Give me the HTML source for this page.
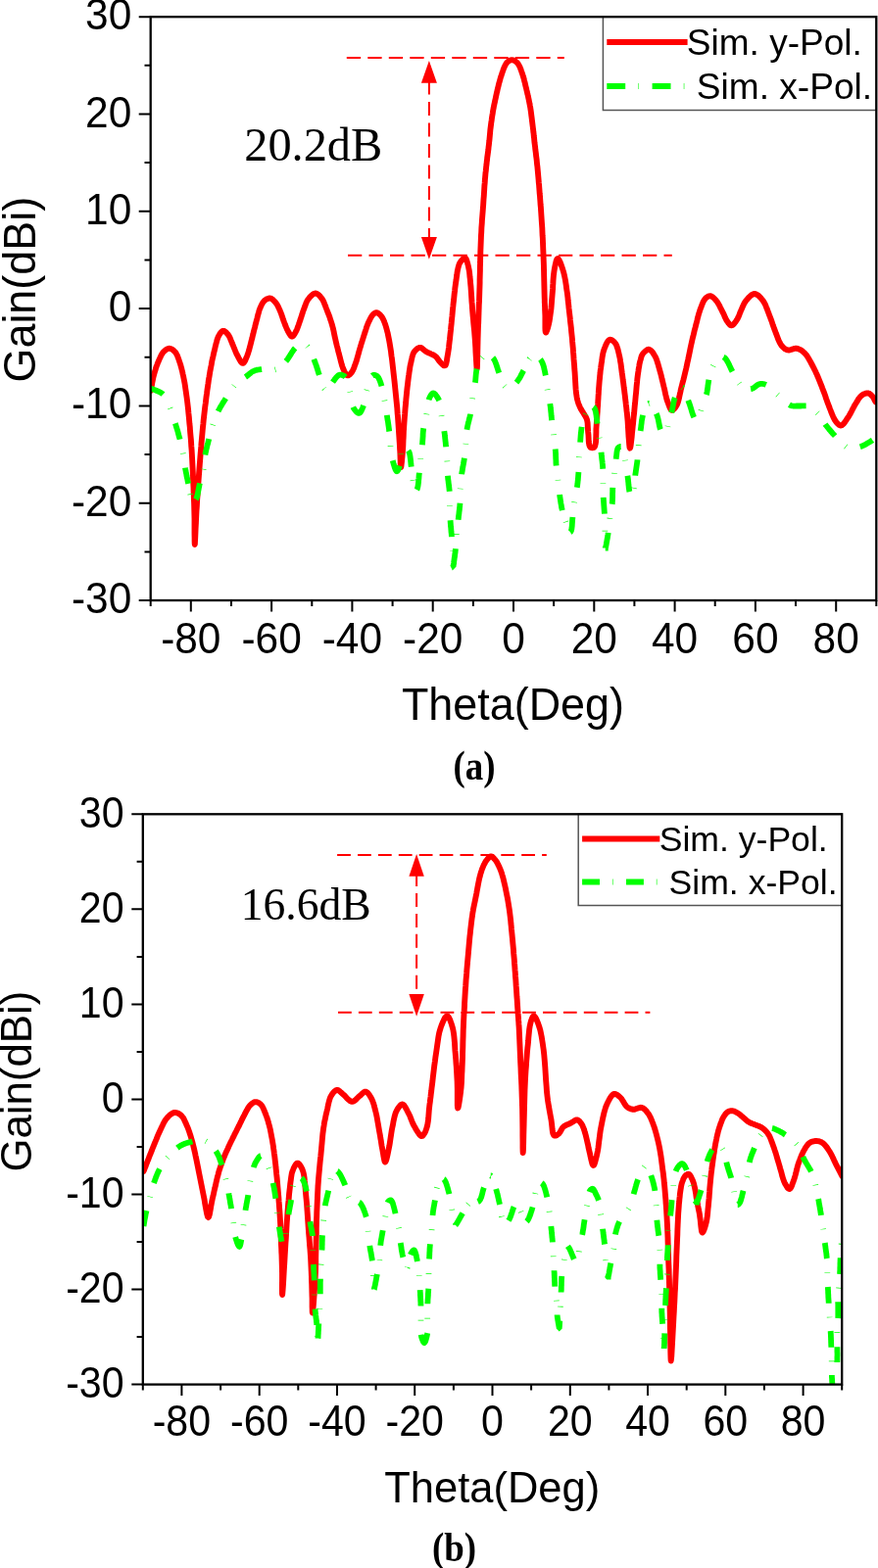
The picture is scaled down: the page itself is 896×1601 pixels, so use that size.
<!DOCTYPE html>
<html><head><meta charset="utf-8"><style>
html,body{margin:0;padding:0;background:#fff;}
svg{display:block;}
.sans{font-family:"Liberation Sans",Arial,sans-serif;fill:#000;}
.serifb{font-family:"Liberation Serif","Times New Roman",serif;font-weight:bold;fill:#000;}
.serif{font-family:"Liberation Serif","Times New Roman",serif;fill:#000;}
</style></head><body>
<svg width="896" height="1601" viewBox="0 0 896 1601">
<rect width="896" height="1601" fill="#fff"/>
<path d="M141.7,613.0 H153.7 M147.5,563.4 H153.7 M141.7,513.7 H153.7 M147.5,464.0 H153.7 M141.7,414.4 H153.7 M147.5,364.8 H153.7 M141.7,315.1 H153.7 M147.5,265.4 H153.7 M141.7,215.8 H153.7 M147.5,166.1 H153.7 M141.7,116.5 H153.7 M147.5,66.8 H153.7 M141.7,17.2 H153.7 M153.7,613.0 V619.0 M194.8,613.0 V624.5 M236.0,613.0 V619.0 M277.1,613.0 V624.5 M318.3,613.0 V619.0 M359.4,613.0 V624.5 M400.6,613.0 V619.0 M441.7,613.0 V624.5 M482.9,613.0 V619.0 M524.0,613.0 V624.5 M565.1,613.0 V619.0 M606.3,613.0 V624.5 M647.4,613.0 V619.0 M688.6,613.0 V624.5 M729.7,613.0 V619.0 M770.9,613.0 V624.5 M812.0,613.0 V619.0 M853.2,613.0 V624.5 M894.3,613.0 V619.0" stroke="#000" stroke-width="2" fill="none"/>
<clipPath id="c1"><rect x="153.7" y="17.2" width="740.5999999999999" height="595.8"/></clipPath>
<g clip-path="url(#c1)">
<path d="M153.9,398.8 L154.3,396.8 L154.6,394.8 L155.0,392.8 L155.3,390.9 L155.7,388.9 L156.1,386.9 L156.5,385.0 L157.0,383.1 L157.5,381.3 L158.0,379.4 L158.6,377.6 L159.1,375.8 L159.7,374.0 L160.4,372.3 L161.0,370.6 L161.7,369.0 L162.3,367.6 L162.9,366.2 L163.6,364.8 L164.2,363.4 L164.9,362.1 L165.6,360.9 L166.4,359.8 L167.2,358.9 L167.9,358.3 L168.6,357.7 L169.3,357.1 L170.1,356.7 L170.8,356.3 L171.6,356.0 L172.4,355.8 L173.1,355.8 L173.8,355.9 L174.6,356.2 L175.4,356.6 L176.1,357.1 L176.9,357.6 L177.6,358.3 L178.3,359.0 L178.9,359.7 L179.7,360.7 L180.3,361.9 L181.0,363.2 L181.5,364.6 L182.1,366.1 L182.6,367.6 L183.1,369.1 L183.6,370.6 L184.2,372.4 L184.7,374.2 L185.2,376.1 L185.7,378.1 L186.2,380.0 L186.6,382.1 L187.1,384.1 L187.5,386.2 L188.0,388.8 L188.5,391.4 L188.9,394.0 L189.3,396.8 L189.7,399.5 L190.1,402.3 L190.5,405.2 L190.9,408.1 L191.3,411.4 L191.7,414.9 L192.1,418.4 L192.4,422.0 L192.8,425.6 L193.1,429.2 L193.4,432.7 L193.8,436.2 L194.0,439.6 L194.3,442.9 L194.6,446.2 L194.9,449.4 L195.1,452.7 L195.3,456.0 L195.6,459.4 L195.8,462.8 L196.0,466.6 L196.2,470.4 L196.4,474.3 L196.6,478.2 L196.8,482.2 L197.0,486.1 L197.1,490.1 L197.3,494.0 L197.5,497.9 L197.6,501.8 L197.8,505.7 L197.9,509.7 L198.1,513.6 L198.2,517.5 L198.3,521.4 L198.4,525.3 L198.5,529.6 L198.5,534.4 L198.5,539.5 L198.5,544.5 L198.6,549.0 L198.6,552.6 L198.7,555.1 L198.8,556.0 L198.9,555.1 L199.0,552.7 L199.2,549.0 L199.4,544.5 L199.6,539.5 L199.9,534.4 L200.1,529.6 L200.3,525.3 L200.5,521.4 L200.8,517.5 L201.0,513.6 L201.2,509.7 L201.5,505.7 L201.8,501.8 L202.0,497.9 L202.3,494.0 L202.6,490.1 L202.9,486.1 L203.2,482.2 L203.5,478.2 L203.8,474.3 L204.1,470.4 L204.4,466.6 L204.7,462.8 L205.0,459.4 L205.3,456.0 L205.5,452.7 L205.8,449.4 L206.1,446.2 L206.4,442.9 L206.7,439.6 L207.0,436.2 L207.4,432.8 L207.7,429.2 L208.1,425.7 L208.5,422.2 L208.9,418.6 L209.3,415.1 L209.8,411.6 L210.2,408.1 L210.6,404.7 L211.1,401.4 L211.5,398.0 L212.0,394.7 L212.5,391.4 L212.9,388.1 L213.5,384.8 L214.0,381.6 L214.5,378.6 L215.1,375.5 L215.7,372.5 L216.2,369.4 L216.8,366.5 L217.5,363.6 L218.1,360.8 L218.8,358.1 L219.3,355.9 L219.8,353.7 L220.3,351.6 L220.9,349.5 L221.4,347.5 L222.0,345.6 L222.7,343.9 L223.4,342.5 L223.9,341.7 L224.4,340.8 L224.9,340.1 L225.5,339.4 L226.1,338.8 L226.6,338.3 L227.2,337.9 L227.8,337.8 L228.4,337.9 L229.0,338.1 L229.7,338.5 L230.3,339.0 L231.0,339.6 L231.6,340.3 L232.2,341.0 L232.8,341.7 L233.5,342.7 L234.1,343.8 L234.7,345.1 L235.3,346.4 L235.8,347.8 L236.4,349.2 L236.9,350.6 L237.5,351.9 L238.1,353.3 L238.6,354.6 L239.2,356.0 L239.8,357.5 L240.3,358.8 L240.9,360.2 L241.5,361.5 L242.2,362.8 L242.8,364.0 L243.5,365.3 L244.2,366.7 L245.0,368.0 L245.7,369.2 L246.4,370.1 L247.1,370.7 L247.8,370.9 L248.4,370.7 L249.0,370.1 L249.6,369.2 L250.2,368.2 L250.7,366.9 L251.3,365.6 L251.8,364.3 L252.3,363.1 L252.9,361.4 L253.5,359.6 L254.1,357.7 L254.6,355.7 L255.1,353.7 L255.7,351.6 L256.2,349.5 L256.7,347.5 L257.3,345.3 L257.8,343.1 L258.4,340.8 L258.9,338.5 L259.5,336.3 L260.1,334.0 L260.6,331.8 L261.2,329.6 L261.7,327.6 L262.3,325.5 L262.8,323.4 L263.3,321.3 L263.9,319.3 L264.4,317.4 L265.0,315.6 L265.7,314.0 L266.2,312.9 L266.7,311.8 L267.2,310.8 L267.7,309.9 L268.2,309.0 L268.8,308.2 L269.4,307.4 L270.1,306.8 L270.7,306.3 L271.4,305.8 L272.1,305.4 L272.8,305.0 L273.6,304.8 L274.3,304.6 L275.0,304.5 L275.7,304.5 L276.4,304.7 L277.2,305.1 L277.9,305.5 L278.6,306.1 L279.3,306.8 L280.0,307.5 L280.7,308.3 L281.3,309.0 L282.0,309.9 L282.6,310.8 L283.2,311.8 L283.7,312.9 L284.3,314.0 L284.8,315.1 L285.3,316.2 L285.8,317.4 L286.4,318.8 L287.0,320.3 L287.5,321.9 L288.1,323.5 L288.6,325.1 L289.1,326.6 L289.7,328.2 L290.2,329.6 L290.7,330.8 L291.1,332.0 L291.6,333.2 L292.1,334.4 L292.6,335.5 L293.0,336.6 L293.6,337.6 L294.1,338.6 L294.6,339.4 L295.0,340.2 L295.5,341.1 L296.0,341.8 L296.5,342.5 L297.0,343.1 L297.5,343.5 L298.0,343.6 L298.5,343.5 L299.0,343.1 L299.5,342.6 L300.0,341.9 L300.5,341.1 L301.0,340.3 L301.5,339.4 L301.9,338.6 L302.5,337.5 L303.0,336.4 L303.5,335.2 L303.9,333.9 L304.4,332.6 L304.9,331.2 L305.3,329.9 L305.8,328.5 L306.4,326.9 L306.9,325.2 L307.5,323.5 L308.0,321.8 L308.6,320.1 L309.1,318.3 L309.7,316.7 L310.3,315.1 L310.8,313.7 L311.3,312.4 L311.8,311.0 L312.3,309.7 L312.8,308.5 L313.4,307.3 L314.1,306.1 L314.8,305.1 L315.6,304.2 L316.4,303.2 L317.3,302.3 L318.3,301.4 L319.2,300.6 L320.2,300.0 L321.1,299.6 L322.0,299.5 L322.8,299.6 L323.6,300.0 L324.5,300.5 L325.3,301.2 L326.1,302.0 L326.8,302.8 L327.5,303.7 L328.2,304.5 L328.9,305.5 L329.5,306.5 L330.1,307.6 L330.6,308.8 L331.1,310.1 L331.6,311.3 L332.1,312.6 L332.6,314.0 L333.3,315.8 L334.1,317.8 L334.9,319.8 L335.7,321.9 L336.5,324.1 L337.2,326.3 L337.9,328.4 L338.6,330.6 L339.2,332.8 L339.8,335.0 L340.3,337.2 L340.8,339.5 L341.2,341.7 L341.7,344.0 L342.2,346.2 L342.7,348.4 L343.2,350.5 L343.7,352.7 L344.3,354.8 L344.8,356.9 L345.3,359.0 L345.9,361.1 L346.4,363.1 L346.9,365.0 L347.3,366.6 L347.7,368.2 L348.1,369.8 L348.5,371.3 L348.9,372.8 L349.4,374.3 L349.9,375.6 L350.4,376.9 L350.9,377.9 L351.3,379.0 L351.8,380.0 L352.4,381.0 L352.9,381.9 L353.5,382.6 L354.0,383.1 L354.6,383.4 L355.1,383.4 L355.6,383.2 L356.1,382.9 L356.7,382.5 L357.2,382.1 L357.7,381.5 L358.2,381.0 L358.7,380.4 L359.3,379.5 L359.9,378.5 L360.4,377.4 L361.0,376.2 L361.5,374.9 L361.9,373.6 L362.4,372.2 L362.9,370.9 L363.5,369.3 L364.0,367.6 L364.5,365.8 L365.0,364.0 L365.5,362.2 L366.0,360.4 L366.5,358.5 L367.0,356.7 L367.6,354.8 L368.2,352.9 L368.7,350.9 L369.4,349.0 L370.0,347.0 L370.6,345.1 L371.2,343.2 L371.8,341.3 L372.4,339.6 L372.9,337.9 L373.5,336.1 L374.0,334.4 L374.6,332.8 L375.2,331.2 L375.8,329.6 L376.5,328.2 L377.1,327.1 L377.6,325.9 L378.2,324.8 L378.8,323.7 L379.4,322.8 L380.0,321.9 L380.7,321.1 L381.3,320.5 L381.7,320.2 L382.1,319.9 L382.6,319.7 L383.0,319.5 L383.5,319.3 L383.9,319.3 L384.4,319.2 L384.8,319.3 L385.4,319.5 L386.0,319.8 L386.6,320.3 L387.3,320.8 L387.9,321.4 L388.5,322.1 L389.1,322.8 L389.6,323.5 L390.2,324.4 L390.8,325.5 L391.3,326.6 L391.9,327.8 L392.3,329.0 L392.8,330.3 L393.3,331.7 L393.7,333.0 L394.2,334.7 L394.7,336.5 L395.2,338.4 L395.7,340.3 L396.1,342.3 L396.5,344.3 L396.9,346.3 L397.3,348.4 L397.7,350.8 L398.1,353.2 L398.5,355.7 L398.9,358.2 L399.2,360.8 L399.5,363.4 L399.9,365.9 L400.2,368.5 L400.5,371.1 L400.8,373.8 L401.1,376.4 L401.4,379.1 L401.7,381.8 L402.0,384.5 L402.3,387.2 L402.6,389.9 L402.9,392.8 L403.2,395.7 L403.5,398.7 L403.8,401.7 L404.1,404.7 L404.4,407.6 L404.7,410.6 L405.0,413.6 L405.3,416.6 L405.5,419.5 L405.7,422.5 L406.0,425.4 L406.2,428.4 L406.4,431.4 L406.6,434.3 L406.8,437.3 L407.0,440.3 L407.2,443.4 L407.4,446.4 L407.6,449.5 L407.8,452.5 L408.0,455.5 L408.1,458.3 L408.3,461.1 L408.4,463.5 L408.5,466.1 L408.6,468.8 L408.7,471.4 L408.7,473.7 L408.8,475.5 L409.0,476.7 L409.1,477.2 L409.3,476.8 L409.5,475.5 L409.7,473.7 L410.0,471.4 L410.2,468.8 L410.5,466.1 L410.7,463.5 L410.9,461.1 L411.1,458.3 L411.3,455.5 L411.4,452.5 L411.5,449.5 L411.7,446.4 L411.8,443.4 L411.9,440.3 L412.1,437.3 L412.3,434.3 L412.5,431.4 L412.7,428.4 L412.9,425.4 L413.2,422.5 L413.4,419.5 L413.6,416.6 L413.9,413.6 L414.2,410.6 L414.4,407.6 L414.7,404.6 L415.0,401.6 L415.3,398.6 L415.6,395.6 L416.0,392.7 L416.3,389.9 L416.6,387.4 L416.9,384.9 L417.3,382.4 L417.6,380.0 L418.0,377.6 L418.3,375.3 L418.7,373.0 L419.2,370.9 L419.6,369.2 L419.9,367.6 L420.3,365.9 L420.6,364.4 L421.1,362.9 L421.5,361.5 L422.1,360.2 L422.8,359.1 L423.4,358.3 L424.1,357.6 L424.8,356.9 L425.6,356.2 L426.3,355.7 L427.1,355.3 L427.9,355.0 L428.7,354.9 L429.5,355.0 L430.2,355.3 L431.0,355.9 L431.7,356.5 L432.5,357.2 L433.3,357.9 L434.1,358.5 L435.0,359.1 L436.1,359.7 L437.3,360.3 L438.6,360.8 L439.9,361.4 L441.2,361.9 L442.4,362.5 L443.5,363.2 L444.5,363.9 L445.2,364.5 L445.8,365.2 L446.4,366.0 L446.9,366.7 L447.4,367.4 L447.9,368.2 L448.4,368.9 L449.0,369.5 L449.6,370.1 L450.3,370.8 L450.9,371.5 L451.6,372.2 L452.3,372.8 L452.9,373.2 L453.5,373.4 L454.0,373.4 L454.6,373.0 L455.0,372.1 L455.4,370.9 L455.7,369.5 L456.0,367.9 L456.2,366.2 L456.5,364.4 L456.8,362.8 L457.2,360.4 L457.6,357.9 L458.0,355.1 L458.3,352.3 L458.6,349.4 L459.0,346.4 L459.3,343.4 L459.6,340.4 L460.0,337.0 L460.3,333.6 L460.7,330.1 L461.0,326.5 L461.4,323.0 L461.7,319.4 L462.0,315.9 L462.4,312.5 L462.7,309.3 L463.1,306.2 L463.4,303.0 L463.7,299.9 L464.1,296.8 L464.4,293.8 L464.8,290.9 L465.2,288.0 L465.6,285.5 L465.9,283.0 L466.3,280.5 L466.6,278.1 L467.0,275.8 L467.5,273.6 L468.0,271.7 L468.5,270.1 L468.8,269.4 L469.1,268.7 L469.5,268.1 L469.8,267.6 L470.1,267.1 L470.5,266.6 L470.9,266.1 L471.3,265.7 L471.7,265.3 L472.1,264.8 L472.5,264.4 L473.0,263.9 L473.4,263.6 L473.8,263.3 L474.2,263.2 L474.6,263.2 L475.1,263.6 L475.6,264.3 L476.1,265.3 L476.5,266.6 L476.9,268.0 L477.3,269.5 L477.7,271.0 L478.0,272.4 L478.4,274.3 L478.8,276.3 L479.1,278.4 L479.3,280.6 L479.5,282.9 L479.8,285.2 L480.0,287.6 L480.2,290.0 L480.5,292.9 L480.7,295.9 L480.9,298.9 L481.1,302.1 L481.3,305.2 L481.5,308.5 L481.8,311.7 L482.0,315.0 L482.3,318.7 L482.6,322.5 L483.0,326.3 L483.3,330.2 L483.7,334.1 L484.1,338.0 L484.4,341.9 L484.7,345.8 L485.0,350.1 L485.3,354.9 L485.5,360.0 L485.8,365.0 L486.1,369.5 L486.3,373.1 L486.5,375.6 L486.7,376.5 L486.9,375.6 L487.0,373.1 L487.1,369.4 L487.2,364.8 L487.3,359.8 L487.4,354.7 L487.5,349.9 L487.6,345.8 L487.7,342.5 L487.8,339.2 L487.9,335.9 L488.0,332.7 L488.2,329.5 L488.3,326.4 L488.4,323.2 L488.5,320.0 L488.6,316.9 L488.7,313.8 L488.8,310.7 L489.0,307.7 L489.1,304.6 L489.2,301.6 L489.3,298.5 L489.4,295.4 L489.5,292.3 L489.6,289.1 L489.6,285.9 L489.7,282.7 L489.8,279.5 L489.9,276.4 L489.9,273.3 L490.0,270.3 L490.1,267.7 L490.1,265.1 L490.2,262.6 L490.3,260.1 L490.3,257.6 L490.4,255.2 L490.5,252.7 L490.6,250.2 L490.7,247.7 L490.8,245.2 L490.9,242.7 L491.0,240.1 L491.2,237.6 L491.3,235.1 L491.4,232.6 L491.6,230.1 L491.8,227.6 L491.9,225.1 L492.1,222.7 L492.3,220.2 L492.5,217.7 L492.7,215.2 L492.9,212.6 L493.1,210.0 L493.3,206.8 L493.5,203.5 L493.8,200.1 L494.0,196.7 L494.2,193.3 L494.4,189.9 L494.7,186.7 L494.9,183.6 L495.1,181.2 L495.3,178.9 L495.5,176.6 L495.8,174.4 L496.0,172.3 L496.2,170.1 L496.5,167.9 L496.7,165.7 L497.0,163.5 L497.2,161.2 L497.5,159.0 L497.8,156.8 L498.1,154.6 L498.4,152.4 L498.6,150.1 L498.9,147.9 L499.1,145.7 L499.4,143.4 L499.6,141.2 L499.8,139.0 L500.0,136.7 L500.2,134.5 L500.4,132.3 L500.7,130.0 L501.0,127.6 L501.3,125.2 L501.7,122.7 L502.0,120.2 L502.4,117.8 L502.8,115.4 L503.1,113.2 L503.5,111.1 L503.8,109.6 L504.0,108.3 L504.3,107.0 L504.6,105.7 L504.9,104.4 L505.1,103.2 L505.4,101.9 L505.7,100.6 L506.0,99.2 L506.3,97.7 L506.6,96.3 L506.9,94.8 L507.3,93.4 L507.6,91.9 L507.9,90.5 L508.3,89.0 L508.7,87.5 L509.0,86.1 L509.4,84.6 L509.8,83.2 L510.2,81.7 L510.6,80.3 L511.0,78.8 L511.5,77.4 L512.0,75.9 L512.5,74.3 L513.1,72.7 L513.6,71.1 L514.2,69.6 L514.8,68.2 L515.4,66.9 L516.0,65.8 L516.4,65.2 L516.7,64.7 L517.1,64.2 L517.4,63.8 L517.8,63.4 L518.2,63.0 L518.6,62.7 L519.0,62.4 L519.4,62.2 L519.8,61.9 L520.2,61.7 L520.7,61.5 L521.1,61.4 L521.5,61.3 L522.0,61.2 L522.4,61.2 L522.8,61.2 L523.3,61.3 L523.7,61.4 L524.1,61.5 L524.6,61.7 L525.0,61.9 L525.4,62.2 L525.8,62.4 L526.2,62.7 L526.7,63.0 L527.1,63.4 L527.5,63.8 L527.9,64.2 L528.3,64.7 L528.7,65.2 L529.1,65.8 L529.7,66.9 L530.4,68.2 L531.0,69.6 L531.6,71.1 L532.1,72.7 L532.7,74.3 L533.2,75.9 L533.7,77.4 L534.1,78.8 L534.6,80.3 L534.9,81.7 L535.3,83.2 L535.7,84.6 L536.0,86.1 L536.3,87.5 L536.7,89.0 L537.1,90.5 L537.4,91.9 L537.8,93.4 L538.1,94.8 L538.4,96.3 L538.8,97.7 L539.1,99.2 L539.4,100.6 L539.7,101.9 L539.9,103.2 L540.2,104.4 L540.4,105.7 L540.7,107.0 L540.9,108.3 L541.2,109.6 L541.4,111.1 L541.7,113.2 L542.0,115.4 L542.3,117.8 L542.6,120.2 L542.9,122.7 L543.2,125.2 L543.5,127.6 L543.8,130.0 L544.1,132.3 L544.3,134.5 L544.6,136.7 L544.8,139.0 L545.1,141.2 L545.3,143.4 L545.5,145.7 L545.8,147.9 L546.1,150.1 L546.3,152.4 L546.6,154.6 L546.9,156.8 L547.1,159.0 L547.4,161.2 L547.7,163.5 L547.9,165.7 L548.1,167.9 L548.4,170.1 L548.6,172.3 L548.8,174.5 L549.0,176.7 L549.2,179.0 L549.4,181.3 L549.6,183.6 L549.8,186.3 L550.1,189.0 L550.3,191.7 L550.5,194.5 L550.7,197.4 L551.0,200.2 L551.2,203.1 L551.4,205.9 L551.6,208.9 L551.9,211.9 L552.1,215.0 L552.3,218.1 L552.5,221.1 L552.7,224.2 L552.9,227.2 L553.1,230.1 L553.3,232.7 L553.4,235.3 L553.5,237.8 L553.6,240.3 L553.8,242.7 L553.9,245.2 L554.0,247.7 L554.1,250.2 L554.2,252.7 L554.3,255.1 L554.4,257.5 L554.5,259.9 L554.6,262.4 L554.7,264.9 L554.8,267.5 L554.9,270.3 L555.0,274.1 L555.1,278.3 L555.2,282.7 L555.3,287.2 L555.4,291.6 L555.5,295.9 L555.6,299.9 L555.7,303.6 L555.8,305.9 L555.8,308.1 L555.9,310.1 L556.0,312.1 L556.1,314.0 L556.1,315.9 L556.2,317.9 L556.3,320.0 L556.4,322.6 L556.4,325.6 L556.4,328.9 L556.4,332.0 L556.4,334.9 L556.5,337.3 L556.7,338.9 L557.0,339.5 L557.2,339.4 L557.5,338.9 L557.8,338.2 L558.2,337.3 L558.5,336.3 L558.9,335.2 L559.2,334.1 L559.5,333.0 L559.9,331.4 L560.3,329.6 L560.7,327.6 L561.0,325.6 L561.3,323.5 L561.6,321.3 L561.9,319.1 L562.2,317.0 L562.5,314.6 L562.7,312.1 L562.9,309.6 L563.1,307.1 L563.3,304.5 L563.5,302.0 L563.7,299.4 L563.9,296.9 L564.1,294.4 L564.2,291.8 L564.4,289.2 L564.5,286.6 L564.7,284.0 L564.9,281.5 L565.2,279.1 L565.5,276.8 L565.8,274.9 L566.2,272.8 L566.6,270.7 L567.1,268.6 L567.5,266.8 L568.0,265.4 L568.5,264.4 L569.1,264.0 L569.7,264.3 L570.4,265.3 L571.2,266.7 L572.0,268.5 L572.7,270.6 L573.5,272.7 L574.2,274.9 L574.8,276.8 L575.4,279.1 L576.0,281.5 L576.5,284.0 L577.0,286.5 L577.4,289.1 L577.8,291.7 L578.1,294.3 L578.5,296.9 L578.9,299.4 L579.2,301.9 L579.5,304.4 L579.7,306.9 L580.0,309.5 L580.3,312.0 L580.5,314.5 L580.8,317.0 L581.1,319.5 L581.4,322.1 L581.7,324.6 L581.9,327.1 L582.2,329.7 L582.5,332.2 L582.8,334.6 L583.0,337.0 L583.2,339.1 L583.4,341.0 L583.6,342.9 L583.8,344.8 L584.0,346.8 L584.1,348.7 L584.3,350.8 L584.5,353.0 L584.8,356.1 L585.0,359.4 L585.3,362.8 L585.5,366.4 L585.8,369.9 L586.1,373.5 L586.3,377.1 L586.6,380.5 L586.8,383.8 L587.0,387.2 L587.2,390.7 L587.4,394.1 L587.6,397.3 L587.9,400.5 L588.3,403.4 L588.7,406.0 L589.0,407.5 L589.4,409.0 L589.8,410.3 L590.2,411.6 L590.6,412.8 L591.1,413.9 L591.6,415.1 L592.1,416.2 L592.6,417.2 L593.1,418.1 L593.6,418.9 L594.1,419.8 L594.7,420.6 L595.2,421.5 L595.7,422.3 L596.2,423.1 L596.6,423.8 L597.0,424.4 L597.4,425.1 L597.7,425.7 L598.1,426.3 L598.4,427.0 L598.7,427.8 L599.0,428.6 L599.3,430.0 L599.6,431.6 L599.7,433.2 L599.8,435.0 L599.9,436.9 L600.0,438.7 L600.1,440.5 L600.3,442.3 L600.5,444.2 L600.6,446.3 L600.7,448.5 L600.8,450.6 L601.0,452.6 L601.3,454.3 L601.8,455.7 L602.4,456.6 L602.8,456.9 L603.3,457.1 L603.9,457.2 L604.4,457.3 L605.0,457.2 L605.6,457.1 L606.1,456.9 L606.5,456.6 L607.2,455.4 L607.7,453.4 L608.1,450.8 L608.2,447.8 L608.3,444.6 L608.4,441.4 L608.4,438.2 L608.6,435.4 L608.8,432.8 L609.0,430.2 L609.2,427.7 L609.3,425.1 L609.5,422.5 L609.7,419.9 L609.8,417.4 L610.0,414.8 L610.2,412.2 L610.3,409.6 L610.5,407.1 L610.6,404.5 L610.8,401.9 L610.9,399.3 L611.1,396.8 L611.3,394.2 L611.5,391.6 L611.7,389.0 L612.0,386.4 L612.2,383.8 L612.5,381.2 L612.7,378.6 L613.1,376.1 L613.4,373.6 L613.7,371.3 L614.1,368.9 L614.4,366.5 L614.7,364.2 L615.1,361.9 L615.6,359.7 L616.2,357.7 L616.8,355.8 L617.4,354.4 L618.0,352.9 L618.6,351.5 L619.3,350.1 L620.0,348.9 L620.7,347.9 L621.5,347.2 L622.3,346.8 L623.0,346.8 L623.7,346.9 L624.4,347.2 L625.1,347.7 L625.8,348.3 L626.6,348.9 L627.2,349.6 L627.8,350.3 L628.5,351.4 L629.2,352.7 L629.7,354.2 L630.2,355.7 L630.7,357.4 L631.1,359.1 L631.5,360.9 L631.9,362.6 L632.4,364.7 L632.8,366.8 L633.1,369.0 L633.5,371.2 L633.8,373.5 L634.1,375.8 L634.4,378.2 L634.7,380.5 L635.1,383.0 L635.4,385.5 L635.7,388.0 L636.1,390.6 L636.4,393.2 L636.7,395.8 L637.1,398.4 L637.4,401.1 L637.8,404.1 L638.1,407.0 L638.5,410.1 L638.8,413.1 L639.2,416.2 L639.5,419.4 L639.9,422.5 L640.2,425.8 L640.6,430.0 L640.9,435.0 L641.2,440.2 L641.5,445.4 L641.9,450.1 L642.2,454.0 L642.5,456.6 L642.9,457.6 L643.2,457.0 L643.6,455.2 L643.9,452.6 L644.3,449.4 L644.7,445.9 L645.0,442.2 L645.4,438.6 L645.7,435.4 L646.1,432.1 L646.4,428.8 L646.7,425.3 L647.1,421.9 L647.4,418.4 L647.7,414.9 L648.1,411.4 L648.4,408.0 L648.7,404.5 L649.1,400.9 L649.4,397.2 L649.7,393.6 L650.1,390.0 L650.4,386.6 L650.8,383.4 L651.2,380.5 L651.5,378.7 L651.7,376.9 L652.0,375.3 L652.3,373.7 L652.5,372.2 L652.8,370.7 L653.1,369.3 L653.5,368.0 L653.8,367.0 L654.0,366.1 L654.3,365.1 L654.5,364.2 L654.8,363.4 L655.2,362.6 L655.6,361.8 L656.1,361.1 L656.7,360.4 L657.4,359.6 L658.2,358.9 L659.0,358.2 L659.9,357.6 L660.7,357.1 L661.5,356.8 L662.3,356.8 L663.1,357.0 L663.9,357.6 L664.7,358.3 L665.5,359.2 L666.3,360.2 L667.0,361.3 L667.7,362.5 L668.4,363.6 L669.2,365.1 L669.9,366.8 L670.5,368.6 L671.1,370.5 L671.7,372.4 L672.2,374.4 L672.8,376.4 L673.3,378.3 L673.9,380.4 L674.5,382.5 L675.0,384.7 L675.5,386.9 L676.1,389.1 L676.6,391.3 L677.1,393.4 L677.6,395.5 L678.1,397.4 L678.5,399.4 L678.9,401.3 L679.3,403.2 L679.8,405.1 L680.2,406.9 L680.7,408.6 L681.3,410.2 L681.8,411.5 L682.3,412.9 L682.8,414.3 L683.3,415.6 L683.8,416.8 L684.4,417.8 L685.0,418.5 L685.6,418.8 L686.2,418.8 L686.8,418.5 L687.4,418.0 L688.1,417.3 L688.7,416.6 L689.4,415.7 L689.9,414.8 L690.5,413.9 L691.3,412.2 L692.0,410.2 L692.6,408.0 L693.2,405.5 L693.7,403.0 L694.3,400.4 L694.8,397.9 L695.4,395.5 L696.0,393.1 L696.6,390.7 L697.3,388.3 L697.9,385.9 L698.5,383.4 L699.1,380.9 L699.7,378.4 L700.3,375.9 L700.9,373.1 L701.5,370.2 L702.2,367.2 L702.8,364.2 L703.4,361.3 L704.0,358.3 L704.6,355.4 L705.2,352.5 L705.8,349.8 L706.4,347.2 L707.0,344.5 L707.7,341.9 L708.3,339.3 L708.9,336.7 L709.6,334.2 L710.2,331.7 L710.8,329.4 L711.4,327.2 L711.9,324.9 L712.5,322.7 L713.1,320.5 L713.8,318.4 L714.4,316.4 L715.1,314.5 L715.7,313.1 L716.2,311.6 L716.8,310.2 L717.3,308.9 L717.9,307.6 L718.6,306.5 L719.3,305.5 L720.0,304.6 L720.6,304.1 L721.1,303.6 L721.7,303.2 L722.4,302.8 L723.0,302.5 L723.6,302.3 L724.3,302.2 L724.9,302.2 L725.7,302.4 L726.4,302.8 L727.2,303.3 L728.0,303.9 L728.8,304.6 L729.5,305.4 L730.3,306.3 L731.0,307.1 L731.9,308.2 L732.7,309.5 L733.5,310.9 L734.3,312.3 L735.0,313.8 L735.8,315.3 L736.5,316.7 L737.2,318.1 L737.8,319.4 L738.5,320.7 L739.1,322.0 L739.6,323.4 L740.2,324.6 L740.8,325.9 L741.4,327.0 L742.1,328.0 L742.6,328.7 L743.1,329.5 L743.6,330.2 L744.2,330.9 L744.7,331.4 L745.3,331.9 L745.8,332.2 L746.4,332.3 L747.1,332.2 L747.8,331.8 L748.5,331.1 L749.2,330.4 L749.9,329.5 L750.6,328.6 L751.3,327.6 L751.9,326.7 L752.6,325.5 L753.3,324.2 L753.9,322.8 L754.5,321.4 L755.0,319.9 L755.6,318.5 L756.2,317.0 L756.8,315.7 L757.3,314.5 L757.8,313.4 L758.3,312.3 L758.8,311.1 L759.4,310.1 L759.9,309.0 L760.6,308.0 L761.3,307.0 L762.2,305.9 L763.2,304.8 L764.3,303.6 L765.4,302.5 L766.6,301.5 L767.7,300.7 L768.9,300.2 L770.0,300.0 L771.1,300.2 L772.2,300.7 L773.4,301.4 L774.5,302.3 L775.6,303.4 L776.7,304.6 L777.7,305.8 L778.6,307.0 L779.6,308.5 L780.5,310.1 L781.3,311.8 L782.0,313.6 L782.8,315.5 L783.5,317.4 L784.2,319.3 L784.9,321.2 L785.7,323.3 L786.5,325.4 L787.3,327.6 L788.1,329.9 L788.8,332.1 L789.6,334.3 L790.4,336.4 L791.2,338.5 L791.9,340.4 L792.7,342.4 L793.4,344.3 L794.1,346.3 L794.9,348.1 L795.7,349.8 L796.6,351.4 L797.5,352.7 L798.2,353.5 L798.9,354.3 L799.7,355.0 L800.4,355.7 L801.2,356.3 L802.0,356.7 L802.9,357.1 L803.8,357.4 L804.9,357.5 L806.0,357.3 L807.2,357.0 L808.4,356.6 L809.7,356.2 L810.9,355.9 L812.1,355.7 L813.2,355.8 L814.3,356.1 L815.3,356.5 L816.4,356.9 L817.4,357.5 L818.4,358.2 L819.3,358.9 L820.2,359.7 L821.1,360.5 L822.0,361.5 L822.9,362.5 L823.7,363.7 L824.5,364.9 L825.2,366.1 L825.9,367.4 L826.7,368.7 L827.4,370.0 L828.2,371.5 L829.0,373.0 L829.8,374.5 L830.6,376.1 L831.4,377.7 L832.2,379.3 L832.9,380.9 L833.7,382.6 L834.5,384.5 L835.3,386.4 L836.1,388.3 L836.9,390.3 L837.7,392.3 L838.5,394.3 L839.2,396.3 L840.0,398.3 L840.8,400.4 L841.6,402.6 L842.4,404.8 L843.1,407.0 L843.9,409.2 L844.7,411.4 L845.5,413.5 L846.3,415.6 L847.0,417.5 L847.8,419.5 L848.5,421.4 L849.3,423.3 L850.1,425.2 L850.9,426.9 L851.7,428.5 L852.6,429.8 L853.2,430.7 L853.9,431.5 L854.6,432.3 L855.3,433.0 L856.0,433.7 L856.7,434.1 L857.4,434.4 L858.1,434.5 L859.0,434.2 L859.9,433.6 L860.8,432.8 L861.7,431.7 L862.6,430.4 L863.5,429.1 L864.3,427.8 L865.2,426.6 L866.2,425.0 L867.2,423.3 L868.2,421.5 L869.2,419.6 L870.1,417.7 L871.1,415.9 L872.0,414.1 L873.0,412.5 L873.8,411.2 L874.5,410.0 L875.3,408.8 L876.0,407.6 L876.8,406.5 L877.6,405.5 L878.4,404.6 L879.3,403.8 L880.0,403.3 L880.8,402.8 L881.6,402.3 L882.5,402.0 L883.3,401.7 L884.1,401.5 L884.9,401.4 L885.6,401.4 L886.2,401.5 L886.8,401.7 L887.4,402.0 L887.9,402.4 L888.5,402.8 L889.0,403.3 L889.5,403.8 L890.0,404.3 L890.5,404.9 L891.0,405.6 L891.5,406.4 L891.9,407.2 L892.3,408.0 L892.7,408.9 L893.2,409.7 L893.6,410.5" stroke="#ff0000" stroke-width="5.9" fill="none" stroke-linejoin="round" stroke-linecap="round"/>
<path d="M153.5,396.5 L154.0,396.7 L154.5,396.9 L155.0,397.0 L155.5,397.2 L155.9,397.4 L156.4,397.6 L156.9,397.7 L157.4,397.9 L157.9,398.1 L158.4,398.3 L158.9,398.5 L159.4,398.8 L160.0,399.0 L160.6,399.3 L161.2,399.5 L161.8,399.8 L162.4,400.0 L163.0,400.3 L163.6,400.6 L164.2,400.9 L164.7,401.3 L165.3,401.7 L165.9,402.2 L166.4,402.7 L167.2,403.6 L167.9,404.6 L168.6,405.8 L169.3,407.1 L170.0,408.4 L170.7,409.8 L171.3,411.2 L171.9,412.7 L172.5,414.2 L173.1,415.6 L173.7,417.0 L174.2,418.3 L174.7,419.5 L175.1,420.6 L175.5,421.8 L176.0,422.9 L176.3,424.1 L176.7,425.2 L177.1,426.4 L177.4,427.6 L177.8,428.7 L178.2,429.9 L178.5,431.1 L178.9,432.3 L179.3,433.6 L179.7,435.0 L180.1,436.3 L180.5,437.7 L181.0,439.1 L181.4,440.5 L181.8,441.9 L182.1,443.3 L182.5,444.7 L182.9,446.1 L183.3,447.4 L183.6,448.8 L183.9,450.0 L184.2,451.1 L184.5,452.3 L184.8,453.5 L185.0,454.6 L185.3,455.8 L185.5,457.0 L185.8,458.1 L186.0,459.3 L186.2,460.4 L186.5,461.6 L186.7,462.8 L186.9,464.0 L187.1,465.2 L187.3,466.5 L187.5,467.7 L187.7,468.9 L187.9,470.2 L188.0,471.4 L188.2,472.7 L188.4,473.9 L188.6,475.2 L188.8,476.4 L189.0,477.7 L189.2,479.0 L189.5,480.4 L189.7,481.8 L190.0,483.1 L190.3,484.5 L190.5,485.9 L190.8,487.3 L191.1,488.6 L191.4,490.0 L191.6,491.3 L191.9,492.7 L192.2,494.0 L192.5,495.2 L192.7,496.5 L192.9,497.8 L193.2,499.2 L193.4,500.5 L193.7,501.7 L193.9,503.0 L194.2,504.2 L194.4,505.3 L194.7,506.3 L195.0,507.3 L195.3,508.1 L195.5,508.5 L195.6,508.9 L195.8,509.3 L196.0,509.7 L196.2,510.0 L196.3,510.3 L196.5,510.6 L196.7,510.9 L196.9,511.1 L197.1,511.3 L197.3,511.4 L197.5,511.5 L197.7,511.5 L197.9,511.5 L198.1,511.4 L198.3,511.3 L198.5,511.2 L198.7,511.1 L199.0,510.9 L199.2,510.7 L199.4,510.5 L199.6,510.2 L199.8,510.0 L200.0,509.7 L200.4,508.9 L200.8,507.9 L201.2,506.8 L201.5,505.5 L201.8,504.0 L202.1,502.5 L202.4,501.0 L202.7,499.4 L203.0,497.8 L203.3,496.2 L203.6,494.7 L203.9,493.3 L204.2,492.0 L204.6,490.7 L204.9,489.4 L205.3,488.2 L205.6,486.9 L206.0,485.6 L206.3,484.4 L206.7,483.1 L207.0,481.8 L207.3,480.6 L207.6,479.3 L207.8,478.1 L208.0,476.9 L208.2,475.8 L208.3,474.7 L208.4,473.5 L208.5,472.4 L208.6,471.3 L208.7,470.2 L208.8,469.0 L208.9,467.9 L209.1,466.7 L209.2,465.6 L209.4,464.4 L209.6,463.1 L209.9,461.7 L210.2,460.4 L210.5,459.0 L210.9,457.6 L211.2,456.2 L211.5,454.8 L211.9,453.4 L212.3,452.0 L212.6,450.7 L213.0,449.3 L213.3,448.0 L213.6,446.8 L213.9,445.6 L214.2,444.4 L214.5,443.2 L214.8,442.0 L215.1,440.9 L215.5,439.7 L215.8,438.5 L216.1,437.4 L216.5,436.2 L216.8,435.1 L217.2,433.9 L217.6,432.7 L218.0,431.5 L218.4,430.3 L218.8,429.1 L219.3,428.0 L219.7,426.8 L220.2,425.6 L220.6,424.4 L221.1,423.3 L221.6,422.1 L222.2,420.9 L222.7,419.8 L223.3,418.7 L223.9,417.5 L224.5,416.4 L225.1,415.3 L225.8,414.2 L226.4,413.1 L227.1,412.0 L227.8,410.9 L228.5,409.8 L229.2,408.7 L229.8,407.7 L230.5,406.6 L231.1,405.6 L231.8,404.5 L232.4,403.5 L233.1,402.4 L233.7,401.4 L234.4,400.4 L235.1,399.3 L235.7,398.4 L236.4,397.4 L237.0,396.5 L237.7,395.6 L238.3,394.8 L238.8,394.2 L239.2,393.7 L239.7,393.1 L240.2,392.6 L240.6,392.1 L241.1,391.6 L241.6,391.2 L242.0,390.7 L242.5,390.3 L243.0,389.8 L243.5,389.4 L244.0,389.0 L244.5,388.6 L245.0,388.2 L245.6,387.9 L246.1,387.6 L246.6,387.2 L247.2,386.9 L247.8,386.6 L248.3,386.3 L248.9,386.0 L249.5,385.6 L250.0,385.3 L250.6,384.9 L251.3,384.4 L251.9,383.9 L252.6,383.4 L253.3,382.8 L254.0,382.2 L254.7,381.6 L255.4,381.1 L256.1,380.5 L256.8,380.0 L257.5,379.5 L258.3,379.1 L259.0,378.8 L259.7,378.5 L260.3,378.2 L261.0,378.0 L261.6,377.9 L262.3,377.7 L263.0,377.6 L263.6,377.5 L264.3,377.4 L265.0,377.3 L265.8,377.2 L266.5,377.2 L267.3,377.1 L268.3,377.1 L269.5,377.1 L270.6,377.2 L271.8,377.3 L273.0,377.5 L274.3,377.6 L275.5,377.7 L276.7,377.8 L277.9,377.8 L279.1,377.8 L280.2,377.6 L281.3,377.3 L282.3,376.9 L283.3,376.4 L284.2,375.8 L285.1,375.2 L286.0,374.5 L286.9,373.8 L287.8,373.0 L288.6,372.1 L289.5,371.3 L290.3,370.4 L291.1,369.6 L291.9,368.7 L292.8,367.7 L293.6,366.6 L294.4,365.4 L295.2,364.2 L296.0,362.9 L296.8,361.7 L297.5,360.4 L298.3,359.2 L299.1,358.1 L299.8,357.0 L300.6,356.1 L301.4,355.3 L301.9,354.8 L302.5,354.3 L303.1,353.9 L303.6,353.5 L304.2,353.1 L304.7,352.7 L305.3,352.4 L305.8,352.2 L306.4,351.9 L306.9,351.7 L307.5,351.6 L308.0,351.5 L308.4,351.5 L308.9,351.4 L309.3,351.5 L309.8,351.5 L310.2,351.6 L310.6,351.7 L311.0,351.8 L311.5,352.0 L311.9,352.2 L312.3,352.4 L312.7,352.7 L313.1,353.0 L313.8,353.7 L314.4,354.5 L315.1,355.4 L315.7,356.5 L316.4,357.7 L317.0,359.0 L317.6,360.3 L318.2,361.7 L318.8,363.1 L319.3,364.4 L319.9,365.7 L320.4,367.0 L320.9,368.3 L321.4,369.6 L321.9,371.0 L322.4,372.3 L322.9,373.7 L323.3,375.1 L323.8,376.5 L324.2,377.9 L324.6,379.2 L325.0,380.6 L325.5,381.9 L325.9,383.2 L326.3,384.4 L326.6,385.5 L327.0,386.7 L327.3,387.9 L327.7,389.1 L328.0,390.3 L328.4,391.4 L328.7,392.5 L329.1,393.5 L329.5,394.5 L329.9,395.3 L330.4,396.0 L330.7,396.4 L331.0,396.8 L331.4,397.2 L331.7,397.6 L332.1,397.9 L332.4,398.2 L332.8,398.5 L333.1,398.7 L333.5,398.9 L333.8,399.0 L334.2,399.0 L334.5,399.0 L335.0,398.8 L335.4,398.4 L335.8,397.8 L336.2,397.1 L336.6,396.2 L337.0,395.3 L337.4,394.4 L337.9,393.4 L338.3,392.4 L338.7,391.5 L339.2,390.6 L339.7,389.9 L340.2,389.2 L340.7,388.5 L341.3,387.8 L341.8,387.0 L342.4,386.3 L342.9,385.6 L343.5,384.9 L344.1,384.3 L344.7,383.8 L345.3,383.3 L345.9,383.0 L346.5,382.8 L347.0,382.7 L347.5,382.7 L348.1,382.7 L348.7,382.8 L349.2,383.0 L349.8,383.2 L350.3,383.4 L350.9,383.7 L351.4,384.0 L351.9,384.4 L352.4,384.8 L352.8,385.2 L353.4,386.0 L354.0,387.0 L354.5,388.2 L354.9,389.4 L355.3,390.8 L355.6,392.3 L356.0,393.8 L356.3,395.3 L356.6,396.9 L356.9,398.4 L357.2,399.8 L357.5,401.2 L357.8,402.5 L358.0,403.8 L358.2,405.1 L358.4,406.5 L358.6,407.8 L358.7,409.1 L358.9,410.4 L359.1,411.7 L359.4,412.9 L359.7,414.0 L360.1,415.0 L360.5,416.0 L360.9,416.7 L361.3,417.4 L361.8,418.1 L362.3,418.8 L362.8,419.4 L363.3,420.0 L363.9,420.6 L364.4,421.1 L364.9,421.5 L365.5,421.7 L365.9,421.9 L366.4,421.9 L366.9,421.7 L367.3,421.4 L367.8,421.0 L368.2,420.4 L368.6,419.7 L369.0,418.9 L369.4,418.0 L369.8,417.1 L370.2,416.2 L370.5,415.3 L370.9,414.4 L371.2,413.6 L371.5,412.6 L371.8,411.5 L372.1,410.4 L372.3,409.2 L372.5,408.0 L372.7,406.8 L372.9,405.6 L373.1,404.3 L373.3,403.1 L373.5,401.8 L373.8,400.6 L374.1,399.4 L374.5,398.0 L374.9,396.5 L375.3,394.9 L375.7,393.3 L376.2,391.6 L376.7,390.0 L377.2,388.5 L377.7,387.1 L378.3,385.8 L378.8,384.8 L379.5,383.9 L380.1,383.4 L380.5,383.2 L380.8,383.1 L381.2,383.0 L381.6,383.0 L382.0,383.0 L382.5,383.0 L382.9,383.1 L383.3,383.2 L383.7,383.4 L384.1,383.6 L384.4,383.8 L384.8,384.0 L385.3,384.5 L385.8,385.1 L386.3,385.8 L386.7,386.6 L387.1,387.5 L387.5,388.4 L387.9,389.4 L388.3,390.5 L388.6,391.5 L389.0,392.6 L389.3,393.6 L389.6,394.6 L389.9,395.7 L390.2,396.9 L390.5,398.1 L390.8,399.3 L391.0,400.6 L391.3,401.9 L391.5,403.1 L391.7,404.4 L391.9,405.7 L392.1,407.0 L392.3,408.2 L392.5,409.5 L392.7,410.7 L392.9,412.0 L393.1,413.2 L393.3,414.4 L393.5,415.6 L393.7,416.8 L393.9,418.1 L394.1,419.3 L394.3,420.5 L394.5,421.8 L394.7,423.0 L394.9,424.3 L395.1,425.7 L395.3,427.0 L395.5,428.4 L395.8,429.8 L396.0,431.2 L396.2,432.6 L396.4,434.0 L396.6,435.4 L396.8,436.8 L397.0,438.2 L397.1,439.6 L397.3,440.9 L397.4,442.1 L397.5,443.3 L397.6,444.5 L397.7,445.7 L397.8,446.9 L397.9,448.0 L398.0,449.2 L398.1,450.4 L398.2,451.5 L398.3,452.7 L398.4,453.9 L398.5,455.1 L398.6,456.4 L398.8,457.7 L398.9,459.0 L399.1,460.3 L399.2,461.7 L399.4,463.0 L399.6,464.3 L399.8,465.7 L400.0,466.9 L400.2,468.2 L400.5,469.4 L400.8,470.6 L401.1,471.6 L401.4,472.7 L401.7,473.9 L402.1,475.1 L402.4,476.2 L402.8,477.4 L403.2,478.4 L403.5,479.3 L403.9,480.1 L404.3,480.7 L404.7,481.1 L405.0,481.2 L405.3,481.1 L405.5,481.0 L405.8,480.6 L406.1,480.2 L406.3,479.8 L406.6,479.2 L406.9,478.6 L407.1,477.9 L407.4,477.3 L407.6,476.6 L407.8,475.9 L408.0,475.3 L408.2,474.3 L408.4,473.2 L408.6,472.0 L408.7,470.7 L408.7,469.3 L408.8,468.0 L408.9,466.6 L408.9,465.3 L409.1,464.1 L409.2,463.0 L409.4,462.0 L409.7,461.1 L409.9,460.7 L410.1,460.2 L410.3,459.8 L410.5,459.4 L410.7,459.1 L410.9,458.7 L411.2,458.4 L411.4,458.1 L411.7,457.9 L411.9,457.7 L412.2,457.6 L412.5,457.5 L412.8,457.5 L413.2,457.5 L413.5,457.6 L413.9,457.8 L414.3,458.0 L414.7,458.3 L415.1,458.6 L415.5,458.9 L415.9,459.3 L416.3,459.7 L416.6,460.1 L416.9,460.5 L417.4,461.4 L417.8,462.4 L418.1,463.7 L418.4,465.0 L418.6,466.5 L418.8,468.0 L419.0,469.5 L419.1,471.1 L419.3,472.7 L419.4,474.2 L419.6,475.7 L419.8,477.1 L420.0,478.3 L420.1,479.6 L420.3,480.8 L420.4,482.0 L420.6,483.3 L420.7,484.5 L420.9,485.7 L421.0,486.9 L421.1,488.0 L421.3,489.2 L421.4,490.3 L421.6,491.4 L421.7,492.4 L421.9,493.4 L422.0,494.5 L422.1,495.6 L422.2,496.6 L422.4,497.7 L422.5,498.7 L422.6,499.5 L422.8,500.3 L423.0,500.9 L423.2,501.3 L423.5,501.5 L423.7,501.5 L423.8,501.5 L424.0,501.4 L424.2,501.3 L424.4,501.2 L424.5,501.0 L424.7,500.8 L424.9,500.6 L425.1,500.4 L425.3,500.1 L425.4,499.9 L425.6,499.6 L425.9,498.8 L426.2,497.7 L426.5,496.5 L426.7,495.1 L426.9,493.5 L427.1,491.9 L427.2,490.2 L427.4,488.5 L427.5,486.8 L427.6,485.2 L427.8,483.6 L427.9,482.2 L428.0,481.0 L428.2,479.8 L428.3,478.6 L428.4,477.5 L428.5,476.4 L428.6,475.2 L428.7,474.1 L428.8,473.0 L428.9,471.8 L429.0,470.7 L429.1,469.6 L429.2,468.4 L429.3,467.2 L429.5,466.0 L429.6,464.8 L429.8,463.6 L429.9,462.4 L430.1,461.1 L430.3,459.9 L430.4,458.7 L430.6,457.5 L430.7,456.2 L430.9,455.0 L431.0,453.7 L431.1,452.3 L431.2,450.9 L431.3,449.5 L431.4,448.1 L431.5,446.6 L431.6,445.2 L431.6,443.7 L431.7,442.3 L431.8,440.9 L432.0,439.5 L432.1,438.1 L432.3,436.7 L432.5,435.5 L432.7,434.2 L433.0,433.0 L433.2,431.8 L433.5,430.7 L433.8,429.5 L434.1,428.3 L434.4,427.1 L434.6,426.0 L434.9,424.8 L435.2,423.6 L435.4,422.4 L435.6,421.2 L435.8,419.9 L435.9,418.6 L436.1,417.3 L436.2,415.9 L436.3,414.6 L436.5,413.3 L436.6,412.1 L436.8,410.9 L437.1,409.8 L437.4,408.7 L437.7,407.7 L438.0,407.0 L438.3,406.3 L438.6,405.6 L439.0,404.9 L439.3,404.2 L439.7,403.6 L440.1,403.0 L440.5,402.5 L440.9,402.0 L441.3,401.7 L441.7,401.5 L442.1,401.4 L442.6,401.5 L443.1,401.7 L443.7,402.2 L444.3,402.7 L444.8,403.4 L445.4,404.2 L446.0,405.0 L446.5,405.9 L447.1,406.8 L447.6,407.7 L448.0,408.6 L448.4,409.5 L448.8,410.6 L449.1,411.8 L449.4,413.1 L449.6,414.4 L449.8,415.7 L449.9,417.1 L450.0,418.5 L450.1,420.0 L450.2,421.4 L450.4,422.8 L450.5,424.2 L450.7,425.5 L450.9,426.8 L451.1,428.1 L451.4,429.3 L451.6,430.6 L451.8,431.8 L452.1,433.1 L452.3,434.4 L452.6,435.6 L452.8,436.9 L453.0,438.1 L453.2,439.4 L453.4,440.7 L453.6,442.0 L453.8,443.4 L453.9,444.7 L454.1,446.1 L454.2,447.4 L454.4,448.8 L454.5,450.1 L454.7,451.5 L454.8,452.8 L454.9,454.2 L455.1,455.5 L455.2,456.8 L455.3,458.0 L455.4,459.3 L455.5,460.5 L455.7,461.7 L455.8,463.0 L455.9,464.2 L456.0,465.4 L456.1,466.6 L456.2,467.8 L456.2,469.1 L456.3,470.3 L456.4,471.5 L456.5,472.7 L456.5,473.9 L456.6,475.2 L456.6,476.4 L456.6,477.6 L456.7,478.8 L456.7,480.1 L456.7,481.3 L456.8,482.5 L456.8,483.8 L456.9,485.0 L457.0,486.2 L457.1,487.6 L457.2,488.9 L457.4,490.2 L457.6,491.6 L457.7,492.9 L457.9,494.3 L458.1,495.6 L458.2,497.0 L458.4,498.3 L458.5,499.6 L458.7,501.0 L458.8,502.3 L458.8,503.6 L458.9,504.9 L458.9,506.1 L458.9,507.4 L458.9,508.7 L458.9,510.0 L458.9,511.2 L458.9,512.5 L458.9,513.7 L458.9,515.0 L458.9,516.3 L458.9,517.5 L458.9,518.7 L459.0,519.9 L459.0,521.1 L459.1,522.3 L459.1,523.4 L459.2,524.6 L459.2,525.8 L459.3,527.0 L459.4,528.2 L459.4,529.4 L459.5,530.6 L459.6,531.8 L459.7,533.2 L459.8,534.5 L459.9,535.9 L460.0,537.4 L460.2,538.8 L460.3,540.2 L460.4,541.6 L460.5,543.1 L460.7,544.5 L460.8,545.9 L460.9,547.3 L461.0,548.8 L461.1,550.1 L461.2,551.5 L461.3,552.9 L461.3,554.3 L461.4,555.7 L461.5,557.0 L461.6,558.4 L461.6,559.8 L461.7,561.1 L461.8,562.4 L461.8,563.7 L461.9,565.0 L462.0,566.2 L462.0,567.5 L462.1,568.8 L462.1,570.2 L462.2,571.6 L462.2,572.9 L462.3,574.1 L462.3,575.2 L462.4,576.2 L462.4,576.9 L462.5,577.3 L462.6,577.5 L462.7,577.4 L462.7,577.2 L462.8,576.8 L462.9,576.4 L463.0,575.8 L463.1,575.2 L463.2,574.5 L463.2,573.8 L463.3,573.1 L463.4,572.3 L463.5,571.6 L463.6,571.0 L463.7,570.2 L463.8,569.3 L464.0,568.4 L464.1,567.5 L464.2,566.5 L464.3,565.6 L464.5,564.6 L464.6,563.6 L464.7,562.6 L464.8,561.5 L464.9,560.5 L465.0,559.5 L465.1,558.3 L465.2,557.1 L465.3,555.8 L465.3,554.6 L465.4,553.3 L465.4,552.0 L465.5,550.7 L465.6,549.4 L465.6,548.1 L465.7,546.8 L465.8,545.6 L465.9,544.3 L466.0,543.1 L466.1,541.9 L466.3,540.7 L466.4,539.5 L466.6,538.4 L466.8,537.2 L466.9,536.0 L467.1,534.8 L467.2,533.7 L467.4,532.5 L467.6,531.2 L467.7,530.0 L467.9,528.6 L468.0,527.2 L468.2,525.8 L468.4,524.4 L468.5,523.0 L468.7,521.5 L468.9,520.1 L469.0,518.6 L469.2,517.2 L469.3,515.8 L469.4,514.4 L469.5,513.0 L469.6,511.7 L469.6,510.5 L469.6,509.2 L469.7,508.0 L469.7,506.8 L469.7,505.5 L469.7,504.3 L469.7,503.1 L469.7,501.9 L469.7,500.6 L469.7,499.4 L469.8,498.2 L469.9,497.0 L470.0,495.8 L470.1,494.6 L470.2,493.4 L470.3,492.1 L470.4,490.9 L470.5,489.7 L470.6,488.5 L470.8,487.3 L470.9,486.1 L471.1,484.8 L471.2,483.6 L471.4,482.3 L471.7,480.9 L471.9,479.5 L472.1,478.1 L472.4,476.7 L472.6,475.4 L472.9,474.0 L473.1,472.6 L473.4,471.2 L473.6,469.8 L473.8,468.4 L474.0,467.1 L474.2,465.9 L474.3,464.6 L474.4,463.4 L474.6,462.2 L474.7,461.0 L474.8,459.7 L474.9,458.5 L475.0,457.3 L475.1,456.1 L475.2,454.9 L475.3,453.7 L475.4,452.5 L475.5,451.3 L475.6,450.1 L475.7,448.9 L475.7,447.7 L475.8,446.5 L475.9,445.3 L476.0,444.1 L476.0,442.9 L476.2,441.7 L476.3,440.4 L476.4,439.2 L476.6,438.0 L476.8,436.7 L477.1,435.4 L477.4,434.0 L477.7,432.7 L478.0,431.3 L478.4,430.0 L478.7,428.7 L479.0,427.3 L479.4,426.0 L479.7,424.6 L480.0,423.3 L480.2,422.0 L480.4,420.8 L480.6,419.5 L480.7,418.3 L480.9,417.1 L481.0,415.9 L481.1,414.7 L481.3,413.5 L481.4,412.3 L481.5,411.0 L481.7,409.8 L481.8,408.6 L482.0,407.3 L482.2,405.9 L482.5,404.5 L482.7,403.0 L483.0,401.6 L483.2,400.1 L483.5,398.6 L483.8,397.2 L484.0,395.7 L484.3,394.2 L484.6,392.8 L484.8,391.4 L485.0,390.0 L485.2,388.8 L485.3,387.5 L485.4,386.3 L485.5,385.0 L485.6,383.8 L485.7,382.6 L485.8,381.4 L486.0,380.2 L486.1,379.1 L486.3,378.0 L486.5,376.9 L486.7,375.9 L486.9,375.1 L487.1,374.4 L487.4,373.7 L487.6,373.0 L487.8,372.3 L488.1,371.7 L488.4,371.0 L488.7,370.4 L489.0,369.8 L489.3,369.2 L489.6,368.6 L490.0,368.0 L490.3,367.5 L490.7,366.9 L491.1,366.4 L491.5,365.8 L491.9,365.3 L492.4,364.7 L492.8,364.3 L493.2,363.8 L493.7,363.4 L494.1,363.0 L494.6,362.7 L495.0,362.5 L495.3,362.4 L495.7,362.3 L496.0,362.2 L496.3,362.2 L496.7,362.1 L497.0,362.1 L497.3,362.1 L497.7,362.2 L498.0,362.2 L498.3,362.3 L498.7,362.4 L499.0,362.5 L499.4,362.6 L499.8,362.8 L500.2,363.0 L500.5,363.2 L500.9,363.4 L501.3,363.7 L501.7,364.0 L502.1,364.3 L502.4,364.7 L502.8,365.1 L503.2,365.5 L503.5,365.9 L504.1,366.8 L504.6,367.8 L505.2,369.0 L505.7,370.2 L506.2,371.6 L506.7,373.0 L507.2,374.5 L507.7,376.0 L508.1,377.4 L508.6,378.9 L509.1,380.2 L509.6,381.5 L510.0,382.6 L510.5,383.8 L510.9,385.1 L511.3,386.3 L511.7,387.5 L512.1,388.7 L512.5,389.8 L513.0,390.9 L513.4,391.9 L513.9,392.8 L514.4,393.6 L515.0,394.3 L515.4,394.7 L515.8,395.0 L516.2,395.3 L516.6,395.6 L517.0,395.8 L517.4,396.1 L517.8,396.2 L518.3,396.4 L518.7,396.5 L519.1,396.5 L519.6,396.5 L520.0,396.5 L520.6,396.3 L521.2,396.1 L521.8,395.7 L522.5,395.3 L523.1,394.7 L523.8,394.1 L524.4,393.5 L525.1,392.8 L525.7,392.1 L526.3,391.4 L526.9,390.7 L527.5,390.0 L528.2,389.1 L528.8,388.2 L529.5,387.2 L530.1,386.2 L530.7,385.2 L531.3,384.1 L531.9,383.0 L532.4,381.9 L533.0,380.8 L533.6,379.7 L534.1,378.6 L534.7,377.6 L535.2,376.6 L535.7,375.5 L536.2,374.4 L536.7,373.3 L537.2,372.2 L537.7,371.1 L538.2,370.1 L538.7,369.1 L539.2,368.1 L539.7,367.3 L540.2,366.5 L540.8,365.9 L541.2,365.5 L541.5,365.2 L541.9,364.9 L542.3,364.6 L542.7,364.4 L543.1,364.1 L543.5,363.9 L543.9,363.8 L544.3,363.6 L544.7,363.6 L545.1,363.5 L545.5,363.5 L546.0,363.6 L546.6,363.7 L547.1,363.9 L547.7,364.1 L548.3,364.4 L548.9,364.7 L549.4,365.1 L550.0,365.5 L550.5,366.0 L551.1,366.5 L551.5,367.0 L552.0,367.6 L552.6,368.6 L553.2,369.7 L553.7,370.9 L554.2,372.3 L554.7,373.7 L555.1,375.2 L555.4,376.8 L555.8,378.3 L556.1,379.9 L556.4,381.4 L556.7,382.9 L557.0,384.3 L557.2,385.5 L557.4,386.8 L557.6,388.0 L557.7,389.2 L557.9,390.4 L558.0,391.6 L558.1,392.8 L558.2,394.0 L558.3,395.2 L558.4,396.4 L558.6,397.6 L558.8,398.8 L558.9,399.9 L559.2,401.1 L559.4,402.3 L559.6,403.5 L559.8,404.6 L560.1,405.8 L560.3,407.0 L560.6,408.2 L560.8,409.3 L561.0,410.5 L561.2,411.8 L561.4,413.0 L561.6,414.4 L561.8,415.8 L561.9,417.2 L562.1,418.6 L562.2,420.0 L562.4,421.5 L562.5,422.9 L562.6,424.4 L562.8,425.8 L562.9,427.2 L563.0,428.6 L563.2,430.0 L563.3,431.2 L563.5,432.5 L563.6,433.7 L563.8,434.8 L563.9,436.0 L564.1,437.2 L564.2,438.4 L564.4,439.5 L564.6,440.7 L564.7,441.9 L564.9,443.1 L565.0,444.3 L565.2,445.5 L565.3,446.8 L565.5,448.0 L565.6,449.3 L565.8,450.6 L566.0,451.8 L566.1,453.1 L566.3,454.4 L566.4,455.6 L566.6,456.9 L566.7,458.2 L566.8,459.5 L566.9,460.9 L567.0,462.3 L567.1,463.7 L567.1,465.1 L567.2,466.5 L567.2,468.0 L567.3,469.4 L567.4,470.8 L567.4,472.3 L567.5,473.7 L567.6,475.0 L567.7,476.4 L567.8,477.6 L567.9,478.9 L568.1,480.1 L568.2,481.2 L568.4,482.4 L568.5,483.6 L568.7,484.8 L568.9,485.9 L569.0,487.1 L569.2,488.3 L569.4,489.5 L569.5,490.7 L569.6,491.9 L569.8,493.2 L569.9,494.5 L570.1,495.7 L570.2,497.0 L570.3,498.2 L570.5,499.5 L570.6,500.8 L570.8,502.1 L570.9,503.3 L571.1,504.6 L571.2,505.9 L571.4,507.2 L571.6,508.6 L571.8,509.9 L572.0,511.3 L572.2,512.7 L572.4,514.0 L572.7,515.4 L572.9,516.7 L573.1,518.1 L573.4,519.4 L573.7,520.7 L574.0,522.0 L574.3,523.2 L574.6,524.4 L575.0,525.5 L575.4,526.7 L575.8,527.9 L576.2,529.0 L576.6,530.1 L577.0,531.2 L577.3,532.3 L577.7,533.4 L578.1,534.4 L578.4,535.4 L578.6,536.2 L578.9,537.0 L579.1,537.9 L579.3,538.8 L579.5,539.6 L579.7,540.4 L579.9,541.2 L580.1,541.9 L580.3,542.5 L580.5,543.0 L580.7,543.3 L581.0,543.5 L581.1,543.5 L581.3,543.5 L581.4,543.5 L581.5,543.5 L581.7,543.4 L581.8,543.3 L582.0,543.2 L582.1,543.1 L582.2,543.0 L582.4,542.8 L582.5,542.7 L582.6,542.5 L582.9,541.9 L583.1,541.0 L583.4,539.9 L583.5,538.7 L583.7,537.4 L583.8,535.9 L583.9,534.4 L584.0,532.9 L584.1,531.3 L584.2,529.8 L584.4,528.4 L584.5,527.0 L584.7,525.7 L584.8,524.4 L585.0,523.1 L585.1,521.7 L585.3,520.4 L585.4,519.1 L585.6,517.8 L585.7,516.4 L585.9,515.1 L586.0,513.8 L586.2,512.5 L586.4,511.2 L586.6,510.0 L586.8,508.8 L587.0,507.6 L587.3,506.4 L587.5,505.2 L587.7,504.0 L588.0,502.8 L588.2,501.6 L588.4,500.4 L588.6,499.2 L588.8,498.0 L589.0,496.8 L589.2,495.5 L589.3,494.2 L589.5,492.9 L589.6,491.6 L589.8,490.3 L589.9,488.9 L590.0,487.6 L590.1,486.3 L590.2,485.0 L590.3,483.6 L590.4,482.3 L590.5,481.0 L590.6,479.7 L590.6,478.4 L590.7,477.2 L590.7,475.9 L590.7,474.6 L590.8,473.3 L590.8,472.1 L590.8,470.8 L590.8,469.5 L590.9,468.2 L590.9,467.0 L591.0,465.7 L591.1,464.4 L591.2,463.2 L591.2,461.9 L591.3,460.7 L591.4,459.4 L591.5,458.2 L591.6,456.9 L591.7,455.7 L591.9,454.4 L592.0,453.1 L592.1,451.9 L592.2,450.6 L592.3,449.3 L592.4,448.0 L592.5,446.6 L592.6,445.3 L592.7,444.0 L592.8,442.6 L593.0,441.3 L593.1,440.0 L593.3,438.7 L593.4,437.4 L593.7,436.1 L593.9,434.8 L594.2,433.6 L594.5,432.3 L594.8,431.1 L595.2,429.8 L595.5,428.6 L595.9,427.4 L596.3,426.2 L596.7,425.0 L597.2,423.9 L597.6,422.8 L598.0,421.8 L598.4,420.8 L598.7,420.1 L599.0,419.5 L599.2,418.8 L599.5,418.1 L599.8,417.5 L600.1,416.9 L600.3,416.3 L600.6,415.8 L601.0,415.3 L601.3,415.0 L601.6,414.7 L602.0,414.5 L602.3,414.4 L602.7,414.4 L603.0,414.4 L603.4,414.5 L603.8,414.6 L604.2,414.7 L604.6,414.9 L604.9,415.1 L605.3,415.4 L605.7,415.7 L606.0,416.0 L606.3,416.3 L606.8,417.1 L607.3,418.2 L607.6,419.4 L608.0,420.8 L608.2,422.3 L608.5,423.9 L608.7,425.6 L608.9,427.3 L609.1,429.0 L609.3,430.7 L609.5,432.2 L609.7,433.7 L609.9,435.0 L610.1,436.2 L610.3,437.4 L610.5,438.7 L610.7,439.9 L610.9,441.1 L611.1,442.3 L611.2,443.5 L611.4,444.7 L611.6,445.9 L611.7,447.1 L611.9,448.3 L612.1,449.5 L612.2,450.7 L612.4,451.9 L612.5,453.1 L612.6,454.3 L612.8,455.5 L612.9,456.7 L613.1,458.0 L613.2,459.2 L613.3,460.4 L613.5,461.6 L613.6,462.9 L613.8,464.3 L613.9,465.7 L614.1,467.1 L614.2,468.5 L614.4,469.9 L614.6,471.4 L614.7,472.8 L614.9,474.2 L615.0,475.6 L615.1,477.0 L615.2,478.4 L615.3,479.8 L615.4,481.0 L615.4,482.3 L615.4,483.5 L615.4,484.7 L615.4,485.9 L615.4,487.1 L615.4,488.2 L615.4,489.4 L615.4,490.6 L615.4,491.8 L615.4,493.0 L615.4,494.2 L615.4,495.4 L615.4,496.6 L615.5,497.9 L615.5,499.1 L615.5,500.3 L615.5,501.5 L615.6,502.8 L615.6,504.0 L615.6,505.2 L615.7,506.5 L615.7,507.7 L615.8,509.0 L615.9,510.4 L616.0,511.7 L616.1,513.1 L616.2,514.6 L616.3,516.0 L616.4,517.4 L616.5,518.8 L616.6,520.2 L616.7,521.6 L616.8,523.0 L616.9,524.4 L617.0,525.8 L617.1,527.1 L617.1,528.4 L617.2,529.6 L617.2,530.9 L617.2,532.1 L617.3,533.4 L617.3,534.6 L617.3,535.9 L617.3,537.1 L617.3,538.4 L617.4,539.7 L617.4,541.0 L617.4,542.6 L617.4,544.4 L617.4,546.4 L617.4,548.4 L617.4,550.4 L617.4,552.4 L617.4,554.3 L617.5,556.0 L617.5,557.4 L617.5,558.5 L617.6,559.2 L617.7,559.5 L617.7,559.5 L617.8,559.5 L617.8,559.4 L617.8,559.4 L617.8,559.3 L617.9,559.2 L617.9,559.1 L618.0,559.0 L618.0,558.8 L618.0,558.7 L618.1,558.5 L618.1,558.4 L618.3,557.7 L618.5,556.8 L618.7,555.8 L618.9,554.5 L619.2,553.1 L619.4,551.7 L619.7,550.1 L620.0,548.6 L620.2,547.0 L620.5,545.5 L620.7,544.1 L620.9,542.7 L621.1,541.5 L621.2,540.2 L621.4,539.0 L621.5,537.8 L621.7,536.5 L621.8,535.3 L621.9,534.1 L622.0,532.9 L622.2,531.7 L622.3,530.4 L622.4,529.2 L622.6,528.0 L622.8,526.8 L623.0,525.6 L623.2,524.4 L623.4,523.2 L623.6,522.0 L623.8,520.8 L624.0,519.6 L624.2,518.4 L624.3,517.2 L624.5,516.0 L624.7,514.7 L624.8,513.5 L624.9,512.1 L625.0,510.7 L625.0,509.3 L625.1,507.9 L625.1,506.5 L625.1,505.0 L625.1,503.6 L625.2,502.2 L625.2,500.7 L625.2,499.3 L625.3,498.0 L625.4,496.6 L625.5,495.4 L625.6,494.2 L625.7,493.0 L625.9,491.9 L626.0,490.7 L626.2,489.6 L626.3,488.4 L626.5,487.3 L626.7,486.1 L626.8,485.0 L627.0,483.8 L627.1,482.6 L627.2,481.3 L627.4,480.1 L627.5,478.8 L627.6,477.5 L627.8,476.2 L627.9,474.9 L628.0,473.6 L628.2,472.3 L628.3,471.0 L628.5,469.8 L628.6,468.6 L628.8,467.4 L628.9,466.4 L629.1,465.4 L629.2,464.4 L629.3,463.4 L629.4,462.3 L629.5,461.4 L629.7,460.4 L629.9,459.6 L630.1,458.8 L630.3,458.1 L630.6,457.5 L631.0,457.0 L631.3,456.8 L631.6,456.6 L631.9,456.4 L632.2,456.2 L632.6,456.1 L632.9,456.0 L633.3,455.9 L633.6,455.9 L634.0,455.9 L634.3,456.0 L634.6,456.1 L634.9,456.2 L635.4,456.7 L635.8,457.5 L636.2,458.6 L636.5,459.9 L636.8,461.3 L637.0,462.9 L637.3,464.5 L637.5,466.2 L637.7,467.9 L637.9,469.6 L638.1,471.1 L638.3,472.5 L638.5,473.7 L638.7,475.0 L638.9,476.2 L639.1,477.4 L639.3,478.6 L639.5,479.8 L639.7,481.0 L639.9,482.2 L640.1,483.4 L640.2,484.6 L640.4,485.9 L640.6,487.1 L640.8,488.5 L641.0,489.9 L641.1,491.4 L641.3,493.0 L641.4,494.6 L641.6,496.1 L641.7,497.6 L641.9,499.0 L642.1,500.3 L642.3,501.5 L642.5,502.5 L642.8,503.4 L642.9,503.7 L643.1,504.1 L643.2,504.4 L643.3,504.7 L643.5,505.0 L643.6,505.2 L643.8,505.5 L643.9,505.6 L644.1,505.8 L644.2,505.9 L644.4,506.0 L644.5,506.0 L644.7,505.9 L644.9,505.7 L645.1,505.3 L645.3,504.8 L645.5,504.3 L645.7,503.7 L645.9,503.0 L646.0,502.3 L646.2,501.6 L646.4,500.8 L646.5,500.1 L646.7,499.4 L646.9,498.4 L647.1,497.3 L647.2,496.1 L647.4,494.9 L647.5,493.6 L647.6,492.3 L647.7,491.0 L647.9,489.6 L648.0,488.3 L648.1,486.9 L648.2,485.6 L648.4,484.3 L648.6,483.0 L648.8,481.6 L649.0,480.2 L649.2,478.9 L649.4,477.5 L649.6,476.1 L649.8,474.8 L650.0,473.4 L650.2,472.0 L650.4,470.7 L650.5,469.3 L650.7,468.0 L650.8,466.8 L650.9,465.5 L651.0,464.3 L651.1,463.1 L651.2,461.9 L651.3,460.7 L651.3,459.4 L651.4,458.2 L651.5,457.0 L651.6,455.8 L651.7,454.6 L651.8,453.4 L651.9,452.2 L652.1,450.9 L652.2,449.7 L652.4,448.5 L652.5,447.3 L652.7,446.0 L652.9,444.8 L653.1,443.6 L653.2,442.3 L653.4,441.1 L653.6,439.9 L653.8,438.6 L654.0,437.3 L654.2,435.9 L654.3,434.5 L654.5,433.1 L654.7,431.7 L654.8,430.3 L655.0,428.9 L655.3,427.6 L655.5,426.2 L655.8,425.0 L656.1,423.7 L656.5,422.5 L656.9,421.5 L657.3,420.3 L657.7,419.2 L658.1,418.0 L658.6,416.9 L659.1,415.8 L659.6,414.8 L660.1,413.9 L660.7,413.1 L661.2,412.5 L661.8,412.2 L662.3,412.0 L662.9,412.1 L663.6,412.5 L664.3,413.2 L665.0,414.0 L665.7,415.0 L666.4,416.2 L667.2,417.4 L667.9,418.7 L668.5,420.0 L669.2,421.3 L669.8,422.5 L670.3,423.7 L670.8,425.0 L671.2,426.3 L671.6,427.8 L671.9,429.3 L672.2,430.8 L672.5,432.4 L672.8,433.9 L673.1,435.3 L673.4,436.6 L673.7,437.8 L674.1,438.8 L674.6,439.7 L674.9,440.1 L675.2,440.5 L675.5,440.9 L675.9,441.2 L676.2,441.5 L676.6,441.8 L676.9,442.1 L677.2,442.3 L677.6,442.4 L677.9,442.5 L678.2,442.5 L678.5,442.5 L678.9,442.3 L679.2,442.0 L679.5,441.5 L679.8,440.9 L680.1,440.2 L680.4,439.4 L680.6,438.5 L680.9,437.7 L681.1,436.8 L681.4,435.9 L681.6,435.0 L681.9,434.2 L682.2,433.2 L682.6,432.1 L682.9,430.9 L683.2,429.8 L683.5,428.6 L683.8,427.4 L684.1,426.2 L684.4,424.9 L684.7,423.7 L685.0,422.4 L685.3,421.2 L685.6,420.0 L685.9,418.7 L686.2,417.4 L686.4,416.1 L686.7,414.8 L686.9,413.4 L687.2,412.1 L687.4,410.8 L687.7,409.5 L688.1,408.2 L688.4,407.0 L688.8,405.8 L689.3,404.7 L689.7,403.7 L690.2,402.7 L690.8,401.7 L691.3,400.6 L691.9,399.6 L692.5,398.7 L693.1,397.8 L693.7,397.0 L694.3,396.3 L694.9,395.9 L695.5,395.6 L696.0,395.5 L696.6,395.7 L697.2,396.3 L697.8,397.2 L698.4,398.3 L699.0,399.6 L699.5,401.0 L700.1,402.6 L700.7,404.2 L701.2,405.8 L701.7,407.3 L702.3,408.8 L702.8,410.2 L703.3,411.6 L703.9,413.2 L704.4,414.8 L704.9,416.4 L705.4,418.0 L705.9,419.7 L706.4,421.3 L706.9,422.8 L707.4,424.2 L707.9,425.4 L708.4,426.5 L708.9,427.4 L709.1,427.7 L709.3,428.1 L709.6,428.4 L709.8,428.7 L710.0,429.0 L710.2,429.3 L710.4,429.5 L710.6,429.7 L710.9,429.9 L711.1,430.0 L711.3,430.0 L711.5,430.0 L711.9,429.7 L712.3,429.2 L712.7,428.4 L713.1,427.3 L713.5,426.1 L713.9,424.8 L714.3,423.4 L714.7,421.9 L715.1,420.4 L715.5,419.0 L715.9,417.6 L716.3,416.4 L716.7,415.2 L717.1,414.0 L717.6,412.8 L718.0,411.5 L718.5,410.3 L718.9,409.1 L719.3,407.8 L719.7,406.6 L720.1,405.4 L720.5,404.1 L720.9,402.9 L721.2,401.6 L721.5,400.3 L721.7,399.1 L721.9,397.8 L722.1,396.5 L722.3,395.2 L722.4,393.9 L722.6,392.6 L722.8,391.3 L723.0,390.1 L723.2,388.8 L723.4,387.5 L723.7,386.3 L724.0,385.1 L724.3,383.9 L724.7,382.6 L725.0,381.4 L725.4,380.2 L725.7,379.0 L726.2,377.8 L726.6,376.6 L727.0,375.5 L727.5,374.4 L728.0,373.4 L728.6,372.4 L729.1,371.6 L729.7,370.7 L730.3,369.9 L730.9,369.1 L731.6,368.2 L732.2,367.5 L732.9,366.8 L733.5,366.1 L734.2,365.6 L734.8,365.1 L735.4,364.7 L736.0,364.5 L736.3,364.4 L736.6,364.4 L736.9,364.3 L737.2,364.4 L737.5,364.4 L737.8,364.5 L738.1,364.5 L738.4,364.7 L738.7,364.8 L739.0,365.0 L739.3,365.2 L739.6,365.4 L740.3,366.0 L741.0,366.9 L741.7,368.0 L742.4,369.3 L743.2,370.6 L743.9,372.1 L744.6,373.6 L745.4,375.2 L746.1,376.7 L746.8,378.2 L747.5,379.5 L748.2,380.8 L748.8,381.8 L749.4,382.9 L749.9,384.0 L750.5,385.0 L751.0,386.0 L751.6,387.1 L752.1,388.1 L752.7,389.0 L753.2,389.9 L753.8,390.8 L754.4,391.6 L755.0,392.4 L755.5,393.0 L755.9,393.5 L756.4,394.1 L756.9,394.6 L757.4,395.1 L757.9,395.5 L758.4,396.0 L758.9,396.4 L759.4,396.7 L759.9,397.0 L760.5,397.3 L761.0,397.5 L761.5,397.6 L762.0,397.7 L762.6,397.7 L763.1,397.7 L763.7,397.7 L764.2,397.6 L764.8,397.5 L765.4,397.4 L765.9,397.2 L766.5,397.1 L767.0,396.9 L767.6,396.7 L768.3,396.4 L768.9,396.1 L769.6,395.7 L770.2,395.2 L770.9,394.7 L771.5,394.2 L772.2,393.7 L772.8,393.2 L773.5,392.8 L774.2,392.4 L774.8,392.2 L775.5,392.0 L776.1,391.9 L776.8,391.9 L777.4,391.9 L778.1,391.9 L778.7,392.0 L779.4,392.1 L780.0,392.3 L780.7,392.5 L781.3,392.7 L782.0,393.0 L782.6,393.3 L783.3,393.6 L784.2,394.1 L785.0,394.7 L785.8,395.4 L786.7,396.1 L787.5,396.9 L788.4,397.8 L789.2,398.6 L790.1,399.5 L790.9,400.4 L791.8,401.3 L792.7,402.2 L793.6,403.0 L794.6,403.9 L795.7,404.9 L796.8,406.0 L798.0,407.1 L799.1,408.2 L800.2,409.2 L801.4,410.3 L802.5,411.2 L803.7,412.1 L804.8,412.9 L805.8,413.5 L806.9,414.0 L807.6,414.2 L808.3,414.4 L809.0,414.5 L809.6,414.6 L810.3,414.6 L811.0,414.6 L811.6,414.6 L812.3,414.6 L813.0,414.5 L813.6,414.5 L814.3,414.5 L815.0,414.5 L815.7,414.5 L816.5,414.5 L817.3,414.5 L818.0,414.4 L818.8,414.4 L819.6,414.3 L820.4,414.3 L821.1,414.3 L821.9,414.4 L822.7,414.4 L823.4,414.6 L824.2,414.8 L825.1,415.1 L826.0,415.5 L826.9,416.0 L827.8,416.5 L828.6,417.0 L829.5,417.6 L830.4,418.3 L831.3,419.0 L832.1,419.7 L832.9,420.4 L833.7,421.1 L834.5,421.9 L835.3,422.8 L836.1,423.7 L836.8,424.7 L837.5,425.8 L838.2,426.8 L838.9,427.9 L839.6,429.1 L840.2,430.2 L840.9,431.3 L841.6,432.4 L842.3,433.5 L843.1,434.5 L843.9,435.5 L844.7,436.5 L845.5,437.5 L846.3,438.5 L847.2,439.5 L848.0,440.5 L848.9,441.5 L849.7,442.5 L850.6,443.4 L851.5,444.4 L852.4,445.4 L853.3,446.3 L854.3,447.3 L855.2,448.3 L856.3,449.4 L857.3,450.5 L858.4,451.5 L859.4,452.6 L860.5,453.6 L861.5,454.5 L862.5,455.4 L863.4,456.1 L864.3,456.8 L865.1,457.3 L865.5,457.5 L865.8,457.7 L866.1,457.9 L866.4,458.0 L866.7,458.1 L867.0,458.2 L867.3,458.3 L867.6,458.4 L867.9,458.4 L868.3,458.5 L868.6,458.5 L869.0,458.5 L869.7,458.5 L870.4,458.4 L871.2,458.3 L872.0,458.1 L872.9,457.9 L873.8,457.7 L874.7,457.4 L875.6,457.1 L876.6,456.8 L877.5,456.4 L878.4,456.1 L879.3,455.7 L880.4,455.2 L881.5,454.7 L882.6,454.1 L883.8,453.5 L884.9,452.8 L886.1,452.1 L887.2,451.4 L888.3,450.8 L889.3,450.1 L890.3,449.6 L891.1,449.0 L891.9,448.6 L892.2,448.4 L892.5,448.2 L892.8,448.1 L893.1,447.9 L893.3,447.8 L893.6,447.6 L893.8,447.5 L894.0,447.4 L894.3,447.2 L894.5,447.1 L894.7,446.9 L895.0,446.8" stroke="#00ff00" stroke-width="5.8" fill="none" stroke-dasharray="0.00 0.00 14.42 15.85 0.60 15.85 17.11 14.43 0.60 14.43 16.61 10.62 0.60 10.62 16.91 14.45 0.60 14.45 16.86 14.59 0.60 14.59 15.34 14.74 0.60 14.74 18.94 13.64 0.60 13.64 16.46 14.25 0.60 14.25 17.11 14.48 0.60 14.48 17.01 15.69 0.60 15.69 18.48 15.60 0.60 15.60 16.77 14.79 0.60 14.79 16.77 14.67 0.60 14.67 18.40 12.00 0.60 12.00 16.95 13.60 0.60 13.60 17.61 14.04 0.60 14.04 17.05 14.47 0.60 14.47 18.51 15.53 0.60 15.53 16.20 14.46 0.60 14.46 16.15 14.46 0.60 14.46 17.01 14.11 0.60 14.11 18.18 14.52 0.60 14.52 17.10 14.44 0.60 14.44 16.73 14.31 0.60 14.31 16.41 15.89 0.60 15.89 14.22 12.67 0.60 12.67 16.80 14.56 0.60 14.56 14.36 12.98 0.60 12.98 17.54 14.23 0.60 14.23 17.10 14.56 0.60 14.56 16.93 14.56 0.60 14.56 16.34 12.06 0.60 12.06 15.68 14.97 0.60 14.97 15.87 14.93 0.60 14.93 15.90 13.22 0.60 13.22 17.85 14.43 0.60 14.43 16.99 14.30 0.60 14.30 16.84 17.16 0.60 17.16 15.95 14.43 0.60 14.43 16.91 14.40 0.60 14.40 15.00 15.51 0.60 15.51 16.47 12.45 0.60 12.45 16.46 14.49 0.60 14.49 16.35 13.13 0.60 13.13 16.64 14.12 0.60 14.12 15.77 13.81 0.60 13.81 18.27 16.72 0.60 16.72 15.51 14.52 0.60 14.52 17.72 13.80 0.60 13.80 17.36 15.36 0.60 15.36 17.43 13.65 0.60 13.65 15.61 15.22 0.60 15.22 14.48 13.50 0.90 13.50 18.50 1000.00" stroke-linejoin="miter"/>
</g>
<path d="M353.8,59 H575.8 M355,260.8 H685.8" stroke="#ff0000" stroke-width="2" stroke-dasharray="14.3 7.2" fill="none"/>
<path d="M437.9,82.5 V242.5" stroke="#ff0000" stroke-width="2" stroke-dasharray="14.1 7.4" fill="none"/>
<path d="M437.9,62.1 L429.9,84.8 L445.9,84.8 Z M437.9,264.7 L429.9,242.0 L445.9,242.0 Z" fill="#ff0000"/>
<rect x="615.4" y="17.2" width="278.9" height="95.3" fill="#fff" stroke="#555" stroke-width="1.5"/>
<path d="M619.3,43 H701.6" stroke="#ff0000" stroke-width="5.8"/>
<path d="M619.3,88 H701.6" stroke="#00ff00" stroke-width="5.8" stroke-dasharray="18.9 13.25 0.6 13.55"/>
<rect x="153.7" y="17.2" width="740.5999999999999" height="595.8" fill="none" stroke="#000" stroke-width="2.3"/>
<text transform="translate(134.3,626.0) scale(0.96,1)" class="sans" font-size="44.2" text-anchor="end">-30</text>
<text transform="translate(134.3,526.7) scale(0.96,1)" class="sans" font-size="44.2" text-anchor="end">-20</text>
<text transform="translate(134.3,427.4) scale(0.96,1)" class="sans" font-size="44.2" text-anchor="end">-10</text>
<text transform="translate(134.3,328.1) scale(0.96,1)" class="sans" font-size="44.2" text-anchor="end">0</text>
<text transform="translate(134.3,228.8) scale(0.96,1)" class="sans" font-size="44.2" text-anchor="end">10</text>
<text transform="translate(134.3,129.5) scale(0.96,1)" class="sans" font-size="44.2" text-anchor="end">20</text>
<text transform="translate(134.3,30.2) scale(0.96,1)" class="sans" font-size="44.2" text-anchor="end">30</text>
<text transform="translate(194.8,666.5) scale(0.96,1)" class="sans" font-size="44.2" text-anchor="middle">-80</text>
<text transform="translate(277.1,666.5) scale(0.96,1)" class="sans" font-size="44.2" text-anchor="middle">-60</text>
<text transform="translate(359.4,666.5) scale(0.96,1)" class="sans" font-size="44.2" text-anchor="middle">-40</text>
<text transform="translate(441.7,666.5) scale(0.96,1)" class="sans" font-size="44.2" text-anchor="middle">-20</text>
<text transform="translate(524.0,666.5) scale(0.96,1)" class="sans" font-size="44.2" text-anchor="middle">0</text>
<text transform="translate(606.3,666.5) scale(0.96,1)" class="sans" font-size="44.2" text-anchor="middle">20</text>
<text transform="translate(688.6,666.5) scale(0.96,1)" class="sans" font-size="44.2" text-anchor="middle">40</text>
<text transform="translate(770.9,666.5) scale(0.96,1)" class="sans" font-size="44.2" text-anchor="middle">60</text>
<text transform="translate(853.2,666.5) scale(0.96,1)" class="sans" font-size="44.2" text-anchor="middle">80</text>
<text transform="translate(35.8,390.5) rotate(-90) scale(0.972,1)" class="sans" font-size="46.2">Gain(dBi)</text>
<text transform="translate(409.9,735.3) scale(0.972,1)" class="sans" font-size="46.2">Theta(Deg)</text>
<text transform="translate(462.4226,796.4) scale(0.89,1)" class="serifb" font-size="41.5">(a)</text>
<text transform="translate(249.318,164.0)" class="serif" font-size="48.3">20.2dB</text>
<text transform="translate(700.85,56.3)" class="sans" font-size="37.0">Sim. y-Pol.</text>
<text transform="translate(710.85,100.9)" class="sans" font-size="37.1">Sim. x-Pol.</text>
<path d="M134.3,1413.6 H145.8 M139.6,1365.1 H145.8 M134.3,1316.5 H145.8 M139.6,1268.0 H145.8 M134.3,1219.5 H145.8 M139.6,1171.0 H145.8 M134.3,1122.4 H145.8 M139.6,1073.9 H145.8 M134.3,1025.4 H145.8 M139.6,976.9 H145.8 M134.3,928.3 H145.8 M139.6,879.8 H145.8 M134.3,831.3 H145.8 M145.8,1413.6 V1419.6 M185.4,1413.6 V1425.1 M225.1,1413.6 V1419.6 M264.7,1413.6 V1425.1 M304.3,1413.6 V1419.6 M344.0,1413.6 V1425.1 M383.6,1413.6 V1419.6 M423.2,1413.6 V1425.1 M462.9,1413.6 V1419.6 M502.5,1413.6 V1425.1 M542.1,1413.6 V1419.6 M581.8,1413.6 V1425.1 M621.4,1413.6 V1419.6 M661.0,1413.6 V1425.1 M700.7,1413.6 V1419.6 M740.3,1413.6 V1425.1 M779.9,1413.6 V1419.6 M819.6,1413.6 V1425.1 M859.2,1413.6 V1419.6" stroke="#000" stroke-width="2" fill="none"/>
<clipPath id="c2"><rect x="145.8" y="831.3" width="713.4000000000001" height="582.3"/></clipPath>
<g clip-path="url(#c2)">
<path d="M146.5,1196.0 L147.2,1194.3 L147.9,1192.5 L148.6,1190.8 L149.2,1189.0 L149.9,1187.3 L150.6,1185.5 L151.3,1183.8 L152.0,1182.0 L152.7,1180.1 L153.5,1178.3 L154.2,1176.4 L155.0,1174.5 L155.7,1172.6 L156.5,1170.7 L157.2,1168.9 L158.0,1167.0 L158.7,1165.2 L159.5,1163.4 L160.2,1161.6 L160.9,1159.8 L161.7,1158.1 L162.5,1156.3 L163.2,1154.7 L164.0,1153.0 L164.7,1151.5 L165.4,1150.0 L166.1,1148.6 L166.8,1147.1 L167.5,1145.7 L168.3,1144.4 L169.1,1143.1 L170.0,1142.0 L170.9,1141.0 L171.8,1140.0 L172.8,1139.0 L173.8,1138.1 L174.9,1137.4 L175.9,1136.7 L177.0,1136.2 L178.0,1136.0 L178.9,1136.0 L179.8,1136.1 L180.7,1136.3 L181.6,1136.7 L182.5,1137.2 L183.4,1137.7 L184.2,1138.3 L185.0,1139.0 L185.9,1140.0 L186.8,1141.1 L187.6,1142.4 L188.3,1143.9 L189.0,1145.4 L189.7,1146.9 L190.3,1148.5 L191.0,1150.0 L191.7,1151.7 L192.4,1153.5 L193.1,1155.4 L193.7,1157.3 L194.3,1159.2 L194.9,1161.1 L195.4,1163.1 L196.0,1165.0 L196.6,1167.1 L197.1,1169.1 L197.6,1171.2 L198.1,1173.3 L198.6,1175.5 L199.1,1177.6 L199.5,1179.8 L200.0,1182.0 L200.5,1184.4 L201.0,1186.9 L201.5,1189.4 L202.0,1191.9 L202.5,1194.4 L203.0,1197.0 L203.5,1199.5 L204.0,1202.0 L204.5,1204.5 L205.0,1207.0 L205.5,1209.5 L206.0,1212.0 L206.5,1214.5 L207.0,1217.0 L207.5,1219.5 L208.0,1222.0 L208.6,1224.9 L209.1,1228.2 L209.7,1231.7 L210.3,1235.1 L210.9,1238.2 L211.5,1240.7 L212.0,1242.4 L212.6,1243.0 L213.1,1242.5 L213.5,1241.2 L214.0,1239.3 L214.4,1236.9 L214.9,1234.3 L215.3,1231.6 L215.8,1229.0 L216.2,1226.8 L216.6,1224.9 L217.0,1223.0 L217.5,1221.1 L217.9,1219.3 L218.3,1217.4 L218.7,1215.5 L219.2,1213.6 L219.6,1211.7 L220.1,1209.7 L220.5,1207.6 L221.0,1205.5 L221.5,1203.4 L222.0,1201.3 L222.6,1199.3 L223.1,1197.2 L223.7,1195.2 L224.3,1193.3 L224.9,1191.4 L225.6,1189.5 L226.3,1187.6 L227.0,1185.7 L227.7,1183.8 L228.4,1182.0 L229.2,1180.1 L230.0,1178.2 L230.8,1176.3 L231.7,1174.4 L232.6,1172.5 L233.4,1170.6 L234.3,1168.7 L235.2,1166.8 L236.1,1165.0 L237.0,1163.2 L237.8,1161.5 L238.7,1159.8 L239.5,1158.1 L240.4,1156.3 L241.3,1154.6 L242.1,1152.9 L243.0,1151.2 L243.9,1149.5 L244.7,1147.7 L245.6,1145.9 L246.4,1144.2 L247.3,1142.4 L248.1,1140.7 L249.0,1139.1 L249.8,1137.5 L250.5,1136.2 L251.1,1135.0 L251.8,1133.7 L252.5,1132.5 L253.1,1131.4 L253.8,1130.3 L254.5,1129.4 L255.3,1128.5 L255.9,1127.9 L256.6,1127.3 L257.3,1126.7 L258.0,1126.2 L258.7,1125.8 L259.4,1125.4 L260.1,1125.2 L260.8,1125.1 L261.5,1125.1 L262.2,1125.3 L262.9,1125.6 L263.7,1125.9 L264.4,1126.3 L265.1,1126.8 L265.7,1127.3 L266.3,1127.9 L267.0,1128.7 L267.6,1129.5 L268.1,1130.5 L268.6,1131.5 L269.1,1132.6 L269.6,1133.8 L270.0,1134.9 L270.5,1136.1 L271.1,1137.5 L271.6,1139.0 L272.2,1140.5 L272.7,1142.0 L273.2,1143.6 L273.7,1145.2 L274.1,1146.8 L274.6,1148.5 L275.1,1150.4 L275.6,1152.4 L276.0,1154.4 L276.4,1156.5 L276.8,1158.6 L277.2,1160.7 L277.6,1162.8 L278.0,1165.0 L278.4,1167.4 L278.8,1169.9 L279.1,1172.4 L279.5,1175.0 L279.8,1177.6 L280.2,1180.2 L280.5,1182.9 L280.8,1185.6 L281.2,1188.8 L281.5,1192.2 L281.9,1195.6 L282.2,1199.0 L282.6,1202.5 L282.9,1206.1 L283.2,1209.5 L283.5,1213.0 L283.8,1216.4 L284.1,1219.9 L284.4,1223.3 L284.6,1226.7 L284.9,1230.2 L285.1,1233.6 L285.4,1237.1 L285.6,1240.5 L285.8,1243.9 L286.0,1247.4 L286.2,1250.8 L286.3,1254.2 L286.5,1257.7 L286.6,1261.1 L286.8,1264.6 L286.9,1268.0 L287.0,1271.4 L287.2,1274.9 L287.3,1278.3 L287.5,1281.8 L287.6,1285.2 L287.7,1288.7 L287.8,1292.1 L287.9,1295.5 L288.0,1299.2 L288.0,1303.4 L288.0,1307.8 L287.9,1312.1 L287.9,1316.0 L287.9,1319.1 L288.0,1321.2 L288.1,1322.0 L288.3,1320.6 L288.6,1316.8 L289.0,1311.1 L289.4,1304.1 L289.8,1296.5 L290.3,1288.7 L290.7,1281.3 L291.1,1274.9 L291.4,1269.6 L291.8,1264.2 L292.1,1258.9 L292.4,1253.6 L292.7,1248.4 L293.1,1243.3 L293.4,1238.4 L293.8,1233.7 L294.1,1229.9 L294.5,1226.1 L294.8,1222.4 L295.1,1218.8 L295.5,1215.3 L295.9,1212.0 L296.2,1209.0 L296.6,1206.2 L296.8,1204.6 L297.0,1203.1 L297.2,1201.7 L297.4,1200.4 L297.6,1199.1 L297.8,1197.9 L298.2,1196.7 L298.6,1195.5 L299.1,1194.3 L299.6,1193.0 L300.2,1191.7 L300.9,1190.5 L301.6,1189.3 L302.3,1188.4 L302.9,1187.8 L303.6,1187.6 L304.2,1187.7 L304.9,1188.2 L305.6,1188.9 L306.3,1189.8 L306.9,1190.9 L307.6,1192.0 L308.2,1193.3 L308.7,1194.5 L309.5,1196.9 L310.1,1199.6 L310.6,1202.7 L310.9,1206.0 L311.3,1209.5 L311.6,1213.1 L311.9,1216.7 L312.2,1220.2 L312.6,1224.3 L313.0,1228.4 L313.3,1232.7 L313.6,1237.1 L313.9,1241.5 L314.2,1245.9 L314.5,1250.3 L314.8,1254.6 L315.1,1258.9 L315.5,1263.2 L315.8,1267.5 L316.1,1271.7 L316.5,1276.0 L316.8,1280.3 L317.1,1284.6 L317.3,1288.9 L317.5,1293.3 L317.7,1297.8 L317.9,1302.3 L318.0,1306.8 L318.2,1311.3 L318.3,1315.5 L318.4,1319.6 L318.5,1323.3 L318.6,1326.0 L318.6,1328.8 L318.6,1331.7 L318.6,1334.4 L318.7,1336.8 L318.7,1338.8 L318.8,1340.0 L318.9,1340.5 L319.1,1339.5 L319.4,1336.7 L319.8,1332.6 L320.2,1327.6 L320.6,1322.0 L321.0,1316.3 L321.3,1310.9 L321.6,1306.1 L321.8,1301.8 L322.0,1297.5 L322.1,1293.2 L322.2,1289.0 L322.2,1284.7 L322.3,1280.4 L322.4,1276.1 L322.5,1271.8 L322.6,1267.5 L322.7,1263.2 L322.8,1258.9 L322.8,1254.6 L322.9,1250.3 L323.0,1246.0 L323.2,1241.7 L323.3,1237.4 L323.5,1233.1 L323.7,1228.7 L323.9,1224.3 L324.1,1219.9 L324.3,1215.6 L324.5,1211.3 L324.8,1207.2 L325.1,1203.1 L325.4,1199.7 L325.7,1196.4 L326.0,1193.2 L326.3,1190.0 L326.6,1186.8 L326.9,1183.7 L327.3,1180.5 L327.6,1177.3 L327.9,1174.0 L328.2,1170.7 L328.5,1167.4 L328.8,1164.1 L329.1,1160.8 L329.4,1157.6 L329.8,1154.5 L330.2,1151.5 L330.6,1149.2 L330.9,1146.9 L331.3,1144.8 L331.8,1142.7 L332.2,1140.6 L332.6,1138.5 L333.1,1136.5 L333.6,1134.4 L334.1,1132.4 L334.5,1130.3 L334.9,1128.2 L335.4,1126.1 L335.9,1124.1 L336.5,1122.2 L337.1,1120.4 L337.9,1118.9 L338.5,1117.9 L339.2,1116.8 L340.0,1115.8 L340.8,1114.9 L341.6,1114.1 L342.4,1113.5 L343.2,1113.1 L344.0,1112.9 L344.7,1113.0 L345.5,1113.3 L346.2,1113.8 L346.9,1114.4 L347.7,1115.1 L348.4,1115.8 L349.2,1116.5 L350.0,1117.2 L351.1,1118.1 L352.2,1119.3 L353.4,1120.6 L354.6,1121.8 L355.9,1123.0 L357.1,1124.0 L358.3,1124.6 L359.4,1124.9 L360.4,1124.7 L361.4,1124.2 L362.4,1123.5 L363.3,1122.6 L364.3,1121.6 L365.2,1120.6 L366.2,1119.7 L367.1,1118.9 L367.9,1118.3 L368.7,1117.5 L369.5,1116.8 L370.2,1116.1 L371.0,1115.4 L371.7,1114.9 L372.5,1114.6 L373.2,1114.6 L374.0,1114.9 L374.8,1115.4 L375.5,1116.2 L376.3,1117.1 L377.0,1118.1 L377.7,1119.3 L378.4,1120.4 L379.0,1121.5 L379.7,1122.9 L380.3,1124.3 L380.8,1125.8 L381.4,1127.4 L381.8,1129.1 L382.3,1130.8 L382.7,1132.6 L383.2,1134.4 L383.8,1136.9 L384.4,1139.5 L384.9,1142.3 L385.4,1145.2 L385.9,1148.1 L386.4,1151.0 L386.9,1153.9 L387.4,1156.7 L387.9,1159.4 L388.3,1162.1 L388.8,1164.8 L389.2,1167.6 L389.6,1170.2 L390.1,1172.8 L390.5,1175.1 L390.9,1177.3 L391.2,1178.8 L391.4,1180.3 L391.7,1181.8 L392.0,1183.3 L392.2,1184.6 L392.5,1185.6 L392.8,1186.3 L393.1,1186.5 L393.5,1186.1 L394.0,1185.0 L394.5,1183.3 L395.0,1181.3 L395.5,1179.0 L396.0,1176.6 L396.5,1174.2 L396.9,1172.1 L397.4,1169.7 L397.8,1167.2 L398.2,1164.6 L398.6,1161.9 L399.0,1159.2 L399.4,1156.6 L399.8,1154.0 L400.3,1151.5 L400.8,1149.2 L401.2,1146.9 L401.6,1144.6 L402.1,1142.3 L402.6,1140.1 L403.2,1138.0 L403.8,1136.1 L404.6,1134.4 L405.2,1133.2 L405.9,1132.0 L406.7,1130.8 L407.5,1129.8 L408.3,1128.8 L409.1,1128.1 L409.9,1127.6 L410.6,1127.5 L411.4,1127.8 L412.2,1128.4 L412.9,1129.4 L413.7,1130.6 L414.4,1132.0 L415.2,1133.4 L415.9,1134.8 L416.6,1136.1 L417.4,1137.7 L418.2,1139.3 L418.9,1141.1 L419.6,1142.9 L420.3,1144.7 L421.0,1146.5 L421.8,1148.2 L422.7,1149.8 L423.6,1151.3 L424.5,1153.0 L425.5,1154.7 L426.6,1156.4 L427.6,1157.8 L428.6,1159.0 L429.5,1159.8 L430.4,1160.0 L431.1,1159.8 L431.8,1159.1 L432.5,1158.2 L433.2,1157.1 L433.9,1155.8 L434.5,1154.3 L435.0,1152.9 L435.5,1151.5 L436.1,1149.4 L436.5,1147.1 L436.9,1144.5 L437.2,1141.9 L437.4,1139.1 L437.6,1136.4 L437.8,1133.6 L438.1,1130.9 L438.4,1128.1 L438.8,1125.4 L439.1,1122.6 L439.5,1119.8 L439.8,1116.9 L440.2,1114.0 L440.5,1111.1 L440.9,1108.0 L441.4,1104.2 L441.8,1100.2 L442.3,1096.1 L442.8,1091.9 L443.3,1087.7 L443.9,1083.6 L444.4,1079.5 L445.0,1075.6 L445.5,1072.1 L446.0,1068.6 L446.5,1065.1 L447.0,1061.6 L447.5,1058.3 L448.1,1055.1 L448.9,1052.1 L449.7,1049.4 L450.4,1047.4 L451.2,1045.4 L452.0,1043.4 L452.9,1041.5 L453.7,1039.8 L454.6,1038.5 L455.5,1037.6 L456.2,1037.3 L457.0,1037.6 L457.8,1038.5 L458.6,1039.9 L459.3,1041.5 L460.0,1043.4 L460.7,1045.4 L461.3,1047.5 L461.9,1049.4 L462.5,1052.2 L463.0,1055.2 L463.4,1058.4 L463.7,1061.8 L464.0,1065.2 L464.2,1068.7 L464.4,1072.2 L464.7,1075.6 L465.0,1079.1 L465.3,1082.6 L465.5,1086.1 L465.8,1089.6 L466.0,1093.2 L466.2,1096.7 L466.4,1100.3 L466.6,1103.8 L466.7,1107.6 L466.8,1112.0 L466.8,1116.6 L466.8,1121.1 L466.8,1125.2 L466.8,1128.5 L467.0,1130.7 L467.2,1131.5 L467.5,1131.0 L467.9,1129.5 L468.3,1127.4 L468.7,1124.7 L469.2,1121.7 L469.6,1118.6 L470.0,1115.7 L470.3,1113.0 L470.6,1110.3 L470.8,1107.6 L471.0,1104.9 L471.1,1102.1 L471.2,1099.2 L471.3,1096.3 L471.5,1093.2 L471.6,1090.0 L471.8,1085.2 L472.0,1080.0 L472.1,1074.5 L472.3,1068.8 L472.4,1063.1 L472.6,1057.7 L472.7,1052.7 L472.9,1048.2 L473.0,1045.6 L473.1,1043.3 L473.2,1041.1 L473.3,1039.1 L473.4,1037.0 L473.5,1034.9 L473.7,1032.7 L473.8,1030.4 L474.0,1027.3 L474.1,1024.1 L474.3,1020.7 L474.5,1017.3 L474.7,1013.9 L474.9,1010.4 L475.2,1007.0 L475.4,1003.6 L475.6,1000.2 L475.9,996.9 L476.2,993.5 L476.4,990.2 L476.7,986.8 L477.0,983.5 L477.3,980.1 L477.6,976.8 L477.9,973.4 L478.2,970.0 L478.5,966.6 L478.8,963.1 L479.1,959.7 L479.4,956.4 L479.8,953.2 L480.1,950.0 L480.4,947.4 L480.7,944.8 L481.0,942.3 L481.3,939.8 L481.6,937.4 L482.0,935.0 L482.3,932.6 L482.7,930.3 L483.0,928.3 L483.4,926.3 L483.8,924.4 L484.2,922.5 L484.6,920.6 L485.0,918.7 L485.4,916.7 L485.8,914.7 L486.3,912.3 L486.7,909.7 L487.2,907.1 L487.7,904.4 L488.2,901.8 L488.7,899.2 L489.2,896.8 L489.8,894.6 L490.2,893.1 L490.6,891.6 L491.1,890.2 L491.5,888.8 L491.9,887.5 L492.4,886.3 L492.9,885.1 L493.4,883.9 L493.8,883.0 L494.3,882.1 L494.8,881.2 L495.2,880.3 L495.7,879.5 L496.2,878.8 L496.8,878.1 L497.3,877.4 L497.7,876.9 L498.2,876.4 L498.6,875.9 L499.1,875.4 L499.6,875.0 L500.0,874.7 L500.5,874.5 L501.0,874.4 L501.5,874.5 L502.0,874.7 L502.5,875.0 L503.0,875.4 L503.5,875.9 L504.0,876.4 L504.5,877.0 L505.0,877.5 L505.5,878.1 L506.1,878.8 L506.6,879.6 L507.1,880.4 L507.5,881.2 L508.0,882.1 L508.4,883.0 L508.9,883.9 L509.4,885.1 L510.0,886.3 L510.5,887.5 L511.0,888.8 L511.5,890.2 L512.0,891.6 L512.4,893.1 L512.9,894.6 L513.5,896.8 L514.1,899.2 L514.7,901.8 L515.3,904.4 L515.9,907.1 L516.4,909.7 L516.9,912.3 L517.4,914.7 L517.8,916.7 L518.2,918.7 L518.5,920.6 L518.8,922.5 L519.1,924.4 L519.4,926.3 L519.7,928.3 L520.0,930.3 L520.3,932.7 L520.6,935.2 L520.9,937.7 L521.2,940.3 L521.4,942.9 L521.7,945.6 L521.9,948.3 L522.2,951.0 L522.5,954.1 L522.8,957.2 L523.1,960.4 L523.4,963.7 L523.7,967.0 L524.0,970.2 L524.2,973.5 L524.5,976.8 L524.8,980.1 L525.0,983.5 L525.3,986.8 L525.5,990.2 L525.8,993.5 L526.0,996.9 L526.3,1000.2 L526.5,1003.6 L526.7,1007.0 L527.0,1010.4 L527.2,1013.9 L527.4,1017.3 L527.7,1020.8 L527.9,1024.1 L528.1,1027.3 L528.3,1030.4 L528.5,1032.8 L528.6,1035.0 L528.8,1037.1 L529.0,1039.1 L529.1,1041.2 L529.3,1043.4 L529.4,1045.7 L529.6,1048.2 L529.8,1052.1 L530.0,1056.4 L530.2,1060.8 L530.4,1065.5 L530.6,1070.3 L530.8,1075.2 L531.0,1080.1 L531.2,1085.0 L531.5,1090.6 L531.7,1096.3 L532.0,1102.2 L532.3,1108.2 L532.5,1114.1 L532.7,1120.1 L532.9,1126.0 L533.1,1131.9 L533.2,1138.2 L533.3,1145.3 L533.4,1152.8 L533.4,1160.1 L533.5,1166.7 L533.5,1172.1 L533.6,1175.7 L533.7,1177.0 L533.9,1174.7 L534.1,1168.4 L534.3,1159.2 L534.6,1148.0 L534.9,1135.9 L535.2,1123.8 L535.5,1112.8 L535.9,1103.8 L536.2,1098.4 L536.5,1093.3 L536.9,1088.4 L537.2,1083.6 L537.6,1079.1 L537.9,1074.7 L538.3,1070.4 L538.8,1066.2 L539.1,1063.1 L539.3,1059.9 L539.6,1056.8 L539.9,1053.8 L540.2,1050.9 L540.6,1048.2 L541.1,1045.8 L541.6,1043.8 L541.9,1042.6 L542.3,1041.5 L542.7,1040.4 L543.1,1039.4 L543.5,1038.6 L543.9,1037.9 L544.3,1037.5 L544.8,1037.3 L545.3,1037.6 L546.0,1038.3 L546.7,1039.4 L547.4,1040.8 L548.1,1042.4 L548.8,1044.1 L549.4,1045.8 L550.0,1047.5 L550.8,1050.0 L551.5,1052.6 L552.1,1055.5 L552.7,1058.5 L553.2,1061.6 L553.7,1064.9 L554.2,1068.4 L554.7,1071.9 L555.3,1077.2 L555.8,1083.2 L556.3,1089.5 L556.7,1096.0 L557.1,1102.5 L557.6,1108.8 L558.0,1114.7 L558.6,1120.0 L559.0,1123.4 L559.5,1126.6 L560.0,1129.6 L560.5,1132.5 L561.0,1135.3 L561.5,1138.1 L562.0,1140.7 L562.5,1143.4 L562.8,1145.7 L563.1,1148.2 L563.4,1150.8 L563.6,1153.2 L563.9,1155.4 L564.3,1157.3 L564.9,1158.7 L565.6,1159.5 L566.1,1159.6 L566.6,1159.6 L567.2,1159.5 L567.9,1159.2 L568.5,1158.8 L569.1,1158.4 L569.7,1157.9 L570.3,1157.5 L570.9,1156.8 L571.5,1156.0 L572.0,1155.1 L572.6,1154.1 L573.1,1153.1 L573.7,1152.1 L574.3,1151.3 L575.0,1150.5 L575.8,1149.9 L576.8,1149.3 L577.7,1148.8 L578.8,1148.3 L579.8,1147.9 L580.8,1147.5 L581.8,1147.0 L582.8,1146.6 L583.6,1146.1 L584.4,1145.6 L585.2,1145.0 L586.0,1144.5 L586.8,1144.0 L587.6,1143.6 L588.3,1143.4 L589.0,1143.4 L589.7,1143.6 L590.3,1144.0 L590.9,1144.5 L591.6,1145.1 L592.1,1145.8 L592.7,1146.5 L593.2,1147.3 L593.8,1148.1 L594.4,1149.2 L594.9,1150.4 L595.5,1151.7 L595.9,1153.0 L596.4,1154.5 L596.8,1156.0 L597.3,1157.5 L597.7,1159.0 L598.2,1161.0 L598.7,1163.1 L599.2,1165.3 L599.7,1167.5 L600.2,1169.7 L600.6,1172.0 L601.1,1174.2 L601.6,1176.2 L602.1,1178.2 L602.5,1180.4 L603.0,1182.7 L603.5,1184.9 L604.0,1186.9 L604.5,1188.5 L605.0,1189.6 L605.5,1190.0 L606.0,1189.7 L606.5,1188.8 L607.0,1187.4 L607.5,1185.7 L608.0,1183.8 L608.5,1181.8 L609.0,1179.7 L609.4,1177.8 L610.0,1175.0 L610.5,1171.9 L610.9,1168.5 L611.3,1165.1 L611.8,1161.5 L612.2,1158.0 L612.7,1154.5 L613.3,1151.2 L613.9,1148.2 L614.5,1145.1 L615.1,1142.0 L615.8,1139.0 L616.5,1136.0 L617.3,1133.2 L618.1,1130.5 L619.1,1128.1 L619.9,1126.3 L620.8,1124.5 L621.7,1122.7 L622.6,1121.1 L623.6,1119.6 L624.6,1118.4 L625.6,1117.5 L626.6,1117.0 L627.4,1116.9 L628.2,1117.1 L629.0,1117.5 L629.9,1117.9 L630.7,1118.5 L631.5,1119.2 L632.3,1119.9 L633.1,1120.6 L634.0,1121.6 L634.8,1122.7 L635.6,1124.0 L636.4,1125.4 L637.2,1126.7 L638.0,1128.0 L638.8,1129.1 L639.7,1130.0 L640.5,1130.6 L641.2,1131.1 L642.0,1131.5 L642.8,1131.9 L643.7,1132.2 L644.5,1132.5 L645.4,1132.7 L646.2,1132.8 L647.3,1132.8 L648.3,1132.5 L649.4,1132.1 L650.5,1131.7 L651.6,1131.3 L652.7,1131.0 L653.7,1130.8 L654.7,1130.9 L655.6,1131.2 L656.5,1131.7 L657.4,1132.3 L658.2,1133.0 L659.0,1133.9 L659.8,1134.7 L660.5,1135.7 L661.2,1136.6 L662.1,1137.8 L662.9,1139.2 L663.6,1140.6 L664.3,1142.1 L665.0,1143.7 L665.6,1145.3 L666.3,1147.0 L666.9,1148.8 L667.7,1151.0 L668.5,1153.5 L669.2,1156.0 L669.9,1158.6 L670.6,1161.3 L671.3,1164.0 L671.9,1166.7 L672.5,1169.4 L673.1,1172.3 L673.6,1175.3 L674.1,1178.3 L674.6,1181.3 L675.0,1184.4 L675.4,1187.5 L675.8,1190.6 L676.2,1193.8 L676.7,1197.2 L677.1,1200.6 L677.5,1204.1 L677.8,1207.7 L678.2,1211.2 L678.5,1214.8 L678.8,1218.4 L679.1,1221.9 L679.4,1225.4 L679.6,1228.8 L679.9,1232.3 L680.1,1235.7 L680.3,1239.2 L680.5,1242.7 L680.7,1246.3 L680.9,1250.0 L681.1,1254.4 L681.3,1259.0 L681.5,1263.7 L681.6,1268.4 L681.8,1273.2 L681.9,1278.0 L682.1,1282.8 L682.2,1287.5 L682.4,1292.2 L682.6,1296.9 L682.7,1301.6 L682.9,1306.2 L683.0,1310.9 L683.1,1315.6 L683.3,1320.3 L683.4,1325.0 L683.5,1329.7 L683.6,1334.5 L683.7,1339.3 L683.8,1344.1 L683.9,1348.9 L683.9,1353.6 L684.0,1358.1 L684.1,1362.5 L684.2,1366.5 L684.2,1370.8 L684.3,1375.3 L684.3,1379.6 L684.4,1383.5 L684.5,1386.6 L684.6,1388.7 L684.7,1389.5 L684.9,1388.1 L685.3,1384.4 L685.6,1378.9 L686.0,1372.1 L686.4,1364.6 L686.8,1357.0 L687.2,1349.9 L687.5,1343.8 L687.8,1338.9 L688.0,1334.1 L688.3,1329.4 L688.5,1324.8 L688.7,1320.1 L689.0,1315.5 L689.2,1310.9 L689.4,1306.2 L689.6,1301.5 L689.8,1296.8 L690.0,1292.1 L690.2,1287.4 L690.3,1282.7 L690.5,1278.0 L690.7,1273.3 L690.9,1268.8 L691.1,1264.4 L691.3,1260.0 L691.4,1255.6 L691.6,1251.2 L691.8,1246.9 L692.0,1242.8 L692.2,1238.8 L692.5,1235.0 L692.7,1232.2 L692.9,1229.4 L693.2,1226.7 L693.4,1224.1 L693.7,1221.6 L693.9,1219.2 L694.2,1217.0 L694.5,1215.0 L694.7,1213.8 L694.9,1212.7 L695.0,1211.7 L695.2,1210.7 L695.4,1209.8 L695.6,1208.8 L695.9,1207.9 L696.2,1207.0 L696.5,1206.1 L696.9,1205.2 L697.2,1204.2 L697.6,1203.3 L698.1,1202.4 L698.5,1201.7 L699.0,1201.0 L699.5,1200.4 L699.9,1200.1 L700.3,1199.7 L700.7,1199.4 L701.2,1199.2 L701.6,1199.0 L702.1,1198.9 L702.5,1198.8 L702.9,1198.9 L703.4,1199.1 L703.8,1199.5 L704.3,1200.1 L704.7,1200.7 L705.1,1201.4 L705.5,1202.2 L705.8,1203.0 L706.2,1203.7 L706.6,1204.6 L707.0,1205.7 L707.4,1206.7 L707.8,1207.8 L708.1,1209.0 L708.4,1210.2 L708.7,1211.4 L709.0,1212.6 L709.3,1214.1 L709.6,1215.7 L709.9,1217.4 L710.2,1219.1 L710.4,1220.8 L710.6,1222.5 L710.9,1224.3 L711.2,1226.0 L711.5,1227.8 L711.9,1229.5 L712.2,1231.3 L712.6,1233.1 L712.9,1234.9 L713.3,1236.7 L713.7,1238.6 L714.0,1240.5 L714.3,1242.9 L714.7,1245.7 L715.0,1248.6 L715.3,1251.6 L715.6,1254.2 L715.9,1256.4 L716.3,1257.9 L716.8,1258.5 L717.2,1258.3 L717.7,1257.5 L718.2,1256.4 L718.8,1254.9 L719.3,1253.3 L719.8,1251.6 L720.3,1249.9 L720.7,1248.3 L721.1,1246.3 L721.5,1244.1 L721.8,1241.8 L722.1,1239.4 L722.3,1237.0 L722.5,1234.5 L722.8,1231.9 L723.0,1229.4 L723.3,1226.4 L723.6,1223.2 L723.8,1220.0 L724.1,1216.7 L724.3,1213.4 L724.6,1210.1 L724.9,1206.9 L725.2,1203.7 L725.5,1200.8 L725.8,1197.9 L726.2,1195.1 L726.5,1192.2 L726.9,1189.5 L727.3,1186.7 L727.6,1184.0 L728.0,1181.4 L728.3,1179.2 L728.7,1177.0 L729.0,1174.8 L729.3,1172.7 L729.7,1170.6 L730.0,1168.6 L730.4,1166.6 L730.8,1164.6 L731.2,1162.8 L731.5,1161.1 L731.9,1159.4 L732.3,1157.7 L732.7,1156.1 L733.1,1154.4 L733.6,1152.8 L734.1,1151.2 L734.6,1149.8 L735.1,1148.3 L735.6,1146.8 L736.2,1145.3 L736.7,1143.9 L737.3,1142.5 L738.0,1141.2 L738.6,1140.1 L739.1,1139.3 L739.6,1138.6 L740.1,1137.8 L740.7,1137.2 L741.2,1136.5 L741.8,1136.0 L742.4,1135.5 L743.0,1135.1 L743.5,1134.8 L744.1,1134.6 L744.6,1134.4 L745.2,1134.3 L745.8,1134.2 L746.3,1134.2 L746.9,1134.2 L747.5,1134.2 L748.2,1134.3 L748.9,1134.5 L749.6,1134.8 L750.3,1135.1 L751.0,1135.5 L751.7,1135.9 L752.4,1136.3 L753.1,1136.7 L753.8,1137.2 L754.5,1137.7 L755.2,1138.2 L755.9,1138.8 L756.6,1139.4 L757.3,1140.0 L758.0,1140.6 L758.7,1141.2 L759.4,1141.8 L760.1,1142.4 L760.7,1143.0 L761.4,1143.6 L762.1,1144.1 L762.7,1144.7 L763.5,1145.2 L764.2,1145.7 L765.0,1146.1 L765.8,1146.5 L766.6,1146.9 L767.5,1147.2 L768.3,1147.5 L769.2,1147.8 L770.1,1148.2 L770.9,1148.5 L771.7,1148.8 L772.6,1149.2 L773.5,1149.5 L774.3,1149.8 L775.2,1150.2 L776.0,1150.6 L776.8,1151.0 L777.6,1151.5 L778.5,1152.1 L779.3,1152.8 L780.1,1153.5 L781.0,1154.3 L781.8,1155.1 L782.5,1156.0 L783.3,1157.0 L784.0,1158.0 L785.0,1159.6 L785.9,1161.5 L786.7,1163.5 L787.5,1165.6 L788.3,1167.8 L789.1,1170.0 L789.9,1172.2 L790.6,1174.4 L791.4,1176.7 L792.1,1179.0 L792.8,1181.4 L793.5,1183.8 L794.2,1186.2 L794.9,1188.5 L795.6,1190.9 L796.2,1193.1 L796.8,1195.1 L797.4,1197.1 L797.9,1199.2 L798.4,1201.2 L799.0,1203.1 L799.6,1204.9 L800.2,1206.6 L800.9,1208.1 L801.4,1209.1 L802.0,1210.1 L802.6,1211.1 L803.2,1212.1 L803.8,1212.9 L804.4,1213.5 L805.0,1213.9 L805.6,1214.0 L806.2,1213.7 L806.9,1212.9 L807.5,1211.9 L808.1,1210.5 L808.6,1209.0 L809.2,1207.4 L809.8,1205.9 L810.3,1204.4 L810.9,1202.5 L811.5,1200.5 L812.1,1198.3 L812.6,1196.1 L813.2,1193.9 L813.7,1191.7 L814.3,1189.5 L815.0,1187.5 L815.6,1185.7 L816.3,1184.0 L816.9,1182.3 L817.6,1180.6 L818.3,1178.9 L819.1,1177.3 L819.8,1175.8 L820.6,1174.4 L821.2,1173.3 L821.9,1172.2 L822.5,1171.1 L823.2,1170.1 L823.9,1169.2 L824.7,1168.3 L825.4,1167.5 L826.2,1166.9 L827.0,1166.4 L827.8,1166.0 L828.6,1165.7 L829.4,1165.5 L830.3,1165.3 L831.1,1165.1 L832.0,1165.0 L832.8,1165.0 L833.6,1165.0 L834.5,1165.1 L835.3,1165.2 L836.1,1165.4 L837.0,1165.7 L837.8,1166.0 L838.6,1166.4 L839.4,1166.9 L840.4,1167.7 L841.4,1168.7 L842.4,1169.8 L843.4,1171.0 L844.3,1172.3 L845.2,1173.6 L846.1,1175.0 L846.9,1176.2 L847.7,1177.6 L848.4,1178.9 L849.1,1180.3 L849.8,1181.7 L850.4,1183.1 L851.1,1184.6 L851.8,1186.0 L852.5,1187.5 L853.3,1189.1 L854.2,1190.8 L855.1,1192.5 L855.9,1194.2 L856.8,1195.9 L857.7,1197.6 L858.6,1199.3 L859.5,1201.0" stroke="#ff0000" stroke-width="5.9" fill="none" stroke-linejoin="round" stroke-linecap="round"/>
<path d="M145.8,1258.0 L145.9,1257.5 L145.9,1257.0 L146.0,1256.6 L146.0,1256.1 L146.0,1255.6 L146.1,1255.2 L146.1,1254.7 L146.2,1254.2 L146.3,1253.7 L146.3,1253.2 L146.4,1252.6 L146.5,1252.0 L146.7,1250.9 L146.9,1249.8 L147.1,1248.5 L147.3,1247.2 L147.5,1245.8 L147.8,1244.4 L148.1,1242.9 L148.4,1241.5 L148.6,1240.1 L148.9,1238.7 L149.2,1237.3 L149.5,1236.0 L149.8,1234.8 L150.0,1233.7 L150.3,1232.5 L150.6,1231.4 L150.9,1230.3 L151.2,1229.2 L151.5,1228.1 L151.8,1227.0 L152.1,1225.9 L152.4,1224.8 L152.7,1223.6 L153.0,1222.5 L153.3,1221.3 L153.6,1220.1 L153.9,1218.9 L154.2,1217.7 L154.5,1216.5 L154.9,1215.3 L155.2,1214.0 L155.5,1212.8 L155.9,1211.6 L156.2,1210.4 L156.6,1209.2 L157.0,1208.0 L157.4,1206.8 L157.9,1205.5 L158.3,1204.3 L158.8,1203.0 L159.2,1201.8 L159.7,1200.6 L160.2,1199.3 L160.8,1198.1 L161.3,1196.9 L161.8,1195.8 L162.4,1194.6 L163.0,1193.5 L163.6,1192.5 L164.1,1191.5 L164.7,1190.6 L165.3,1189.6 L165.9,1188.7 L166.5,1187.8 L167.1,1186.9 L167.8,1186.0 L168.4,1185.1 L169.1,1184.2 L169.8,1183.4 L170.5,1182.5 L171.3,1181.6 L172.1,1180.6 L173.0,1179.7 L173.8,1178.7 L174.7,1177.7 L175.7,1176.8 L176.6,1175.9 L177.5,1175.0 L178.4,1174.2 L179.3,1173.4 L180.2,1172.7 L181.0,1172.0 L181.6,1171.6 L182.2,1171.1 L182.8,1170.7 L183.3,1170.4 L183.9,1170.0 L184.5,1169.7 L185.0,1169.4 L185.6,1169.1 L186.2,1168.8 L186.8,1168.5 L187.4,1168.3 L188.0,1168.0 L188.7,1167.7 L189.4,1167.5 L190.1,1167.2 L190.8,1167.0 L191.5,1166.8 L192.2,1166.6 L193.0,1166.4 L193.7,1166.2 L194.4,1166.0 L195.1,1165.8 L195.8,1165.7 L196.5,1165.5 L197.1,1165.4 L197.6,1165.2 L198.2,1165.1 L198.7,1165.0 L199.2,1164.9 L199.8,1164.8 L200.3,1164.7 L200.8,1164.7 L201.4,1164.6 L201.9,1164.5 L202.4,1164.5 L203.0,1164.5 L203.6,1164.5 L204.2,1164.5 L204.8,1164.5 L205.5,1164.5 L206.1,1164.5 L206.7,1164.5 L207.4,1164.6 L208.0,1164.7 L208.6,1164.8 L209.3,1165.0 L209.9,1165.2 L210.5,1165.5 L211.3,1166.0 L212.2,1166.5 L213.1,1167.2 L213.9,1167.9 L214.8,1168.7 L215.7,1169.6 L216.5,1170.5 L217.3,1171.4 L218.1,1172.4 L218.9,1173.3 L219.6,1174.3 L220.3,1175.3 L221.0,1176.4 L221.6,1177.5 L222.2,1178.6 L222.8,1179.8 L223.3,1181.0 L223.8,1182.2 L224.3,1183.5 L224.7,1184.7 L225.2,1186.0 L225.6,1187.2 L226.1,1188.5 L226.5,1189.7 L226.9,1190.9 L227.3,1192.1 L227.7,1193.4 L228.1,1194.6 L228.4,1195.8 L228.8,1197.1 L229.1,1198.3 L229.4,1199.6 L229.7,1200.8 L230.0,1202.0 L230.3,1203.3 L230.6,1204.5 L230.9,1205.7 L231.1,1206.8 L231.4,1208.0 L231.6,1209.2 L231.9,1210.3 L232.1,1211.5 L232.3,1212.6 L232.5,1213.8 L232.7,1214.9 L233.0,1216.1 L233.2,1217.3 L233.4,1218.5 L233.6,1219.8 L233.9,1221.1 L234.1,1222.4 L234.3,1223.7 L234.6,1225.1 L234.8,1226.4 L235.0,1227.7 L235.2,1229.1 L235.5,1230.4 L235.7,1231.7 L235.9,1233.0 L236.1,1234.3 L236.3,1235.5 L236.5,1236.6 L236.7,1237.8 L236.8,1238.9 L237.0,1240.1 L237.2,1241.2 L237.4,1242.4 L237.5,1243.5 L237.7,1244.6 L237.9,1245.8 L238.0,1246.9 L238.2,1248.1 L238.4,1249.3 L238.5,1250.6 L238.6,1251.9 L238.8,1253.2 L238.9,1254.5 L239.0,1255.8 L239.1,1257.1 L239.3,1258.4 L239.5,1259.7 L239.7,1260.9 L239.9,1262.1 L240.2,1263.2 L240.5,1264.2 L240.8,1265.2 L241.1,1266.2 L241.5,1267.3 L241.8,1268.4 L242.2,1269.4 L242.6,1270.3 L243.0,1271.2 L243.3,1271.8 L243.7,1272.4 L244.0,1272.7 L244.3,1272.8 L244.5,1272.7 L244.7,1272.4 L244.9,1272.0 L245.1,1271.5 L245.3,1270.8 L245.5,1270.1 L245.6,1269.4 L245.8,1268.5 L245.9,1267.7 L246.1,1266.9 L246.2,1266.1 L246.4,1265.3 L246.6,1264.2 L246.8,1263.1 L247.0,1261.9 L247.2,1260.7 L247.3,1259.5 L247.5,1258.2 L247.7,1256.9 L247.8,1255.6 L248.0,1254.2 L248.2,1252.9 L248.3,1251.7 L248.5,1250.4 L248.7,1249.2 L248.8,1248.0 L249.0,1246.7 L249.1,1245.5 L249.3,1244.3 L249.5,1243.1 L249.6,1241.9 L249.8,1240.6 L250.0,1239.4 L250.1,1238.2 L250.3,1236.9 L250.5,1235.7 L250.7,1234.4 L250.9,1233.1 L251.2,1231.8 L251.4,1230.4 L251.6,1229.1 L251.9,1227.8 L252.1,1226.4 L252.4,1225.1 L252.6,1223.8 L252.9,1222.5 L253.1,1221.2 L253.3,1219.9 L253.5,1218.7 L253.7,1217.6 L253.8,1216.4 L254.0,1215.3 L254.1,1214.1 L254.3,1213.0 L254.4,1211.9 L254.6,1210.7 L254.7,1209.6 L254.9,1208.5 L255.1,1207.3 L255.3,1206.2 L255.5,1205.0 L255.8,1203.7 L256.0,1202.5 L256.3,1201.2 L256.6,1199.9 L256.9,1198.7 L257.2,1197.4 L257.5,1196.2 L257.8,1195.0 L258.1,1193.9 L258.5,1192.8 L258.8,1191.8 L259.0,1191.1 L259.3,1190.5 L259.5,1189.9 L259.8,1189.3 L260.0,1188.7 L260.3,1188.1 L260.5,1187.6 L260.8,1187.0 L261.1,1186.5 L261.4,1186.0 L261.7,1185.5 L262.0,1185.0 L262.3,1184.5 L262.6,1184.0 L263.0,1183.5 L263.3,1182.9 L263.7,1182.4 L264.1,1181.9 L264.4,1181.4 L264.8,1181.0 L265.2,1180.7 L265.6,1180.4 L265.9,1180.2 L266.3,1180.1 L266.6,1180.1 L266.9,1180.2 L267.2,1180.3 L267.6,1180.5 L267.9,1180.7 L268.2,1181.0 L268.5,1181.3 L268.8,1181.6 L269.1,1181.9 L269.4,1182.3 L269.7,1182.6 L270.0,1183.0 L270.4,1183.6 L270.9,1184.3 L271.3,1185.0 L271.7,1185.8 L272.1,1186.6 L272.4,1187.5 L272.8,1188.4 L273.2,1189.3 L273.6,1190.2 L273.9,1191.2 L274.3,1192.2 L274.6,1193.1 L275.0,1194.2 L275.4,1195.4 L275.8,1196.6 L276.1,1197.9 L276.5,1199.1 L276.8,1200.4 L277.2,1201.7 L277.5,1203.0 L277.8,1204.3 L278.1,1205.6 L278.4,1206.9 L278.7,1208.2 L279.0,1209.5 L279.2,1210.8 L279.5,1212.1 L279.8,1213.5 L280.0,1214.8 L280.2,1216.1 L280.4,1217.4 L280.6,1218.8 L280.8,1220.1 L281.0,1221.4 L281.2,1222.7 L281.4,1224.0 L281.6,1225.2 L281.7,1226.4 L281.8,1227.7 L281.9,1228.9 L282.0,1230.1 L282.1,1231.3 L282.2,1232.5 L282.3,1233.7 L282.4,1234.9 L282.5,1236.1 L282.7,1237.3 L282.8,1238.5 L282.9,1239.7 L283.1,1240.9 L283.3,1242.1 L283.4,1243.3 L283.6,1244.5 L283.8,1245.7 L284.0,1246.9 L284.1,1248.1 L284.3,1249.3 L284.5,1250.5 L284.7,1251.7 L284.9,1252.9 L285.1,1254.2 L285.3,1255.5 L285.5,1256.8 L285.7,1258.2 L286.0,1259.6 L286.2,1260.9 L286.4,1262.3 L286.7,1263.6 L286.9,1264.8 L287.1,1266.0 L287.4,1267.0 L287.6,1268.0 L287.7,1268.5 L287.9,1269.1 L288.0,1269.7 L288.2,1270.3 L288.3,1270.8 L288.4,1271.3 L288.6,1271.8 L288.7,1272.2 L288.9,1272.5 L289.0,1272.8 L289.2,1273.0 L289.3,1273.0 L289.6,1272.7 L289.8,1272.0 L290.1,1270.9 L290.4,1269.4 L290.6,1267.7 L290.9,1265.8 L291.2,1263.8 L291.4,1261.7 L291.7,1259.7 L291.9,1257.7 L292.2,1255.9 L292.4,1254.3 L292.6,1253.0 L292.8,1251.8 L293.0,1250.6 L293.1,1249.3 L293.3,1248.1 L293.5,1247.0 L293.6,1245.8 L293.8,1244.6 L294.0,1243.4 L294.1,1242.2 L294.3,1241.0 L294.5,1239.8 L294.7,1238.5 L294.9,1237.3 L295.1,1236.0 L295.4,1234.8 L295.6,1233.5 L295.8,1232.2 L296.1,1231.0 L296.3,1229.7 L296.6,1228.5 L296.8,1227.2 L297.0,1225.9 L297.2,1224.7 L297.4,1223.5 L297.5,1222.2 L297.7,1221.0 L297.8,1219.7 L298.0,1218.4 L298.1,1217.2 L298.2,1215.9 L298.4,1214.7 L298.6,1213.6 L298.8,1212.4 L299.0,1211.3 L299.3,1210.3 L299.5,1209.5 L299.8,1208.7 L300.0,1207.9 L300.3,1207.1 L300.6,1206.4 L300.8,1205.6 L301.1,1204.9 L301.5,1204.3 L301.8,1203.7 L302.2,1203.2 L302.6,1202.8 L303.0,1202.5 L303.3,1202.3 L303.7,1202.2 L304.1,1202.1 L304.6,1202.1 L305.0,1202.1 L305.4,1202.1 L305.9,1202.2 L306.3,1202.3 L306.7,1202.4 L307.1,1202.6 L307.5,1202.8 L307.9,1203.1 L308.5,1203.7 L309.0,1204.4 L309.5,1205.4 L310.0,1206.4 L310.5,1207.6 L310.9,1208.9 L311.3,1210.2 L311.7,1211.5 L312.1,1212.9 L312.4,1214.3 L312.7,1215.6 L313.0,1216.8 L313.3,1218.0 L313.5,1219.3 L313.7,1220.6 L313.9,1221.9 L314.0,1223.2 L314.1,1224.5 L314.2,1225.8 L314.3,1227.1 L314.4,1228.4 L314.5,1229.7 L314.7,1231.0 L314.8,1232.3 L314.9,1233.6 L315.1,1234.9 L315.2,1236.2 L315.3,1237.5 L315.5,1238.7 L315.6,1240.0 L315.7,1241.3 L315.9,1242.6 L316.0,1243.9 L316.2,1245.2 L316.3,1246.4 L316.5,1247.7 L316.7,1248.9 L316.9,1250.2 L317.1,1251.4 L317.4,1252.6 L317.6,1253.8 L317.8,1255.0 L318.1,1256.2 L318.3,1257.4 L318.5,1258.7 L318.7,1259.9 L318.9,1261.1 L319.0,1262.3 L319.1,1263.5 L319.2,1264.7 L319.2,1265.9 L319.2,1267.2 L319.3,1268.4 L319.3,1269.6 L319.3,1270.8 L319.3,1272.0 L319.3,1273.2 L319.3,1274.5 L319.3,1275.7 L319.3,1276.9 L319.3,1278.1 L319.4,1279.3 L319.4,1280.5 L319.5,1281.7 L319.5,1282.9 L319.6,1284.2 L319.6,1285.4 L319.7,1286.6 L319.7,1287.8 L319.8,1289.0 L319.8,1290.3 L319.9,1291.5 L320.0,1292.8 L320.0,1294.2 L320.1,1295.5 L320.2,1296.9 L320.3,1298.3 L320.4,1299.6 L320.5,1301.0 L320.5,1302.4 L320.6,1303.8 L320.7,1305.1 L320.7,1306.5 L320.8,1307.8 L320.8,1309.0 L320.9,1310.3 L320.9,1311.5 L320.9,1312.7 L320.9,1313.9 L320.9,1315.1 L320.9,1316.4 L320.9,1317.6 L320.9,1318.8 L321.0,1320.0 L321.0,1321.2 L321.0,1322.4 L321.0,1323.6 L321.1,1324.8 L321.1,1326.0 L321.1,1327.2 L321.2,1328.4 L321.2,1329.7 L321.3,1330.9 L321.3,1332.1 L321.4,1333.3 L321.4,1334.5 L321.5,1335.8 L321.6,1337.0 L321.7,1338.3 L321.8,1339.7 L322.0,1341.0 L322.1,1342.3 L322.3,1343.7 L322.4,1345.1 L322.6,1346.4 L322.8,1347.8 L322.9,1349.2 L323.1,1350.5 L323.2,1351.9 L323.3,1353.3 L323.4,1354.9 L323.5,1356.6 L323.5,1358.5 L323.6,1360.5 L323.7,1362.4 L323.7,1364.3 L323.7,1366.1 L323.8,1367.7 L323.8,1369.0 L323.9,1370.1 L323.9,1370.8 L324.0,1371.0 L324.0,1370.9 L324.1,1370.8 L324.1,1370.5 L324.2,1370.2 L324.2,1369.8 L324.2,1369.3 L324.3,1368.8 L324.3,1368.2 L324.4,1367.7 L324.4,1367.1 L324.5,1366.5 L324.5,1366.0 L324.6,1365.0 L324.6,1363.9 L324.7,1362.8 L324.8,1361.5 L324.8,1360.3 L324.9,1358.9 L325.0,1357.6 L325.0,1356.2 L325.1,1354.8 L325.2,1353.4 L325.2,1352.1 L325.3,1350.8 L325.4,1349.5 L325.5,1348.2 L325.6,1346.9 L325.7,1345.6 L325.8,1344.3 L325.9,1343.0 L326.0,1341.7 L326.1,1340.4 L326.2,1339.1 L326.3,1337.9 L326.3,1336.6 L326.4,1335.3 L326.5,1334.1 L326.5,1332.8 L326.6,1331.6 L326.6,1330.4 L326.6,1329.2 L326.7,1328.0 L326.7,1326.8 L326.7,1325.6 L326.7,1324.4 L326.8,1323.2 L326.8,1321.9 L326.8,1320.7 L326.8,1319.4 L326.8,1318.1 L326.8,1316.8 L326.8,1315.5 L326.8,1314.2 L326.8,1312.9 L326.8,1311.6 L326.8,1310.3 L326.8,1309.0 L326.9,1307.8 L326.9,1306.5 L326.9,1305.2 L326.9,1304.0 L327.0,1302.8 L327.0,1301.5 L327.1,1300.3 L327.1,1299.1 L327.2,1297.9 L327.3,1296.7 L327.3,1295.5 L327.4,1294.3 L327.5,1293.1 L327.5,1291.9 L327.6,1290.7 L327.7,1289.5 L327.7,1288.3 L327.8,1287.0 L327.9,1285.8 L328.0,1284.6 L328.1,1283.4 L328.1,1282.2 L328.2,1280.9 L328.3,1279.7 L328.4,1278.5 L328.4,1277.2 L328.5,1276.0 L328.6,1274.7 L328.6,1273.5 L328.6,1272.2 L328.7,1270.9 L328.7,1269.6 L328.7,1268.3 L328.8,1267.0 L328.8,1265.7 L328.8,1264.4 L328.9,1263.2 L328.9,1261.9 L329.0,1260.6 L329.1,1259.3 L329.2,1258.1 L329.2,1256.9 L329.3,1255.6 L329.4,1254.4 L329.5,1253.1 L329.6,1251.9 L329.7,1250.7 L329.8,1249.4 L330.0,1248.2 L330.1,1246.9 L330.2,1245.7 L330.3,1244.4 L330.4,1243.2 L330.6,1241.9 L330.7,1240.6 L330.8,1239.4 L330.9,1238.1 L331.0,1236.8 L331.2,1235.6 L331.3,1234.3 L331.5,1233.0 L331.7,1231.8 L331.9,1230.5 L332.1,1229.2 L332.4,1227.9 L332.7,1226.6 L333.0,1225.3 L333.3,1224.0 L333.6,1222.7 L333.9,1221.5 L334.2,1220.2 L334.5,1218.9 L334.8,1217.6 L335.1,1216.4 L335.4,1215.1 L335.6,1213.9 L335.8,1212.7 L336.0,1211.4 L336.2,1210.2 L336.4,1209.0 L336.5,1207.7 L336.7,1206.5 L336.9,1205.4 L337.1,1204.3 L337.4,1203.2 L337.7,1202.2 L338.0,1201.3 L338.3,1200.7 L338.6,1200.0 L338.9,1199.4 L339.2,1198.8 L339.5,1198.2 L339.9,1197.7 L340.2,1197.2 L340.6,1196.7 L340.9,1196.3 L341.3,1195.9 L341.6,1195.7 L342.0,1195.5 L342.2,1195.4 L342.5,1195.4 L342.7,1195.4 L342.9,1195.4 L343.1,1195.4 L343.4,1195.4 L343.6,1195.5 L343.8,1195.6 L344.1,1195.7 L344.3,1195.9 L344.6,1196.0 L344.8,1196.2 L345.4,1196.8 L346.0,1197.6 L346.7,1198.6 L347.4,1199.7 L348.1,1201.0 L348.8,1202.4 L349.4,1203.8 L350.1,1205.3 L350.8,1206.8 L351.4,1208.2 L352.0,1209.5 L352.5,1210.8 L352.9,1211.9 L353.3,1213.1 L353.7,1214.3 L354.0,1215.5 L354.3,1216.7 L354.5,1217.9 L354.8,1219.1 L355.1,1220.2 L355.5,1221.2 L355.9,1222.2 L356.3,1223.0 L356.8,1223.7 L357.2,1224.1 L357.6,1224.4 L358.0,1224.7 L358.4,1225.0 L358.8,1225.3 L359.3,1225.5 L359.7,1225.7 L360.2,1225.8 L360.6,1226.0 L361.1,1226.2 L361.6,1226.3 L362.0,1226.5 L362.4,1226.6 L362.9,1226.8 L363.3,1226.8 L363.7,1226.9 L364.2,1226.9 L364.6,1227.0 L365.0,1227.1 L365.5,1227.2 L365.9,1227.3 L366.3,1227.5 L366.7,1227.7 L367.1,1228.0 L367.8,1228.7 L368.5,1229.6 L369.1,1230.7 L369.8,1231.9 L370.4,1233.2 L371.1,1234.7 L371.6,1236.1 L372.2,1237.6 L372.7,1239.2 L373.2,1240.6 L373.6,1242.1 L374.0,1243.4 L374.3,1244.6 L374.5,1245.8 L374.7,1247.0 L374.9,1248.3 L375.0,1249.5 L375.1,1250.7 L375.2,1251.9 L375.3,1253.1 L375.4,1254.3 L375.5,1255.6 L375.6,1256.8 L375.7,1258.0 L375.8,1259.2 L376.0,1260.4 L376.1,1261.6 L376.2,1262.9 L376.4,1264.1 L376.5,1265.3 L376.6,1266.5 L376.8,1267.7 L376.9,1268.9 L377.1,1270.1 L377.2,1271.4 L377.4,1272.6 L377.6,1273.9 L377.8,1275.2 L378.0,1276.4 L378.3,1277.7 L378.5,1279.0 L378.8,1280.3 L379.0,1281.6 L379.2,1282.9 L379.4,1284.2 L379.7,1285.5 L379.8,1286.8 L380.0,1288.1 L380.1,1289.4 L380.2,1290.7 L380.3,1292.0 L380.4,1293.3 L380.5,1294.6 L380.6,1295.9 L380.6,1297.2 L380.7,1298.4 L380.7,1299.7 L380.8,1301.0 L380.8,1302.3 L380.9,1303.5 L381.0,1304.7 L381.0,1306.1 L381.0,1307.6 L381.1,1309.1 L381.1,1310.5 L381.1,1312.0 L381.2,1313.3 L381.2,1314.5 L381.3,1315.5 L381.3,1316.3 L381.4,1316.8 L381.5,1317.0 L381.5,1317.0 L381.6,1317.0 L381.6,1316.9 L381.6,1316.8 L381.7,1316.7 L381.7,1316.6 L381.8,1316.4 L381.8,1316.3 L381.9,1316.1 L381.9,1316.0 L382.0,1315.8 L382.0,1315.6 L382.2,1314.9 L382.4,1314.0 L382.6,1312.9 L382.9,1311.7 L383.1,1310.3 L383.4,1308.9 L383.7,1307.4 L384.0,1305.9 L384.2,1304.3 L384.5,1302.9 L384.8,1301.4 L385.0,1300.1 L385.2,1298.9 L385.4,1297.6 L385.7,1296.4 L385.9,1295.2 L386.1,1294.0 L386.3,1292.8 L386.5,1291.6 L386.7,1290.4 L386.9,1289.1 L387.1,1287.9 L387.3,1286.7 L387.4,1285.5 L387.5,1284.3 L387.6,1283.1 L387.7,1281.9 L387.8,1280.7 L387.8,1279.4 L387.8,1278.2 L387.9,1277.0 L387.9,1275.8 L388.0,1274.6 L388.1,1273.4 L388.2,1272.1 L388.3,1270.9 L388.5,1269.6 L388.6,1268.3 L388.8,1267.0 L389.0,1265.7 L389.3,1264.4 L389.5,1263.1 L389.7,1261.8 L390.0,1260.5 L390.2,1259.2 L390.4,1257.9 L390.7,1256.7 L390.9,1255.4 L391.1,1254.2 L391.3,1253.0 L391.5,1251.8 L391.8,1250.6 L392.0,1249.4 L392.2,1248.3 L392.4,1247.1 L392.6,1245.9 L392.9,1244.7 L393.1,1243.6 L393.3,1242.4 L393.5,1241.2 L393.7,1240.0 L393.9,1238.7 L394.0,1237.3 L394.2,1236.0 L394.3,1234.6 L394.4,1233.2 L394.6,1231.9 L394.8,1230.7 L395.0,1229.6 L395.3,1228.6 L395.6,1227.8 L396.0,1227.1 L396.2,1226.8 L396.4,1226.6 L396.7,1226.3 L396.9,1226.1 L397.2,1225.9 L397.5,1225.7 L397.7,1225.6 L398.0,1225.5 L398.3,1225.4 L398.5,1225.4 L398.8,1225.4 L399.0,1225.5 L399.5,1225.9 L399.9,1226.5 L400.4,1227.4 L400.8,1228.5 L401.2,1229.8 L401.6,1231.2 L402.0,1232.7 L402.4,1234.2 L402.8,1235.8 L403.1,1237.3 L403.5,1238.7 L403.8,1240.0 L404.1,1241.3 L404.5,1242.5 L404.8,1243.8 L405.1,1245.1 L405.4,1246.4 L405.7,1247.7 L406.0,1249.0 L406.2,1250.3 L406.5,1251.6 L406.7,1252.8 L407.0,1254.1 L407.2,1255.4 L407.4,1256.6 L407.6,1257.8 L407.7,1259.1 L407.8,1260.3 L408.0,1261.5 L408.1,1262.7 L408.2,1263.9 L408.3,1265.1 L408.4,1266.4 L408.6,1267.6 L408.7,1268.8 L408.9,1270.0 L409.1,1271.2 L409.3,1272.5 L409.5,1273.7 L409.6,1275.0 L409.8,1276.2 L410.0,1277.5 L410.3,1278.7 L410.5,1279.9 L410.7,1281.1 L411.0,1282.3 L411.2,1283.5 L411.5,1284.6 L411.8,1285.6 L412.0,1286.7 L412.3,1287.8 L412.6,1289.0 L412.9,1290.1 L413.2,1291.2 L413.5,1292.3 L413.8,1293.2 L414.1,1293.9 L414.4,1294.5 L414.7,1294.9 L415.0,1295.0 L415.3,1294.8 L415.7,1294.1 L416.0,1293.1 L416.3,1291.9 L416.6,1290.4 L417.0,1288.8 L417.3,1287.2 L417.7,1285.5 L418.0,1283.9 L418.4,1282.5 L418.8,1281.3 L419.2,1280.3 L419.5,1279.8 L419.7,1279.4 L420.0,1278.9 L420.3,1278.5 L420.6,1278.0 L420.9,1277.6 L421.1,1277.3 L421.4,1277.0 L421.7,1276.7 L422.0,1276.6 L422.3,1276.5 L422.5,1276.5 L422.9,1276.7 L423.2,1277.2 L423.6,1278.0 L423.9,1278.9 L424.2,1280.0 L424.6,1281.2 L424.8,1282.5 L425.1,1283.8 L425.4,1285.2 L425.6,1286.5 L425.9,1287.8 L426.1,1288.9 L426.3,1290.1 L426.5,1291.3 L426.7,1292.4 L426.9,1293.7 L427.0,1294.9 L427.1,1296.1 L427.3,1297.3 L427.4,1298.6 L427.5,1299.8 L427.6,1301.0 L427.7,1302.3 L427.8,1303.5 L427.9,1304.7 L428.0,1305.9 L428.1,1307.1 L428.2,1308.3 L428.2,1309.5 L428.3,1310.7 L428.4,1312.0 L428.4,1313.2 L428.5,1314.4 L428.6,1315.6 L428.6,1316.9 L428.7,1318.1 L428.8,1319.4 L428.9,1320.8 L428.9,1322.1 L429.0,1323.5 L429.1,1324.9 L429.2,1326.3 L429.2,1327.7 L429.3,1329.0 L429.4,1330.4 L429.4,1331.8 L429.5,1333.1 L429.5,1334.4 L429.5,1335.6 L429.5,1336.8 L429.5,1337.9 L429.5,1339.1 L429.5,1340.2 L429.5,1341.3 L429.5,1342.5 L429.5,1343.6 L429.5,1344.7 L429.5,1345.9 L429.5,1347.0 L429.5,1348.2 L429.5,1349.5 L429.5,1350.8 L429.4,1352.2 L429.4,1353.5 L429.4,1354.9 L429.3,1356.3 L429.3,1357.6 L429.3,1359.0 L429.4,1360.2 L429.5,1361.5 L429.6,1362.6 L429.8,1363.7 L430.0,1364.5 L430.2,1365.3 L430.4,1366.1 L430.7,1366.9 L431.0,1367.7 L431.3,1368.5 L431.6,1369.2 L431.9,1369.8 L432.2,1370.3 L432.5,1370.7 L432.7,1370.9 L433.0,1371.0 L433.3,1370.8 L433.6,1370.4 L434.0,1369.8 L434.3,1369.0 L434.6,1368.1 L434.9,1367.0 L435.2,1365.9 L435.5,1364.7 L435.8,1363.5 L436.0,1362.4 L436.2,1361.2 L436.4,1360.2 L436.5,1359.1 L436.6,1357.9 L436.6,1356.7 L436.6,1355.5 L436.6,1354.3 L436.5,1353.1 L436.5,1351.8 L436.4,1350.6 L436.3,1349.3 L436.3,1348.1 L436.2,1346.8 L436.2,1345.6 L436.2,1344.3 L436.2,1343.1 L436.2,1341.8 L436.2,1340.5 L436.2,1339.2 L436.2,1337.9 L436.2,1336.6 L436.3,1335.4 L436.3,1334.1 L436.3,1332.8 L436.4,1331.5 L436.4,1330.2 L436.5,1328.9 L436.5,1327.6 L436.6,1326.3 L436.7,1325.0 L436.8,1323.7 L436.9,1322.4 L436.9,1321.1 L437.0,1319.9 L437.1,1318.6 L437.2,1317.3 L437.2,1316.0 L437.3,1314.7 L437.3,1313.4 L437.4,1312.2 L437.4,1310.9 L437.4,1309.7 L437.4,1308.4 L437.4,1307.1 L437.4,1305.9 L437.4,1304.6 L437.4,1303.4 L437.5,1302.1 L437.5,1300.9 L437.5,1299.6 L437.5,1298.3 L437.6,1297.1 L437.6,1295.9 L437.7,1294.6 L437.7,1293.4 L437.8,1292.1 L437.8,1290.9 L437.9,1289.6 L437.9,1288.4 L438.0,1287.1 L438.0,1285.9 L438.1,1284.6 L438.2,1283.3 L438.2,1282.0 L438.3,1280.8 L438.3,1279.5 L438.4,1278.2 L438.5,1276.9 L438.5,1275.6 L438.6,1274.3 L438.7,1273.0 L438.8,1271.7 L438.9,1270.5 L439.0,1269.2 L439.1,1268.0 L439.2,1266.7 L439.4,1265.5 L439.5,1264.3 L439.7,1263.1 L439.8,1261.9 L440.0,1260.7 L440.2,1259.5 L440.3,1258.2 L440.5,1257.0 L440.6,1255.8 L440.7,1254.6 L440.8,1253.4 L440.9,1252.2 L440.9,1251.0 L441.0,1249.7 L441.1,1248.5 L441.1,1247.3 L441.2,1246.1 L441.2,1244.9 L441.3,1243.7 L441.4,1242.5 L441.5,1241.2 L441.6,1240.0 L441.8,1238.7 L441.9,1237.4 L442.1,1236.1 L442.3,1234.8 L442.5,1233.5 L442.7,1232.2 L443.0,1230.9 L443.2,1229.6 L443.4,1228.3 L443.7,1227.0 L443.9,1225.8 L444.1,1224.5 L444.3,1223.3 L444.5,1222.0 L444.6,1220.8 L444.8,1219.5 L445.0,1218.2 L445.1,1217.0 L445.3,1215.8 L445.5,1214.6 L445.7,1213.4 L446.0,1212.3 L446.3,1211.3 L446.7,1210.3 L447.0,1209.6 L447.4,1208.8 L447.8,1208.1 L448.2,1207.3 L448.6,1206.6 L449.0,1205.9 L449.5,1205.3 L449.9,1204.8 L450.3,1204.3 L450.7,1203.9 L451.1,1203.6 L451.5,1203.5 L451.7,1203.5 L451.9,1203.5 L452.1,1203.5 L452.2,1203.6 L452.4,1203.7 L452.6,1203.8 L452.7,1203.9 L452.9,1204.0 L453.1,1204.2 L453.3,1204.4 L453.4,1204.6 L453.6,1204.8 L454.0,1205.5 L454.5,1206.4 L455.0,1207.4 L455.4,1208.6 L455.9,1210.0 L456.3,1211.4 L456.8,1212.9 L457.2,1214.4 L457.6,1215.9 L458.0,1217.4 L458.4,1218.8 L458.7,1220.2 L459.0,1221.5 L459.3,1222.8 L459.5,1224.1 L459.7,1225.3 L459.9,1226.6 L460.1,1227.9 L460.3,1229.2 L460.5,1230.5 L460.7,1231.8 L460.9,1233.1 L461.1,1234.4 L461.3,1235.7 L461.5,1237.1 L461.8,1238.6 L462.1,1240.2 L462.3,1241.9 L462.6,1243.5 L462.9,1245.1 L463.1,1246.7 L463.4,1248.0 L463.7,1249.2 L463.9,1250.1 L464.2,1250.7 L464.5,1251.0 L464.6,1251.0 L464.7,1251.0 L464.7,1251.0 L464.8,1250.9 L464.9,1250.8 L465.0,1250.7 L465.0,1250.6 L465.1,1250.5 L465.2,1250.4 L465.3,1250.3 L465.4,1250.1 L465.5,1250.0 L465.9,1249.5 L466.4,1248.7 L466.9,1247.9 L467.5,1246.9 L468.1,1245.8 L468.8,1244.6 L469.4,1243.4 L470.1,1242.2 L470.8,1241.0 L471.5,1239.8 L472.2,1238.7 L472.8,1237.7 L473.3,1236.8 L473.8,1236.0 L474.3,1235.1 L474.8,1234.2 L475.3,1233.3 L475.8,1232.4 L476.3,1231.6 L476.8,1230.8 L477.4,1230.1 L478.0,1229.4 L478.6,1228.8 L479.3,1228.3 L480.0,1227.9 L480.7,1227.7 L481.5,1227.6 L482.4,1227.5 L483.2,1227.5 L484.1,1227.5 L484.9,1227.5 L485.8,1227.5 L486.6,1227.4 L487.4,1227.2 L488.1,1226.9 L488.7,1226.5 L489.4,1225.7 L490.1,1224.8 L490.6,1223.7 L491.1,1222.5 L491.5,1221.1 L491.9,1219.7 L492.3,1218.3 L492.6,1216.8 L493.0,1215.4 L493.4,1214.0 L493.8,1212.7 L494.3,1211.5 L494.8,1210.5 L495.2,1209.3 L495.7,1208.2 L496.2,1207.0 L496.7,1205.8 L497.2,1204.7 L497.7,1203.7 L498.2,1202.7 L498.7,1201.9 L499.1,1201.2 L499.6,1200.8 L500.0,1200.5 L500.2,1200.5 L500.3,1200.4 L500.5,1200.4 L500.6,1200.4 L500.8,1200.5 L500.9,1200.5 L501.1,1200.6 L501.2,1200.7 L501.4,1200.8 L501.5,1200.9 L501.7,1201.1 L501.8,1201.2 L502.2,1201.7 L502.6,1202.5 L503.0,1203.4 L503.4,1204.5 L503.8,1205.7 L504.2,1207.0 L504.6,1208.4 L505.0,1209.8 L505.4,1211.2 L505.8,1212.6 L506.1,1213.9 L506.5,1215.2 L506.9,1216.5 L507.2,1217.8 L507.6,1219.1 L507.9,1220.4 L508.2,1221.8 L508.5,1223.1 L508.8,1224.4 L509.1,1225.8 L509.4,1227.1 L509.7,1228.5 L510.0,1229.8 L510.3,1231.1 L510.6,1232.4 L510.8,1233.8 L511.0,1235.2 L511.2,1236.6 L511.3,1238.0 L511.5,1239.4 L511.7,1240.7 L511.9,1242.0 L512.2,1243.2 L512.4,1244.3 L512.7,1245.3 L513.1,1246.1 L513.3,1246.5 L513.5,1246.8 L513.7,1247.2 L514.0,1247.5 L514.2,1247.8 L514.5,1248.1 L514.7,1248.4 L515.0,1248.6 L515.2,1248.8 L515.5,1248.9 L515.7,1249.0 L516.0,1249.0 L516.3,1249.0 L516.6,1248.8 L516.9,1248.7 L517.2,1248.4 L517.5,1248.1 L517.8,1247.8 L518.1,1247.4 L518.4,1247.0 L518.7,1246.6 L519.0,1246.1 L519.3,1245.7 L519.6,1245.2 L520.1,1244.3 L520.6,1243.2 L521.1,1242.0 L521.5,1240.7 L522.0,1239.3 L522.5,1237.8 L522.9,1236.4 L523.4,1235.1 L523.8,1233.8 L524.3,1232.7 L524.7,1231.8 L525.2,1231.1 L525.4,1230.9 L525.6,1230.6 L525.8,1230.4 L526.0,1230.2 L526.2,1230.0 L526.4,1229.9 L526.5,1229.7 L526.7,1229.6 L526.9,1229.5 L527.1,1229.5 L527.3,1229.5 L527.5,1229.5 L527.9,1229.7 L528.2,1230.0 L528.6,1230.5 L528.9,1231.1 L529.3,1231.8 L529.7,1232.6 L530.0,1233.5 L530.4,1234.4 L530.8,1235.2 L531.1,1236.1 L531.5,1236.9 L531.8,1237.7 L532.2,1238.6 L532.5,1239.5 L532.9,1240.6 L533.2,1241.7 L533.6,1242.8 L533.9,1243.9 L534.2,1244.9 L534.6,1245.9 L534.9,1246.7 L535.3,1247.3 L535.6,1247.8 L536.0,1248.0 L536.2,1248.0 L536.4,1248.0 L536.6,1247.9 L536.8,1247.8 L537.0,1247.7 L537.2,1247.5 L537.4,1247.3 L537.6,1247.1 L537.8,1246.9 L538.0,1246.6 L538.2,1246.4 L538.4,1246.1 L538.9,1245.4 L539.4,1244.5 L539.9,1243.4 L540.4,1242.2 L540.9,1240.9 L541.4,1239.5 L541.8,1238.1 L542.3,1236.7 L542.8,1235.2 L543.2,1233.8 L543.6,1232.4 L544.0,1231.1 L544.3,1229.9 L544.6,1228.6 L544.8,1227.4 L545.1,1226.1 L545.3,1224.9 L545.5,1223.6 L545.7,1222.4 L545.9,1221.2 L546.1,1220.0 L546.3,1218.8 L546.6,1217.7 L546.9,1216.6 L547.2,1215.7 L547.5,1214.8 L547.8,1213.8 L548.1,1212.8 L548.4,1211.9 L548.8,1211.0 L549.1,1210.1 L549.5,1209.3 L549.9,1208.7 L550.2,1208.1 L550.6,1207.7 L551.0,1207.5 L551.2,1207.4 L551.5,1207.4 L551.7,1207.5 L552.0,1207.5 L552.2,1207.6 L552.5,1207.7 L552.7,1207.9 L553.0,1208.1 L553.2,1208.3 L553.4,1208.5 L553.7,1208.7 L553.9,1209.0 L554.4,1209.7 L554.8,1210.6 L555.3,1211.6 L555.7,1212.8 L556.1,1214.0 L556.5,1215.4 L556.9,1216.8 L557.3,1218.3 L557.6,1219.8 L558.0,1221.2 L558.3,1222.6 L558.6,1223.9 L558.9,1225.2 L559.1,1226.5 L559.4,1227.8 L559.6,1229.1 L559.8,1230.4 L559.9,1231.7 L560.1,1233.0 L560.3,1234.3 L560.4,1235.6 L560.6,1236.9 L560.7,1238.2 L560.9,1239.5 L561.1,1240.7 L561.2,1241.9 L561.3,1243.0 L561.5,1244.2 L561.6,1245.4 L561.7,1246.5 L561.9,1247.7 L562.0,1248.8 L562.1,1250.0 L562.3,1251.2 L562.4,1252.4 L562.5,1253.6 L562.6,1254.9 L562.8,1256.3 L562.9,1257.6 L563.0,1259.0 L563.2,1260.4 L563.3,1261.8 L563.4,1263.2 L563.6,1264.6 L563.7,1266.0 L563.8,1267.3 L563.9,1268.7 L564.0,1270.0 L564.1,1271.2 L564.2,1272.4 L564.2,1273.6 L564.3,1274.7 L564.4,1275.9 L564.4,1277.0 L564.5,1278.2 L564.6,1279.3 L564.6,1280.5 L564.7,1281.7 L564.7,1282.8 L564.8,1284.0 L564.9,1285.2 L564.9,1286.4 L565.0,1287.7 L565.1,1288.9 L565.1,1290.1 L565.2,1291.4 L565.3,1292.6 L565.3,1293.9 L565.4,1295.1 L565.5,1296.4 L565.5,1297.6 L565.6,1298.9 L565.7,1300.2 L565.7,1301.6 L565.8,1303.0 L565.8,1304.4 L565.9,1305.7 L565.9,1307.1 L566.0,1308.5 L566.1,1309.9 L566.1,1311.3 L566.2,1312.6 L566.3,1314.0 L566.4,1315.3 L566.5,1316.5 L566.6,1317.7 L566.8,1318.9 L566.9,1320.1 L567.1,1321.2 L567.2,1322.4 L567.4,1323.6 L567.5,1324.7 L567.6,1325.9 L567.8,1327.0 L567.9,1328.2 L568.0,1329.4 L568.1,1330.6 L568.2,1331.9 L568.2,1333.2 L568.3,1334.4 L568.3,1335.7 L568.4,1337.0 L568.4,1338.3 L568.4,1339.5 L568.5,1340.8 L568.6,1342.0 L568.6,1343.1 L568.8,1344.2 L568.8,1345.0 L569.0,1345.9 L569.1,1346.7 L569.2,1347.5 L569.3,1348.3 L569.5,1349.1 L569.6,1349.9 L569.7,1350.6 L569.9,1351.3 L570.0,1351.9 L570.1,1352.5 L570.2,1353.0 L570.2,1353.3 L570.3,1353.5 L570.3,1353.8 L570.4,1354.1 L570.4,1354.3 L570.5,1354.5 L570.5,1354.7 L570.5,1354.9 L570.6,1355.1 L570.6,1355.2 L570.7,1355.3 L570.7,1355.3 L570.8,1355.2 L570.8,1354.9 L570.9,1354.4 L570.9,1353.9 L571.0,1353.1 L571.0,1352.3 L571.1,1351.5 L571.1,1350.6 L571.2,1349.6 L571.2,1348.7 L571.3,1347.8 L571.3,1347.0 L571.4,1345.9 L571.4,1344.7 L571.5,1343.4 L571.5,1342.1 L571.6,1340.7 L571.6,1339.4 L571.6,1338.0 L571.7,1336.6 L571.7,1335.2 L571.8,1333.9 L571.8,1332.5 L571.9,1331.2 L572.0,1330.1 L572.0,1328.9 L572.1,1327.8 L572.2,1326.7 L572.2,1325.6 L572.3,1324.5 L572.4,1323.4 L572.4,1322.3 L572.5,1321.2 L572.6,1320.0 L572.6,1318.9 L572.7,1317.7 L572.8,1316.4 L572.8,1315.0 L572.8,1313.7 L572.9,1312.3 L572.9,1310.9 L572.9,1309.5 L573.0,1308.1 L573.0,1306.7 L573.1,1305.3 L573.2,1304.0 L573.3,1302.6 L573.4,1301.2 L573.5,1300.0 L573.7,1298.7 L573.9,1297.5 L574.1,1296.2 L574.3,1295.0 L574.5,1293.8 L574.7,1292.5 L575.0,1291.3 L575.2,1290.1 L575.4,1288.9 L575.6,1287.6 L575.8,1286.4 L576.0,1285.1 L576.1,1283.6 L576.3,1282.0 L576.4,1280.4 L576.5,1278.8 L576.7,1277.3 L576.8,1275.8 L577.0,1274.5 L577.2,1273.3 L577.4,1272.4 L577.7,1271.8 L578.0,1271.5 L578.2,1271.5 L578.4,1271.5 L578.6,1271.6 L578.8,1271.7 L579.0,1271.9 L579.2,1272.1 L579.4,1272.4 L579.6,1272.7 L579.8,1273.0 L580.1,1273.3 L580.3,1273.6 L580.5,1273.9 L581.0,1274.7 L581.5,1275.6 L582.0,1276.7 L582.5,1277.9 L583.1,1279.2 L583.6,1280.6 L584.2,1281.9 L584.7,1283.2 L585.2,1284.4 L585.8,1285.5 L586.2,1286.5 L586.7,1287.2 L586.9,1287.5 L587.1,1287.8 L587.3,1288.1 L587.5,1288.4 L587.7,1288.6 L587.9,1288.9 L588.1,1289.1 L588.3,1289.3 L588.5,1289.4 L588.7,1289.5 L588.8,1289.5 L589.0,1289.5 L589.3,1289.2 L589.6,1288.5 L589.8,1287.6 L590.0,1286.4 L590.2,1285.0 L590.4,1283.4 L590.5,1281.8 L590.7,1280.1 L590.8,1278.4 L591.0,1276.8 L591.2,1275.3 L591.4,1273.9 L591.6,1272.6 L591.9,1271.4 L592.1,1270.2 L592.4,1268.9 L592.7,1267.7 L593.0,1266.4 L593.2,1265.2 L593.5,1264.0 L593.8,1262.7 L594.0,1261.5 L594.3,1260.3 L594.5,1259.0 L594.7,1257.7 L594.9,1256.4 L595.2,1255.1 L595.4,1253.8 L595.6,1252.5 L595.7,1251.2 L595.9,1249.9 L596.1,1248.6 L596.3,1247.2 L596.5,1246.0 L596.7,1244.7 L596.9,1243.4 L597.1,1242.2 L597.3,1241.0 L597.5,1239.8 L597.6,1238.7 L597.8,1237.5 L598.0,1236.4 L598.2,1235.2 L598.4,1234.0 L598.6,1232.9 L598.8,1231.7 L599.0,1230.6 L599.2,1229.4 L599.4,1228.2 L599.6,1226.9 L599.8,1225.5 L600.0,1224.1 L600.2,1222.7 L600.5,1221.4 L600.7,1220.1 L601.0,1218.9 L601.2,1217.7 L601.5,1216.8 L601.9,1215.9 L602.3,1215.3 L602.5,1215.1 L602.7,1214.9 L602.9,1214.7 L603.2,1214.5 L603.4,1214.3 L603.6,1214.2 L603.9,1214.1 L604.1,1214.0 L604.3,1214.0 L604.6,1213.9 L604.8,1214.0 L605.0,1214.0 L605.3,1214.1 L605.6,1214.4 L605.8,1214.7 L606.1,1215.0 L606.3,1215.4 L606.6,1215.9 L606.8,1216.4 L607.0,1216.9 L607.3,1217.5 L607.5,1218.0 L607.8,1218.5 L608.0,1219.0 L608.3,1219.6 L608.6,1220.2 L609.0,1220.9 L609.3,1221.5 L609.6,1222.2 L609.9,1222.9 L610.2,1223.6 L610.5,1224.4 L610.8,1225.1 L611.1,1225.9 L611.4,1226.7 L611.6,1227.5 L611.9,1228.6 L612.1,1229.7 L612.3,1230.9 L612.4,1232.2 L612.6,1233.4 L612.7,1234.7 L612.8,1236.0 L612.9,1237.4 L613.0,1238.7 L613.1,1240.0 L613.3,1241.3 L613.4,1242.5 L613.6,1243.7 L613.7,1244.9 L613.9,1246.0 L614.0,1247.2 L614.2,1248.4 L614.3,1249.5 L614.5,1250.7 L614.7,1251.9 L614.8,1253.0 L615.0,1254.2 L615.1,1255.4 L615.3,1256.6 L615.5,1257.9 L615.6,1259.2 L615.8,1260.5 L616.0,1261.9 L616.1,1263.2 L616.3,1264.5 L616.5,1265.9 L616.6,1267.2 L616.8,1268.6 L616.9,1269.9 L617.1,1271.2 L617.2,1272.5 L617.3,1273.7 L617.4,1274.9 L617.5,1276.1 L617.5,1277.2 L617.6,1278.4 L617.6,1279.5 L617.7,1280.7 L617.7,1281.8 L617.8,1283.0 L617.9,1284.2 L618.0,1285.4 L618.1,1286.6 L618.3,1288.1 L618.4,1289.7 L618.6,1291.5 L618.8,1293.4 L619.1,1295.2 L619.3,1297.0 L619.5,1298.8 L619.7,1300.3 L620.0,1301.6 L620.2,1302.6 L620.3,1303.3 L620.5,1303.5 L620.5,1303.5 L620.6,1303.5 L620.6,1303.4 L620.6,1303.4 L620.7,1303.3 L620.7,1303.2 L620.7,1303.1 L620.8,1303.0 L620.8,1302.9 L620.8,1302.8 L620.9,1302.6 L620.9,1302.5 L621.1,1301.9 L621.3,1301.0 L621.5,1300.0 L621.7,1298.8 L621.9,1297.5 L622.2,1296.1 L622.4,1294.6 L622.7,1293.1 L623.0,1291.6 L623.2,1290.2 L623.5,1288.8 L623.8,1287.5 L624.0,1286.3 L624.2,1285.1 L624.5,1284.0 L624.7,1282.8 L625.0,1281.6 L625.2,1280.5 L625.5,1279.3 L625.7,1278.1 L626.0,1277.0 L626.2,1275.8 L626.4,1274.6 L626.6,1273.4 L626.8,1272.2 L626.9,1270.9 L627.1,1269.7 L627.2,1268.4 L627.3,1267.1 L627.4,1265.8 L627.5,1264.6 L627.6,1263.3 L627.8,1262.1 L627.9,1260.8 L628.1,1259.6 L628.4,1258.4 L628.7,1257.3 L629.0,1256.1 L629.3,1255.0 L629.6,1253.9 L630.0,1252.8 L630.3,1251.7 L630.7,1250.6 L631.1,1249.6 L631.6,1248.5 L632.1,1247.4 L632.6,1246.4 L633.1,1245.3 L633.7,1244.2 L634.5,1243.1 L635.2,1242.0 L636.1,1240.9 L636.9,1239.9 L637.8,1238.8 L638.7,1237.8 L639.5,1236.7 L640.4,1235.6 L641.2,1234.5 L641.9,1233.4 L642.5,1232.2 L643.1,1231.0 L643.5,1229.8 L644.0,1228.6 L644.4,1227.4 L644.8,1226.1 L645.1,1224.8 L645.5,1223.6 L645.8,1222.3 L646.1,1221.0 L646.5,1219.7 L646.8,1218.5 L647.2,1217.2 L647.6,1215.9 L647.9,1214.7 L648.3,1213.4 L648.6,1212.1 L649.0,1210.8 L649.3,1209.6 L649.7,1208.3 L650.1,1207.0 L650.5,1205.8 L650.9,1204.6 L651.4,1203.4 L651.9,1202.2 L652.4,1201.0 L653.0,1199.8 L653.6,1198.4 L654.2,1197.0 L654.9,1195.7 L655.6,1194.4 L656.2,1193.2 L656.9,1192.1 L657.6,1191.2 L658.2,1190.6 L658.8,1190.1 L659.4,1190.0 L659.9,1190.2 L660.5,1190.6 L661.0,1191.3 L661.5,1192.2 L662.0,1193.3 L662.4,1194.5 L662.9,1195.8 L663.3,1197.1 L663.8,1198.4 L664.2,1199.8 L664.6,1201.0 L665.0,1202.2 L665.4,1203.4 L665.8,1204.7 L666.2,1206.0 L666.5,1207.3 L666.9,1208.6 L667.2,1210.0 L667.5,1211.3 L667.8,1212.7 L668.1,1214.1 L668.3,1215.4 L668.5,1216.8 L668.8,1218.1 L668.9,1219.4 L669.1,1220.7 L669.2,1222.0 L669.3,1223.3 L669.3,1224.5 L669.4,1225.8 L669.4,1227.1 L669.5,1228.4 L669.5,1229.7 L669.6,1231.0 L669.6,1232.2 L669.7,1233.5 L669.8,1234.7 L669.8,1235.9 L669.9,1237.2 L670.0,1238.4 L670.0,1239.6 L670.1,1240.8 L670.2,1242.0 L670.2,1243.2 L670.3,1244.4 L670.4,1245.6 L670.5,1246.9 L670.6,1248.1 L670.7,1249.4 L670.9,1250.7 L671.0,1252.1 L671.2,1253.4 L671.4,1254.8 L671.5,1256.1 L671.7,1257.5 L671.9,1258.8 L672.1,1260.2 L672.2,1261.5 L672.4,1262.8 L672.5,1264.1 L672.6,1265.3 L672.7,1266.5 L672.8,1267.7 L672.9,1268.8 L673.0,1270.0 L673.1,1271.1 L673.1,1272.3 L673.2,1273.4 L673.3,1274.6 L673.3,1275.7 L673.4,1276.9 L673.4,1278.1 L673.4,1279.3 L673.4,1280.6 L673.4,1281.8 L673.4,1283.0 L673.4,1284.3 L673.4,1285.5 L673.4,1286.8 L673.4,1288.0 L673.4,1289.3 L673.4,1290.6 L673.4,1291.8 L673.4,1293.1 L673.4,1294.4 L673.5,1295.7 L673.6,1297.1 L673.7,1298.4 L673.7,1299.8 L673.8,1301.1 L673.9,1302.5 L674.0,1303.8 L674.1,1305.1 L674.2,1306.5 L674.3,1307.8 L674.4,1309.1 L674.5,1310.3 L674.6,1311.5 L674.6,1312.8 L674.7,1314.0 L674.8,1315.1 L674.9,1316.3 L675.0,1317.5 L675.1,1318.7 L675.1,1319.9 L675.2,1321.1 L675.3,1322.3 L675.3,1323.5 L675.3,1324.7 L675.3,1325.9 L675.3,1327.1 L675.3,1328.3 L675.3,1329.5 L675.3,1330.8 L675.3,1332.0 L675.3,1333.2 L675.3,1334.4 L675.3,1335.6 L675.3,1336.9 L675.3,1338.1 L675.3,1339.4 L675.4,1340.7 L675.5,1342.0 L675.5,1343.2 L675.6,1344.5 L675.7,1345.8 L675.8,1347.1 L675.9,1348.5 L676.0,1349.8 L676.1,1351.2 L676.2,1352.6 L676.2,1354.1 L676.3,1356.1 L676.4,1358.5 L676.5,1361.1 L676.6,1363.8 L676.7,1366.6 L676.8,1369.3 L676.9,1371.9 L676.9,1374.2 L677.0,1376.1 L677.1,1377.7 L677.2,1378.6 L677.3,1379.0 L677.3,1379.0 L677.4,1378.8 L677.4,1378.6 L677.5,1378.3 L677.5,1378.0 L677.6,1377.6 L677.6,1377.1 L677.6,1376.7 L677.7,1376.2 L677.7,1375.7 L677.8,1375.2 L677.8,1374.7 L677.9,1373.7 L677.9,1372.6 L678.0,1371.5 L678.0,1370.2 L678.0,1368.8 L678.1,1367.4 L678.1,1366.0 L678.2,1364.5 L678.2,1363.1 L678.2,1361.7 L678.3,1360.3 L678.3,1359.0 L678.3,1357.8 L678.4,1356.6 L678.4,1355.4 L678.5,1354.2 L678.5,1353.0 L678.6,1351.8 L678.6,1350.6 L678.6,1349.4 L678.7,1348.3 L678.7,1347.1 L678.8,1345.9 L678.8,1344.7 L678.8,1343.5 L678.9,1342.4 L678.9,1341.2 L678.9,1340.1 L678.9,1338.9 L678.9,1337.7 L679.0,1336.6 L679.0,1335.4 L679.0,1334.2 L679.0,1333.0 L679.1,1331.8 L679.1,1330.6 L679.2,1329.2 L679.2,1327.7 L679.3,1326.3 L679.4,1324.8 L679.4,1323.2 L679.5,1321.7 L679.6,1320.2 L679.7,1318.7 L679.8,1317.2 L679.8,1315.7 L679.9,1314.2 L680.0,1312.8 L680.1,1311.5 L680.2,1310.3 L680.2,1309.0 L680.3,1307.8 L680.4,1306.6 L680.5,1305.4 L680.6,1304.2 L680.7,1303.0 L680.7,1301.8 L680.8,1300.6 L680.9,1299.4 L680.9,1298.2 L680.9,1297.1 L680.9,1295.9 L680.9,1294.8 L680.9,1293.7 L680.9,1292.6 L680.9,1291.5 L680.9,1290.4 L680.9,1289.3 L680.9,1288.1 L680.9,1287.0 L680.9,1285.9 L680.9,1284.7 L680.9,1283.4 L681.0,1282.1 L681.1,1280.8 L681.2,1279.5 L681.3,1278.1 L681.4,1276.8 L681.5,1275.4 L681.6,1274.1 L681.7,1272.7 L681.8,1271.4 L681.8,1270.1 L681.9,1268.8 L681.9,1267.5 L682.0,1266.2 L682.0,1265.0 L682.0,1263.7 L682.0,1262.5 L682.0,1261.2 L682.0,1260.0 L682.1,1258.7 L682.1,1257.5 L682.1,1256.2 L682.2,1255.0 L682.3,1253.8 L682.4,1252.5 L682.6,1251.3 L682.7,1250.1 L682.9,1248.8 L683.1,1247.6 L683.3,1246.4 L683.5,1245.2 L683.7,1244.0 L683.9,1242.7 L684.1,1241.5 L684.2,1240.3 L684.4,1239.0 L684.5,1237.7 L684.7,1236.3 L684.8,1235.0 L684.9,1233.6 L685.1,1232.2 L685.2,1230.8 L685.3,1229.5 L685.4,1228.1 L685.5,1226.7 L685.6,1225.4 L685.8,1224.0 L685.9,1222.7 L686.0,1221.5 L686.1,1220.3 L686.3,1219.1 L686.4,1217.9 L686.5,1216.7 L686.6,1215.5 L686.7,1214.4 L686.9,1213.2 L687.0,1212.0 L687.2,1210.9 L687.3,1209.7 L687.5,1208.5 L687.7,1207.2 L687.9,1205.9 L688.0,1204.6 L688.2,1203.3 L688.4,1201.9 L688.6,1200.6 L688.9,1199.3 L689.1,1198.0 L689.4,1196.8 L689.8,1195.7 L690.1,1194.6 L690.6,1193.7 L691.0,1193.0 L691.4,1192.4 L691.8,1191.7 L692.3,1191.1 L692.8,1190.4 L693.3,1189.9 L693.8,1189.3 L694.3,1188.9 L694.8,1188.5 L695.3,1188.3 L695.8,1188.1 L696.2,1188.1 L696.7,1188.3 L697.2,1188.6 L697.7,1189.1 L698.2,1189.7 L698.7,1190.5 L699.2,1191.3 L699.6,1192.3 L700.1,1193.2 L700.5,1194.2 L700.9,1195.2 L701.3,1196.1 L701.7,1197.0 L702.1,1198.1 L702.4,1199.2 L702.8,1200.3 L703.0,1201.5 L703.3,1202.7 L703.5,1204.0 L703.7,1205.2 L704.0,1206.5 L704.2,1207.7 L704.5,1209.0 L704.8,1210.3 L705.1,1211.5 L705.5,1212.9 L705.9,1214.5 L706.4,1216.1 L706.9,1217.9 L707.4,1219.6 L707.9,1221.3 L708.4,1222.9 L708.9,1224.3 L709.4,1225.5 L709.8,1226.5 L710.2,1227.2 L710.5,1227.5 L710.6,1227.5 L710.6,1227.5 L710.7,1227.5 L710.7,1227.5 L710.8,1227.5 L710.9,1227.5 L710.9,1227.4 L711.0,1227.4 L711.0,1227.3 L711.1,1227.2 L711.1,1227.2 L711.2,1227.1 L711.5,1226.6 L711.9,1225.9 L712.3,1224.9 L712.7,1223.8 L713.2,1222.5 L713.6,1221.2 L714.1,1219.7 L714.6,1218.2 L715.0,1216.7 L715.5,1215.3 L715.9,1213.9 L716.2,1212.6 L716.6,1211.4 L716.9,1210.2 L717.2,1209.0 L717.5,1207.8 L717.8,1206.6 L718.1,1205.4 L718.3,1204.2 L718.6,1202.9 L718.8,1201.7 L719.1,1200.5 L719.3,1199.3 L719.6,1198.1 L719.8,1196.9 L720.1,1195.7 L720.2,1194.4 L720.4,1193.2 L720.6,1192.0 L720.8,1190.7 L721.0,1189.5 L721.2,1188.3 L721.4,1187.1 L721.7,1185.9 L722.0,1184.7 L722.4,1183.6 L722.8,1182.5 L723.2,1181.4 L723.7,1180.3 L724.1,1179.2 L724.6,1178.1 L725.2,1177.0 L725.7,1176.0 L726.2,1175.0 L726.8,1174.1 L727.4,1173.3 L727.9,1172.5 L728.5,1171.9 L728.9,1171.6 L729.2,1171.2 L729.6,1170.9 L730.0,1170.6 L730.3,1170.3 L730.7,1170.1 L731.1,1169.9 L731.5,1169.7 L731.9,1169.6 L732.2,1169.5 L732.6,1169.5 L733.0,1169.5 L733.5,1169.6 L734.0,1169.8 L734.5,1170.1 L735.0,1170.4 L735.5,1170.8 L736.0,1171.3 L736.5,1171.8 L736.9,1172.3 L737.4,1172.9 L737.8,1173.5 L738.2,1174.1 L738.6,1174.7 L739.1,1175.6 L739.4,1176.6 L739.8,1177.7 L740.0,1178.9 L740.3,1180.1 L740.5,1181.4 L740.7,1182.7 L740.9,1184.0 L741.1,1185.3 L741.3,1186.6 L741.6,1187.9 L741.9,1189.2 L742.3,1190.5 L742.7,1191.9 L743.1,1193.2 L743.5,1194.6 L744.0,1196.0 L744.4,1197.3 L744.9,1198.7 L745.3,1200.0 L745.8,1201.4 L746.2,1202.8 L746.5,1204.1 L746.9,1205.4 L747.2,1206.6 L747.5,1207.8 L747.7,1209.0 L747.9,1210.2 L748.2,1211.3 L748.4,1212.5 L748.6,1213.7 L748.8,1214.8 L749.0,1216.0 L749.2,1217.1 L749.5,1218.2 L749.7,1219.3 L749.9,1220.3 L750.1,1221.4 L750.3,1222.5 L750.5,1223.7 L750.7,1224.8 L750.9,1225.9 L751.2,1226.9 L751.4,1227.9 L751.6,1228.7 L751.9,1229.3 L752.2,1229.8 L752.5,1230.0 L752.7,1230.0 L752.8,1230.0 L753.0,1230.0 L753.2,1229.9 L753.4,1229.8 L753.6,1229.6 L753.8,1229.4 L754.0,1229.2 L754.2,1229.0 L754.4,1228.8 L754.6,1228.6 L754.8,1228.3 L755.2,1227.6 L755.6,1226.7 L756.0,1225.6 L756.3,1224.4 L756.7,1223.1 L757.1,1221.7 L757.4,1220.3 L757.8,1218.8 L758.2,1217.3 L758.5,1215.9 L758.9,1214.5 L759.2,1213.2 L759.5,1211.9 L759.9,1210.7 L760.2,1209.4 L760.6,1208.2 L760.9,1206.9 L761.3,1205.6 L761.6,1204.4 L761.9,1203.1 L762.2,1201.8 L762.5,1200.6 L762.8,1199.3 L763.1,1198.1 L763.3,1196.9 L763.5,1195.8 L763.7,1194.6 L763.9,1193.4 L764.0,1192.3 L764.2,1191.1 L764.3,1190.0 L764.5,1188.8 L764.6,1187.7 L764.9,1186.5 L765.1,1185.4 L765.4,1184.2 L765.8,1183.0 L766.1,1181.8 L766.6,1180.5 L767.0,1179.3 L767.5,1178.0 L768.0,1176.8 L768.5,1175.6 L769.0,1174.4 L769.5,1173.2 L770.0,1172.0 L770.5,1170.8 L771.0,1169.7 L771.4,1168.7 L771.9,1167.7 L772.3,1166.7 L772.7,1165.6 L773.1,1164.6 L773.5,1163.7 L774.0,1162.7 L774.4,1161.8 L774.9,1160.9 L775.4,1160.0 L776.0,1159.2 L776.6,1158.4 L777.2,1157.7 L777.8,1157.0 L778.5,1156.3 L779.2,1155.7 L779.9,1155.0 L780.7,1154.4 L781.4,1153.9 L782.1,1153.4 L782.9,1152.9 L783.6,1152.5 L784.3,1152.2 L785.0,1152.0 L785.5,1151.9 L785.9,1151.8 L786.4,1151.8 L786.8,1151.8 L787.3,1151.9 L787.7,1151.9 L788.2,1152.0 L788.6,1152.1 L789.1,1152.3 L789.6,1152.4 L790.1,1152.6 L790.6,1152.8 L791.5,1153.1 L792.5,1153.6 L793.6,1154.1 L794.7,1154.6 L795.9,1155.3 L797.0,1155.9 L798.2,1156.6 L799.4,1157.3 L800.5,1158.1 L801.6,1158.8 L802.7,1159.6 L803.8,1160.3 L804.7,1161.0 L805.6,1161.7 L806.6,1162.4 L807.5,1163.1 L808.4,1163.9 L809.3,1164.6 L810.1,1165.4 L811.0,1166.2 L811.8,1167.0 L812.5,1167.9 L813.3,1168.8 L814.0,1169.7 L814.7,1170.7 L815.3,1171.8 L815.9,1172.9 L816.5,1174.1 L817.0,1175.2 L817.5,1176.4 L818.0,1177.7 L818.5,1178.9 L819.0,1180.1 L819.5,1181.3 L820.0,1182.6 L820.6,1183.8 L821.3,1185.0 L822.0,1186.2 L822.7,1187.5 L823.5,1188.7 L824.2,1190.0 L825.0,1191.2 L825.7,1192.5 L826.5,1193.7 L827.2,1195.0 L827.8,1196.3 L828.4,1197.5 L829.0,1198.8 L829.4,1199.9 L829.9,1201.0 L830.2,1202.1 L830.6,1203.2 L830.9,1204.3 L831.2,1205.5 L831.5,1206.6 L831.7,1207.7 L832.0,1208.8 L832.3,1210.0 L832.5,1211.1 L832.8,1212.2 L833.1,1213.4 L833.3,1214.6 L833.6,1215.8 L833.8,1217.0 L834.1,1218.2 L834.3,1219.5 L834.5,1220.7 L834.7,1221.9 L834.9,1223.1 L835.2,1224.4 L835.4,1225.6 L835.6,1226.9 L835.8,1228.3 L836.1,1229.7 L836.3,1231.1 L836.6,1232.5 L836.8,1233.9 L837.1,1235.4 L837.3,1236.8 L837.5,1238.2 L837.8,1239.6 L838.0,1241.0 L838.2,1242.4 L838.4,1243.8 L838.6,1244.9 L838.8,1246.1 L838.9,1247.3 L839.1,1248.4 L839.2,1249.5 L839.4,1250.6 L839.5,1251.8 L839.7,1252.9 L839.8,1254.0 L840.0,1255.1 L840.1,1256.3 L840.3,1257.4 L840.5,1258.6 L840.6,1259.8 L840.8,1261.0 L840.9,1262.2 L841.1,1263.4 L841.3,1264.6 L841.4,1265.8 L841.6,1267.0 L841.7,1268.2 L841.9,1269.4 L842.0,1270.7 L842.2,1271.9 L842.4,1273.2 L842.5,1274.5 L842.7,1275.8 L842.9,1277.2 L843.1,1278.5 L843.3,1279.8 L843.4,1281.2 L843.6,1282.5 L843.7,1283.9 L843.9,1285.2 L844.0,1286.5 L844.1,1287.8 L844.2,1289.0 L844.2,1290.2 L844.3,1291.5 L844.3,1292.7 L844.3,1293.9 L844.3,1295.1 L844.3,1296.3 L844.3,1297.4 L844.3,1298.6 L844.3,1299.8 L844.4,1301.0 L844.4,1302.2 L844.4,1303.5 L844.5,1304.7 L844.5,1305.9 L844.6,1307.1 L844.6,1308.3 L844.7,1309.5 L844.7,1310.7 L844.8,1311.9 L844.8,1313.2 L844.9,1314.4 L844.9,1315.6 L845.0,1316.9 L845.1,1318.3 L845.1,1319.7 L845.2,1321.1 L845.3,1322.5 L845.3,1323.9 L845.4,1325.4 L845.5,1326.8 L845.6,1328.2 L845.7,1329.6 L845.7,1331.0 L845.8,1332.4 L845.9,1333.8 L846.0,1334.9 L846.1,1336.1 L846.1,1337.2 L846.2,1338.3 L846.3,1339.5 L846.4,1340.6 L846.5,1341.7 L846.6,1342.8 L846.7,1343.9 L846.7,1345.0 L846.8,1346.1 L846.9,1347.2 L847.0,1348.4 L847.1,1349.6 L847.1,1350.8 L847.2,1352.1 L847.3,1353.3 L847.4,1354.5 L847.5,1355.7 L847.5,1356.9 L847.6,1358.2 L847.7,1359.4 L847.7,1360.6 L847.8,1361.9 L847.9,1363.3 L847.9,1364.7 L848.0,1366.1 L848.0,1367.5 L848.1,1368.9 L848.1,1370.4 L848.2,1371.8 L848.2,1373.2 L848.3,1374.6 L848.3,1376.0 L848.4,1377.4 L848.4,1378.8 L848.4,1379.9 L848.5,1381.1 L848.5,1382.2 L848.5,1383.3 L848.6,1384.5 L848.6,1385.6 L848.6,1386.7 L848.6,1387.8 L848.7,1388.9 L848.7,1390.0 L848.7,1391.1 L848.8,1392.2 L848.8,1393.4 L848.8,1394.7 L848.8,1395.9 L848.8,1397.1 L848.8,1398.3 L848.8,1399.5 L848.8,1400.8 L848.9,1402.0 L848.9,1403.2 L848.9,1404.4 L848.9,1405.7 L849.0,1406.9 L849.1,1408.2 L849.1,1409.5 L849.2,1410.8 L849.3,1412.2 L849.3,1413.5 L849.4,1414.9 L849.5,1416.2 L849.6,1417.5 L849.7,1418.7 L849.9,1419.9 L850.0,1421.0 L850.2,1422.0 L850.3,1422.6 L850.5,1423.3 L850.6,1424.0 L850.8,1424.7 L850.9,1425.3 L851.1,1426.0 L851.3,1426.5 L851.4,1427.0 L851.6,1427.4 L851.7,1427.7 L851.9,1427.9 L852.0,1428.0 L852.2,1427.6 L852.4,1426.7 L852.6,1425.2 L852.7,1423.3 L852.9,1421.1 L853.0,1418.7 L853.1,1416.0 L853.2,1413.4 L853.3,1410.8 L853.4,1408.3 L853.5,1406.0 L853.6,1404.0 L853.7,1402.6 L853.8,1401.2 L853.9,1399.8 L853.9,1398.5 L854.0,1397.1 L854.1,1395.8 L854.1,1394.6 L854.2,1393.3 L854.3,1392.0 L854.3,1390.7 L854.4,1389.4 L854.4,1388.1 L854.4,1386.8 L854.4,1385.4 L854.5,1384.1 L854.5,1382.8 L854.5,1381.5 L854.4,1380.1 L854.4,1378.8 L854.4,1377.5 L854.4,1376.1 L854.4,1374.8 L854.4,1373.5 L854.4,1372.2 L854.4,1370.9 L854.4,1369.7 L854.4,1368.4 L854.4,1367.1 L854.4,1365.9 L854.3,1364.6 L854.3,1363.4 L854.3,1362.1 L854.3,1360.9 L854.3,1359.7 L854.4,1358.4 L854.4,1357.2 L854.4,1356.0 L854.5,1354.8 L854.6,1353.7 L854.7,1352.5 L854.8,1351.4 L854.8,1350.2 L854.9,1349.0 L855.0,1347.9 L855.1,1346.7 L855.2,1345.5 L855.3,1344.3 L855.3,1343.1 L855.3,1341.7 L855.3,1340.4 L855.3,1339.0 L855.3,1337.5 L855.3,1336.1 L855.3,1334.7 L855.3,1333.2 L855.3,1331.8 L855.2,1330.4 L855.2,1329.0 L855.3,1327.6 L855.3,1326.2 L855.3,1325.1 L855.4,1323.9 L855.5,1322.7 L855.6,1321.6 L855.6,1320.5 L855.7,1319.4 L855.8,1318.2 L855.9,1317.1 L856.0,1316.0 L856.1,1314.9 L856.2,1313.7 L856.2,1312.6 L856.3,1311.4 L856.4,1310.2 L856.5,1309.0 L856.6,1307.8 L856.7,1306.6 L856.8,1305.4 L856.8,1304.2 L856.9,1303.0 L857.0,1301.8 L857.1,1300.6 L857.1,1299.3 L857.2,1298.1 L857.3,1296.7 L857.3,1295.4 L857.3,1294.0 L857.4,1292.6 L857.4,1291.2 L857.4,1289.8 L857.5,1288.4 L857.5,1287.0 L857.6,1285.6 L857.6,1284.1 L857.7,1282.7 L857.8,1281.2 L857.9,1279.7 L858.0,1278.1 L858.1,1276.5 L858.2,1274.9 L858.4,1273.3 L858.5,1271.7 L858.7,1270.1 L858.9,1268.5 L859.0,1266.8 L859.2,1265.2 L859.4,1263.6 L859.5,1262.0" stroke="#00ff00" stroke-width="5.8" fill="none" stroke-dasharray="0.00 6.04 16.28 14.20 0.60 14.20 15.71 13.81 0.60 13.81 16.96 13.81 0.60 13.81 15.72 14.52 0.60 14.52 16.03 14.30 0.60 14.30 18.53 14.64 0.60 14.64 16.05 14.04 0.60 14.04 14.20 15.53 0.60 15.53 16.03 14.26 0.60 14.26 15.34 19.24 0.60 19.24 15.34 13.97 0.60 13.97 14.79 15.26 0.60 15.26 14.82 14.31 0.60 14.31 16.33 14.31 0.60 14.31 16.39 11.08 0.60 11.08 15.22 14.77 0.60 14.77 15.50 14.32 0.60 14.32 15.41 14.82 0.60 14.82 15.80 11.84 0.60 11.84 16.59 12.22 0.60 12.22 17.03 14.41 0.60 14.41 15.72 14.94 0.60 14.94 15.79 14.42 0.60 14.42 15.72 14.12 0.60 14.12 19.08 14.94 0.60 14.94 14.84 12.99 0.60 12.99 18.33 14.37 0.60 14.37 16.32 14.37 0.60 14.37 19.68 14.71 0.60 14.71 15.53 14.76 0.60 14.76 15.43 14.36 0.60 14.36 15.70 12.48 0.60 12.48 16.28 16.16 0.60 16.16 14.31 10.34 0.60 10.34 16.17 14.40 0.60 14.40 16.35 12.17 0.60 12.17 15.21 13.10 0.60 13.10 16.06 13.89 0.60 13.89 15.71 14.68 0.60 14.68 16.47 14.17 0.60 14.17 16.42 14.21 0.60 14.21 19.63 14.37 0.60 14.37 16.47 16.63 0.60 16.63 14.70 16.96 0.60 16.96 15.78 14.05 0.60 14.05 18.34 14.38 0.60 14.38 16.01 15.87 0.60 15.87 15.27 14.45 0.60 14.45 13.96 15.65 0.60 15.65 15.73 13.88 0.60 13.88 16.36 14.73 0.60 14.73 16.11 14.22 0.60 14.22 16.03 14.22 0.60 14.22 16.03 14.34 0.60 14.34 15.71 13.91 0.60 13.91 17.82 13.76 0.60 13.76 15.98 14.66 0.60 14.66 16.37 14.44 0.60 14.44 18.94 16.08 0.60 16.08 15.39 14.54 0.60 14.54 13.28 13.72 0.60 13.72 16.96 13.87 0.60 13.87 15.79 14.55 0.60 14.55 15.56 14.25 0.60 14.25 15.18 14.46 0.60 14.46 17.21 14.18 0.60 14.18 17.08 13.90 0.60 13.90 16.02 14.26 0.60 14.26 16.87 13.81 0.60 13.81 16.86 13.78 0.60 13.78 15.16 22.89 0.60 22.89 15.90 14.27 0.60 14.27 16.85 13.81 0.60 13.81 16.86 13.50 0.90 13.50 18.50 1000.00" stroke-linejoin="miter"/>
</g>
<path d="M344.1,873 H557.8 M345,1033.7 H663.4" stroke="#ff0000" stroke-width="2" stroke-dasharray="13.8 7.1" fill="none"/>
<path d="M425.1,891 V1015.5999999999999" stroke="#ff0000" stroke-width="2" stroke-dasharray="14 6.95" fill="none"/>
<path d="M425.1,872 L417.40000000000003,894.7 L432.8,894.7 Z M425.1,1037.8 L417.40000000000003,1015.0999999999999 L432.8,1015.0999999999999 Z" fill="#ff0000"/>
<rect x="590.2" y="831.3" width="269.0" height="93.20000000000005" fill="#fff" stroke="#555" stroke-width="1.5"/>
<path d="M594.1,856.5 H673.3" stroke="#ff0000" stroke-width="5.8"/>
<path d="M594.1,900.5 H673.3" stroke="#00ff00" stroke-width="5.8" stroke-dasharray="17.9 12.95 0.6 13.45"/>
<rect x="145.8" y="831.3" width="713.4000000000001" height="582.3" fill="none" stroke="#000" stroke-width="2.3"/>
<text transform="translate(126.6,1426.9) scale(0.944,1)" class="sans" font-size="43.6" text-anchor="end">-30</text>
<text transform="translate(126.6,1329.8) scale(0.944,1)" class="sans" font-size="43.6" text-anchor="end">-20</text>
<text transform="translate(126.6,1232.8) scale(0.944,1)" class="sans" font-size="43.6" text-anchor="end">-10</text>
<text transform="translate(126.6,1135.7) scale(0.944,1)" class="sans" font-size="43.6" text-anchor="end">0</text>
<text transform="translate(126.6,1038.7) scale(0.944,1)" class="sans" font-size="43.6" text-anchor="end">10</text>
<text transform="translate(126.6,941.6) scale(0.944,1)" class="sans" font-size="43.6" text-anchor="end">20</text>
<text transform="translate(126.6,844.6) scale(0.944,1)" class="sans" font-size="43.6" text-anchor="end">30</text>
<text transform="translate(185.4,1466.4) scale(0.944,1)" class="sans" font-size="43.6" text-anchor="middle">-80</text>
<text transform="translate(264.7,1466.4) scale(0.944,1)" class="sans" font-size="43.6" text-anchor="middle">-60</text>
<text transform="translate(344.0,1466.4) scale(0.944,1)" class="sans" font-size="43.6" text-anchor="middle">-40</text>
<text transform="translate(423.2,1466.4) scale(0.944,1)" class="sans" font-size="43.6" text-anchor="middle">-20</text>
<text transform="translate(502.5,1466.4) scale(0.944,1)" class="sans" font-size="43.6" text-anchor="middle">0</text>
<text transform="translate(581.8,1466.4) scale(0.944,1)" class="sans" font-size="43.6" text-anchor="middle">20</text>
<text transform="translate(661.0,1466.4) scale(0.944,1)" class="sans" font-size="43.6" text-anchor="middle">40</text>
<text transform="translate(740.3,1466.4) scale(0.944,1)" class="sans" font-size="43.6" text-anchor="middle">60</text>
<text transform="translate(819.6,1466.4) scale(0.944,1)" class="sans" font-size="43.6" text-anchor="middle">80</text>
<text transform="translate(32.3,1196.6) rotate(-90) scale(0.973,1)" class="sans" font-size="45.0">Gain(dBi)</text>
<text transform="translate(392.2,1533.5) scale(0.971,1)" class="sans" font-size="44.8">Theta(Deg)</text>
<text transform="translate(441.0226,1594.1) scale(0.89,1)" class="serifb" font-size="41.5">(b)</text>
<text transform="translate(245.69643200000002,939.2) scale(0.966,1)" class="serif" font-size="47.2">16.6dB</text>
<text transform="translate(672.7,869.2)" class="sans" font-size="35.6">Sim. y-Pol.</text>
<text transform="translate(682.6,913.3)" class="sans" font-size="35.6">Sim. x-Pol.</text>
</svg>
</body></html>
